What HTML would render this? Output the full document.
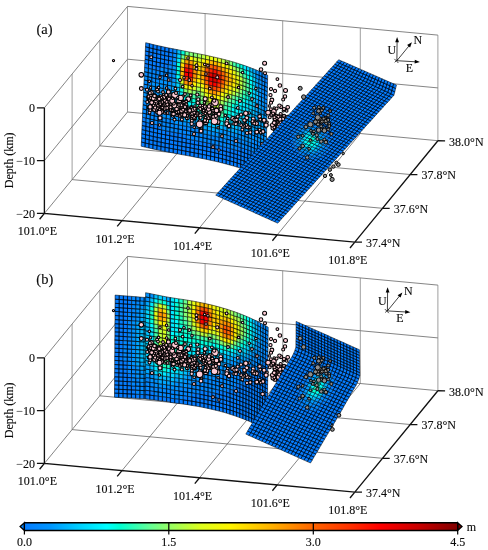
<!DOCTYPE html>
<html><head><meta charset="utf-8"><title>Fault slip models</title>
<style>
html,body{margin:0;padding:0;background:#fff}
svg{display:block}
text{font-family:"Liberation Serif","Times New Roman",serif;font-size:12px;fill:#0a0a0a;stroke:#0a0a0a;stroke-width:.12px}
.g{fill:none;stroke:#505050;stroke-width:.7}
.gv{fill:none;stroke:#7d7d7d;stroke-width:.75}
.ax{fill:none;stroke:#111;stroke-width:1.35;stroke-linejoin:miter}
.ar{fill:none;stroke:#111;stroke-width:.8}
.m{stroke:#000;stroke-width:.55;stroke-linejoin:round}
.n{stroke:#000;stroke-width:.5;stroke-linejoin:round}
.p{fill:#ffccd6;stroke:#000;stroke-width:1.05}
.q{fill:#8e8e8e;stroke:#000;stroke-width:.95}
</style></head><body>
<svg width="488" height="550" viewBox="0 0 488 550">
<rect width="488" height="550" fill="#fff"/>
<path class="g" d="M44.4 213.4L127.5 112M44.4 160.6L127.5 59.2M44.4 107.8L127.5 6.4M127.5 112L437.9 140.7M127.5 59.2L437.9 87.9M127.5 6.4L437.9 35.1M72.1 179.6L382.5 208.3M99.8 145.8L410.2 174.5M122 220.6L205.1 119.2M199.6 227.7L282.7 126.3M277.2 234.9L360.3 133.5"/>
<path class="gv" d="M72.1 179.6L72.1 74M99.8 145.8L99.8 40.2M127.5 112L127.5 6.4M205.1 119.2L205.1 13.6M282.7 126.3L282.7 20.7M360.3 133.5L360.3 27.9M437.9 140.7L437.9 35.1"/>
<path class="m" fill="#057cff" d="M145.7 42.7L149.4 43.6L149.3 47.8L145.5 46.8ZM149.4 43.6L153.2 44.6L153 48.7L149.3 47.8ZM153.2 44.6L157.1 45.5L156.9 49.6L153 48.7ZM157.1 45.5L161 46.3L160.8 50.5L156.9 49.6ZM161 46.3L165 47.2L164.8 51.3L160.8 50.5ZM165 47.2L169 48L168.8 52.2L164.8 51.3ZM169 48L173 48.8L172.8 53L168.8 52.2ZM264.9 73.8L267.7 75.2L267.6 79.3L264.8 78ZM145.5 46.8L149.3 47.8L149.1 51.9L145.3 51ZM149.3 47.8L153 48.7L152.9 52.8L149.1 51.9ZM153 48.7L156.9 49.6L156.7 53.7L152.9 52.8ZM156.9 49.6L160.8 50.5L160.7 54.6L156.7 53.7ZM160.8 50.5L164.8 51.3L164.6 55.5L160.7 54.6ZM164.8 51.3L168.8 52.2L168.6 56.3L164.6 55.5ZM168.8 52.2L172.8 53L172.7 57.1L168.6 56.3ZM264.8 78L267.6 79.3L267.5 83.4L264.8 82.1ZM145.3 51L149.1 51.9L148.9 56.1L145.2 55.1ZM149.1 51.9L152.9 52.8L152.7 57L148.9 56.1ZM152.9 52.8L156.7 53.7L156.6 57.9L152.7 57ZM156.7 53.7L160.7 54.6L160.5 58.7L156.6 57.9ZM160.7 54.6L164.6 55.5L164.5 59.6L160.5 58.7ZM164.6 55.5L168.6 56.3L168.5 60.4L164.5 59.6ZM168.6 56.3L172.7 57.1L172.5 61.2L168.5 60.4ZM145.2 55.1L148.9 56.1L148.7 60.2L145 59.2ZM148.9 56.1L152.7 57L152.5 61.1L148.7 60.2ZM152.7 57L156.6 57.9L156.4 62L152.5 61.1ZM156.6 57.9L160.5 58.7L160.3 62.9L156.4 62ZM160.5 58.7L164.5 59.6L164.3 63.7L160.3 62.9ZM164.5 59.6L168.5 60.4L168.3 64.6L164.3 63.7ZM168.5 60.4L172.5 61.2L172.4 65.4L168.3 64.6ZM145 59.2L148.7 60.2L148.5 64.3L144.8 63.4ZM148.7 60.2L152.5 61.1L152.4 65.3L148.5 64.3ZM152.5 61.1L156.4 62L156.2 66.2L152.4 65.3ZM156.4 62L160.3 62.9L160.2 67L156.2 66.2ZM160.3 62.9L164.3 63.7L164.1 67.9L160.2 67ZM164.3 63.7L168.3 64.6L168.1 68.7L164.1 67.9ZM144.8 63.4L148.5 64.3L148.4 68.5L144.6 67.5ZM148.5 64.3L152.4 65.3L152.2 69.4L148.4 68.5ZM152.4 65.3L156.2 66.2L156.1 70.3L152.2 69.4ZM156.2 66.2L160.2 67L160 71.2L156.1 70.3ZM142.5 117.2L146.2 118.1L146.1 122.3L142.3 121.3ZM142.3 121.3L146.1 122.3L145.9 126.4L142.1 125.5ZM146.1 122.3L149.9 123.2L149.7 127.3L145.9 126.4ZM149.9 123.2L153.8 124.1L153.7 128.2L149.7 127.3ZM153.8 124.1L157.8 124.9L157.6 129.1L153.7 128.2ZM157.8 124.9L161.8 125.8L161.7 129.9L157.6 129.1ZM263.3 152.1L266.2 153.5L266.1 157.6L263.3 156.2ZM142.1 125.5L145.9 126.4L145.7 130.6L141.9 129.6ZM145.9 126.4L149.7 127.3L149.6 131.5L145.7 130.6ZM149.7 127.3L153.7 128.2L153.5 132.4L149.6 131.5ZM153.7 128.2L157.6 129.1L157.5 133.2L153.5 132.4ZM157.6 129.1L161.7 129.9L161.5 134.1L157.5 133.2ZM161.7 129.9L165.7 130.7L165.6 134.9L161.5 134.1ZM165.7 130.7L169.8 131.5L169.7 135.7L165.6 134.9ZM169.8 131.5L173.9 132.3L173.8 136.5L169.7 135.7ZM173.9 132.3L178.1 133.1L177.9 137.2L173.8 136.5ZM178.1 133.1L182.3 133.9L182.1 138L177.9 137.2ZM182.3 133.9L186.4 134.7L186.3 138.8L182.1 138ZM237.6 146.5L241.1 147.6L241 151.7L237.5 150.6ZM241.1 147.6L244.5 148.8L244.4 152.9L241 151.7ZM244.5 148.8L247.9 150L247.8 154.1L244.4 152.9ZM247.9 150L251.1 151.2L251 155.3L247.8 154.1ZM251.1 151.2L254.3 152.4L254.2 156.5L251 155.3ZM254.3 152.4L257.3 153.7L257.3 157.8L254.2 156.5ZM257.3 153.7L260.3 154.9L260.3 159.1L257.3 157.8ZM260.3 154.9L263.3 156.2L263.2 160.4L260.3 159.1ZM263.3 156.2L266.1 157.6L266 161.7L263.2 160.4ZM141.9 129.6L145.7 130.6L145.5 134.7L141.7 133.8ZM145.7 130.6L149.6 131.5L149.4 135.6L145.5 134.7ZM149.6 131.5L153.5 132.4L153.3 136.5L149.4 135.6ZM153.5 132.4L157.5 133.2L157.3 137.4L153.3 136.5ZM157.5 133.2L161.5 134.1L161.3 138.2L157.3 137.4ZM161.5 134.1L165.6 134.9L165.4 139L161.3 138.2ZM165.6 134.9L169.7 135.7L169.5 139.8L165.4 139ZM169.7 135.7L173.8 136.5L173.6 140.6L169.5 139.8ZM173.8 136.5L177.9 137.2L177.8 141.4L173.6 140.6ZM177.9 137.2L182.1 138L182 142.1L177.8 141.4ZM182.1 138L186.3 138.8L186.1 142.9L182 142.1ZM186.3 138.8L190.4 139.6L190.3 143.7L186.1 142.9ZM190.4 139.6L194.6 140.4L194.4 144.5L190.3 143.7ZM194.6 140.4L198.7 141.2L198.6 145.3L194.4 144.5ZM198.7 141.2L202.8 142L202.7 146.1L198.6 145.3ZM202.8 142L206.9 142.8L206.8 146.9L202.7 146.1ZM206.9 142.8L210.9 143.7L210.8 147.8L206.8 146.9ZM210.9 143.7L214.9 144.6L214.8 148.7L210.8 147.8ZM214.9 144.6L218.9 145.5L218.7 149.6L214.8 148.7ZM218.9 145.5L222.7 146.5L222.6 150.6L218.7 149.6ZM222.7 146.5L226.6 147.5L226.4 151.6L222.6 150.6ZM226.6 147.5L230.3 148.5L230.2 152.6L226.4 151.6ZM230.3 148.5L233.9 149.5L233.8 153.7L230.2 152.6ZM233.9 149.5L237.5 150.6L237.4 154.7L233.8 153.7ZM237.5 150.6L241 151.7L240.9 155.9L237.4 154.7ZM241 151.7L244.4 152.9L244.3 157L240.9 155.9ZM244.4 152.9L247.8 154.1L247.7 158.2L244.3 157ZM247.8 154.1L251 155.3L250.9 159.4L247.7 158.2ZM251 155.3L254.2 156.5L254.1 160.6L250.9 159.4ZM254.2 156.5L257.3 157.8L257.2 161.9L254.1 160.6ZM257.3 157.8L260.3 159.1L260.2 163.2L257.2 161.9ZM260.3 159.1L263.2 160.4L263.1 164.5L260.2 163.2ZM263.2 160.4L266 161.7L265.9 165.8L263.1 164.5ZM141.7 133.8L145.5 134.7L145.4 138.8L141.6 137.9ZM145.5 134.7L149.4 135.6L149.2 139.8L145.4 138.8ZM149.4 135.6L153.3 136.5L153.1 140.6L149.2 139.8ZM153.3 136.5L157.3 137.4L157.1 141.5L153.1 140.6ZM157.3 137.4L161.3 138.2L161.2 142.3L157.1 141.5ZM161.3 138.2L165.4 139L165.2 143.2L161.2 142.3ZM165.4 139L169.5 139.8L169.3 143.9L165.2 143.2ZM169.5 139.8L173.6 140.6L173.5 144.7L169.3 143.9ZM173.6 140.6L177.8 141.4L177.6 145.5L173.5 144.7ZM177.8 141.4L182 142.1L181.8 146.3L177.6 145.5ZM182 142.1L186.1 142.9L186 147.1L181.8 146.3ZM186.1 142.9L190.3 143.7L190.1 147.8L186 147.1ZM190.3 143.7L194.4 144.5L194.3 148.6L190.1 147.8ZM194.4 144.5L198.6 145.3L198.4 149.4L194.3 148.6ZM198.6 145.3L202.7 146.1L202.6 150.2L198.4 149.4ZM202.7 146.1L206.8 146.9L206.6 151.1L202.6 150.2ZM206.8 146.9L210.8 147.8L210.7 151.9L206.6 151.1ZM210.8 147.8L214.8 148.7L214.7 152.8L210.7 151.9ZM214.8 148.7L218.7 149.6L218.6 153.8L214.7 152.8ZM218.7 149.6L222.6 150.6L222.5 154.7L218.6 153.8ZM222.6 150.6L226.4 151.6L226.3 155.7L222.5 154.7ZM226.4 151.6L230.2 152.6L230.1 156.7L226.3 155.7ZM230.2 152.6L233.8 153.7L233.7 157.8L230.1 156.7ZM233.8 153.7L237.4 154.7L237.3 158.9L233.7 157.8ZM237.4 154.7L240.9 155.9L240.8 160L237.3 158.9ZM240.9 155.9L244.3 157L244.2 161.1L240.8 160ZM244.3 157L247.7 158.2L247.6 162.3L244.2 161.1ZM247.7 158.2L250.9 159.4L250.8 163.5L247.6 162.3ZM250.9 159.4L254.1 160.6L254 164.8L250.8 163.5ZM254.1 160.6L257.2 161.9L257.1 166L254 164.8ZM257.2 161.9L260.2 163.2L260.1 167.3L257.1 166ZM260.2 163.2L263.1 164.5L263 168.6L260.1 167.3ZM263.1 164.5L265.9 165.8L265.9 169.9L263 168.6ZM141.6 137.9L145.4 138.8L145.2 143L141.4 142ZM145.4 138.8L149.2 139.8L149 143.9L145.2 143ZM149.2 139.8L153.1 140.6L153 144.8L149 143.9ZM153.1 140.6L157.1 141.5L157 145.6L153 144.8ZM157.1 141.5L161.2 142.3L161 146.5L157 145.6ZM161.2 142.3L165.2 143.2L165.1 147.3L161 146.5ZM165.2 143.2L169.3 143.9L169.2 148.1L165.1 147.3ZM169.3 143.9L173.5 144.7L173.3 148.9L169.2 148.1ZM173.5 144.7L177.6 145.5L177.5 149.6L173.3 148.9ZM177.6 145.5L181.8 146.3L181.7 150.4L177.5 149.6ZM181.8 146.3L186 147.1L185.8 151.2L181.7 150.4ZM186 147.1L190.1 147.8L190 152L185.8 151.2ZM190.1 147.8L194.3 148.6L194.2 152.8L190 152ZM194.3 148.6L198.4 149.4L198.3 153.6L194.2 152.8ZM198.4 149.4L202.6 150.2L202.4 154.4L198.3 153.6ZM202.6 150.2L206.6 151.1L206.5 155.2L202.4 154.4ZM206.6 151.1L210.7 151.9L210.6 156.1L206.5 155.2ZM210.7 151.9L214.7 152.8L214.6 157L210.6 156.1ZM214.7 152.8L218.6 153.8L218.5 157.9L214.6 157ZM218.6 153.8L222.5 154.7L222.4 158.8L218.5 157.9ZM222.5 154.7L226.3 155.7L226.2 159.8L222.4 158.8ZM226.3 155.7L230.1 156.7L229.9 160.9L226.2 159.8ZM230.1 156.7L233.7 157.8L233.6 161.9L229.9 160.9ZM233.7 157.8L237.3 158.9L237.2 163L233.6 161.9ZM237.3 158.9L240.8 160L240.7 164.1L237.2 163ZM240.8 160L244.2 161.1L244.1 165.3L240.7 164.1ZM244.2 161.1L247.6 162.3L247.5 166.4L244.1 165.3ZM247.6 162.3L250.8 163.5L250.7 167.7L247.5 166.4ZM250.8 163.5L254 164.8L253.9 168.9L250.7 167.7ZM254 164.8L257.1 166L257 170.1L253.9 168.9ZM257.1 166L260.1 167.3L260 171.4L257 170.1ZM260.1 167.3L263 168.6L262.9 172.7L260 171.4ZM263 168.6L265.9 169.9L265.8 174.1L262.9 172.7ZM141.4 142L145.2 143L145 147.1L141.2 146.2ZM145.2 143L149 143.9L148.9 148L145 147.1ZM149 143.9L153 144.8L152.8 148.9L148.9 148ZM153 144.8L157 145.6L156.8 149.8L152.8 148.9ZM157 145.6L161 146.5L160.8 150.6L156.8 149.8ZM161 146.5L165.1 147.3L164.9 151.4L160.8 150.6ZM165.1 147.3L169.2 148.1L169 152.2L164.9 151.4ZM169.2 148.1L173.3 148.9L173.2 153L169 152.2ZM173.3 148.9L177.5 149.6L177.3 153.8L173.2 153ZM177.5 149.6L181.7 150.4L181.5 154.6L177.3 153.8ZM181.7 150.4L185.8 151.2L185.7 155.3L181.5 154.6ZM185.8 151.2L190 152L189.9 156.1L185.7 155.3ZM190 152L194.2 152.8L194 156.9L189.9 156.1ZM194.2 152.8L198.3 153.6L198.2 157.7L194 156.9ZM198.3 153.6L202.4 154.4L202.3 158.5L198.2 157.7ZM202.4 154.4L206.5 155.2L206.4 159.3L202.3 158.5ZM206.5 155.2L210.6 156.1L210.4 160.2L206.4 159.3ZM210.6 156.1L214.6 157L214.4 161.1L210.4 160.2ZM214.6 157L218.5 157.9L218.4 162L214.4 161.1ZM218.5 157.9L222.4 158.8L222.3 163L218.4 162ZM222.4 158.8L226.2 159.8L226.1 164L222.3 163ZM226.2 159.8L229.9 160.9L229.8 165L226.1 164ZM229.9 160.9L233.6 161.9L233.5 166L229.8 165ZM233.6 161.9L237.2 163L237.1 167.1L233.5 166ZM237.2 163L240.7 164.1L240.6 168.2L237.1 167.1ZM240.7 164.1L244.1 165.3L244 169.4L240.6 168.2ZM244.1 165.3L247.5 166.4L247.4 170.6L244 169.4ZM247.5 166.4L250.7 167.7L250.6 171.8L247.4 170.6ZM250.7 167.7L253.9 168.9L253.8 173L250.6 171.8ZM253.9 168.9L257 170.1L256.9 174.3L253.8 173ZM257 170.1L260 171.4L259.9 175.5L256.9 174.3ZM260 171.4L262.9 172.7L262.8 176.8L259.9 175.5ZM262.9 172.7L265.8 174.1L265.7 178.2L262.8 176.8Z"/>
<path class="m" fill="#0388ff" d="M173 48.8L177.1 49.6L176.9 53.8L172.8 53ZM259.1 71.2L262.1 72.5L262 76.6L259 75.3ZM262.1 72.5L264.9 73.8L264.8 78L262 76.6ZM172.8 53L176.9 53.8L176.7 57.9L172.7 57.1ZM259 75.3L262 76.6L261.9 80.8L259 79.5ZM262 76.6L264.8 78L264.8 82.1L261.9 80.8ZM172.7 57.1L176.7 57.9L176.6 62L172.5 61.2ZM261.9 80.8L264.8 82.1L264.7 86.2L261.8 84.9ZM264.8 82.1L267.5 83.4L267.5 87.5L264.7 86.2ZM261.8 84.9L264.7 86.2L264.6 90.3L261.7 89ZM264.7 86.2L267.5 87.5L267.4 91.7L264.6 90.3ZM168.3 64.6L172.4 65.4L172.2 69.5L168.1 68.7ZM261.7 89L264.6 90.3L264.5 94.4L261.6 93.1ZM264.6 90.3L267.4 91.7L267.3 95.8L264.5 94.4ZM160.2 67L164.1 67.9L164 72L160 71.2ZM164.1 67.9L168.1 68.7L168 72.8L164 72ZM168.1 68.7L172.2 69.5L172 73.6L168 72.8ZM261.6 93.1L264.5 94.4L264.4 98.6L261.5 97.2ZM264.5 94.4L267.3 95.8L267.2 99.9L264.4 98.6ZM144.6 67.5L148.4 68.5L148.2 72.6L144.4 71.7ZM148.4 68.5L152.2 69.4L152 73.5L148.2 72.6ZM152.2 69.4L156.1 70.3L155.9 74.4L152 73.5ZM156.1 70.3L160 71.2L159.8 75.3L155.9 74.4ZM160 71.2L164 72L163.8 76.1L159.8 75.3ZM164 72L168 72.8L167.8 77L163.8 76.1ZM168 72.8L172 73.6L171.9 77.8L167.8 77ZM264.4 98.6L267.2 99.9L267.1 104L264.3 102.7ZM144.4 71.7L148.2 72.6L148 76.7L144.3 75.8ZM148.2 72.6L152 73.5L151.8 77.7L148 76.7ZM152 73.5L155.9 74.4L155.7 78.6L151.8 77.7ZM155.9 74.4L159.8 75.3L159.6 79.4L155.7 78.6ZM159.8 75.3L163.8 76.1L163.6 80.3L159.6 79.4ZM163.8 76.1L167.8 77L167.7 81.1L163.6 80.3ZM167.8 77L171.9 77.8L171.7 81.9L167.7 81.1ZM264.3 102.7L267.1 104L267.1 108.1L264.3 106.8ZM144.3 75.8L148 76.7L147.8 80.9L144.1 79.9ZM148 76.7L151.8 77.7L151.7 81.8L147.8 80.9ZM151.8 77.7L155.7 78.6L155.5 82.7L151.7 81.8ZM155.7 78.6L159.6 79.4L159.5 83.6L155.5 82.7ZM144.1 79.9L147.8 80.9L147.7 85L143.9 84.1ZM147.8 80.9L151.7 81.8L151.5 85.9L147.7 85ZM143.9 84.1L147.7 85L147.5 89.2L143.7 88.2ZM143.2 100.6L147 101.6L146.8 105.7L143 104.8ZM143 104.8L146.8 105.7L146.6 109.9L142.8 108.9ZM146.8 105.7L150.6 106.6L150.4 110.8L146.6 109.9ZM142.8 108.9L146.6 109.9L146.4 114L142.6 113.1ZM146.6 109.9L150.4 110.8L150.3 114.9L146.4 114ZM150.4 110.8L154.3 111.7L154.2 115.8L150.3 114.9ZM154.3 111.7L158.3 112.5L158.1 116.7L154.2 115.8ZM158.3 112.5L162.3 113.4L162.2 117.5L158.1 116.7ZM263.6 139.8L266.4 141.1L266.3 145.2L263.5 143.9ZM142.6 113.1L146.4 114L146.2 118.1L142.5 117.2ZM146.4 114L150.3 114.9L150.1 119.1L146.2 118.1ZM150.3 114.9L154.2 115.8L154 119.9L150.1 119.1ZM154.2 115.8L158.1 116.7L158 120.8L154 119.9ZM158.1 116.7L162.2 117.5L162 121.6L158 120.8ZM162.2 117.5L166.2 118.3L166 122.5L162 121.6ZM166.2 118.3L170.3 119.1L170.1 123.3L166 122.5ZM170.3 119.1L174.4 119.9L174.3 124.1L170.1 123.3ZM251.4 138.8L254.5 140L254.5 144.2L251.3 142.9ZM254.5 140L257.6 141.3L257.5 145.4L254.5 144.2ZM257.6 141.3L260.6 142.6L260.5 146.7L257.5 145.4ZM260.6 142.6L263.5 143.9L263.4 148L260.5 146.7ZM263.5 143.9L266.3 145.2L266.3 149.3L263.4 148ZM146.2 118.1L150.1 119.1L149.9 123.2L146.1 122.3ZM150.1 119.1L154 119.9L153.8 124.1L149.9 123.2ZM154 119.9L158 120.8L157.8 124.9L153.8 124.1ZM158 120.8L162 121.6L161.8 125.8L157.8 124.9ZM162 121.6L166 122.5L165.9 126.6L161.8 125.8ZM166 122.5L170.1 123.3L170 127.4L165.9 126.6ZM170.1 123.3L174.3 124.1L174.1 128.2L170 127.4ZM174.3 124.1L178.4 124.8L178.2 129L174.1 128.2ZM178.4 124.8L182.6 125.6L182.4 129.7L178.2 129ZM182.6 125.6L186.7 126.4L186.6 130.5L182.4 129.7ZM186.7 126.4L190.9 127.2L190.7 131.3L186.6 130.5ZM190.9 127.2L195 128L194.9 132.1L190.7 131.3ZM195 128L199.1 128.8L199 132.9L194.9 132.1ZM226.9 135.1L230.6 136.1L230.5 140.2L226.8 139.2ZM230.6 136.1L234.3 137.2L234.2 141.3L230.5 140.2ZM234.3 137.2L237.8 138.2L237.7 142.4L234.2 141.3ZM237.8 138.2L241.3 139.4L241.2 143.5L237.7 142.4ZM241.3 139.4L244.7 140.5L244.6 144.6L241.2 143.5ZM244.7 140.5L248.1 141.7L248 145.8L244.6 144.6ZM248.1 141.7L251.3 142.9L251.2 147L248 145.8ZM251.3 142.9L254.5 144.2L254.4 148.3L251.2 147ZM254.5 144.2L257.5 145.4L257.4 149.5L254.4 148.3ZM257.5 145.4L260.5 146.7L260.4 150.8L257.4 149.5ZM260.5 146.7L263.4 148L263.3 152.1L260.4 150.8ZM263.4 148L266.3 149.3L266.2 153.5L263.3 152.1ZM161.8 125.8L165.9 126.6L165.7 130.7L161.7 129.9ZM165.9 126.6L170 127.4L169.8 131.5L165.7 130.7ZM170 127.4L174.1 128.2L173.9 132.3L169.8 131.5ZM174.1 128.2L178.2 129L178.1 133.1L173.9 132.3ZM178.2 129L182.4 129.7L182.3 133.9L178.1 133.1ZM182.4 129.7L186.6 130.5L186.4 134.7L182.3 133.9ZM186.6 130.5L190.7 131.3L190.6 135.4L186.4 134.7ZM190.7 131.3L194.9 132.1L194.7 136.2L190.6 135.4ZM194.9 132.1L199 132.9L198.9 137L194.7 136.2ZM199 132.9L203.1 133.7L203 137.8L198.9 137ZM203.1 133.7L207.2 134.6L207 138.7L203 137.8ZM207.2 134.6L211.2 135.4L211.1 139.6L207 138.7ZM211.2 135.4L215.2 136.3L215.1 140.4L211.1 139.6ZM215.2 136.3L219.1 137.2L219 141.4L215.1 140.4ZM219.1 137.2L223 138.2L222.9 142.3L219 141.4ZM223 138.2L226.8 139.2L226.7 143.3L222.9 142.3ZM226.8 139.2L230.5 140.2L230.4 144.3L226.7 143.3ZM230.5 140.2L234.2 141.3L234.1 145.4L230.4 144.3ZM234.2 141.3L237.7 142.4L237.6 146.5L234.1 145.4ZM237.7 142.4L241.2 143.5L241.1 147.6L237.6 146.5ZM241.2 143.5L244.6 144.6L244.5 148.8L241.1 147.6ZM244.6 144.6L248 145.8L247.9 150L244.5 148.8ZM248 145.8L251.2 147L251.1 151.2L247.9 150ZM251.2 147L254.4 148.3L254.3 152.4L251.1 151.2ZM254.4 148.3L257.4 149.5L257.3 153.7L254.3 152.4ZM257.4 149.5L260.4 150.8L260.3 154.9L257.3 153.7ZM260.4 150.8L263.3 152.1L263.3 156.2L260.3 154.9ZM186.4 134.7L190.6 135.4L190.4 139.6L186.3 138.8ZM190.6 135.4L194.7 136.2L194.6 140.4L190.4 139.6ZM194.7 136.2L198.9 137L198.7 141.2L194.6 140.4ZM198.9 137L203 137.8L202.8 142L198.7 141.2ZM203 137.8L207 138.7L206.9 142.8L202.8 142ZM207 138.7L211.1 139.6L210.9 143.7L206.9 142.8ZM211.1 139.6L215.1 140.4L214.9 144.6L210.9 143.7ZM215.1 140.4L219 141.4L218.9 145.5L214.9 144.6ZM219 141.4L222.9 142.3L222.7 146.5L218.9 145.5ZM222.9 142.3L226.7 143.3L226.6 147.5L222.7 146.5ZM226.7 143.3L230.4 144.3L230.3 148.5L226.6 147.5ZM230.4 144.3L234.1 145.4L233.9 149.5L230.3 148.5ZM234.1 145.4L237.6 146.5L237.5 150.6L233.9 149.5Z"/>
<path class="m" fill="#00beff" d="M177.1 49.6L181.1 50.4L181 54.6L176.9 53.8ZM249.8 67.5L253 68.7L252.9 72.8L249.7 71.6ZM252.9 72.8L256 74.1L255.9 78.2L252.8 76.9ZM255.7 86.4L258.8 87.7L258.7 91.8L255.7 90.6ZM255.7 90.6L258.7 91.8L258.6 96L255.6 94.7ZM255.6 94.7L258.6 96L258.5 100.1L255.5 98.8ZM252.3 101.7L255.4 102.9L255.3 107L252.2 105.8ZM175.7 86.8L179.8 87.6L179.6 91.8L175.5 91ZM252.2 105.8L255.3 107L255.2 111.2L252.1 109.9ZM175.5 91L179.6 91.8L179.5 95.9L175.3 95.1ZM248.9 108.7L252.1 109.9L252 114.1L248.8 112.8ZM252.1 109.9L255.2 111.2L255.1 115.3L252 114.1ZM175.3 95.1L179.5 95.9L179.3 100L175.2 99.2ZM248.8 112.8L252 114.1L251.9 118.2L248.7 117ZM252 114.1L255.1 115.3L255 119.4L251.9 118.2ZM175.2 99.2L179.3 100L179.2 104.2L175 103.4ZM245.4 115.8L248.7 117L248.6 121.1L245.2 119.9ZM248.7 117L251.9 118.2L251.8 122.3L248.6 121.1ZM251.9 118.2L255 119.4L254.9 123.5L251.8 122.3ZM175 103.4L179.2 104.2L179 108.3L174.9 107.5ZM179.2 104.2L183.3 104.9L183.1 109.1L179 108.3ZM241.9 118.7L245.2 119.9L245.1 124L241.8 122.9ZM245.2 119.9L248.6 121.1L248.5 125.2L245.1 124ZM248.6 121.1L251.8 122.3L251.7 126.4L248.5 125.2ZM179 108.3L183.1 109.1L183 113.2L178.9 112.4ZM183.1 109.1L187.3 109.9L187.1 114L183 113.2ZM234.7 120.6L238.3 121.7L238.2 125.9L234.6 124.8ZM238.3 121.7L241.8 122.9L241.7 127L238.2 125.9ZM241.8 122.9L245.1 124L245 128.1L241.7 127ZM187.1 114L191.3 114.8L191.2 118.9L187 118.1ZM191.3 114.8L195.4 115.6L195.3 119.7L191.2 118.9ZM227.3 122.7L231 123.7L230.9 127.8L227.1 126.8ZM231 123.7L234.6 124.8L234.5 128.9L230.9 127.8ZM234.6 124.8L238.2 125.9L238.1 130L234.5 128.9ZM199.4 120.5L203.5 121.3L203.4 125.5L199.3 124.6ZM203.5 121.3L207.6 122.2L207.4 126.3L203.4 125.5ZM207.6 122.2L211.6 123L211.5 127.2L207.4 126.3ZM211.6 123L215.6 123.9L215.4 128.1L211.5 127.2ZM215.6 123.9L219.5 124.9L219.4 129L215.4 128.1ZM219.5 124.9L223.3 125.8L223.2 129.9L219.4 129Z"/>
<path class="m" fill="#00ffdc" d="M181.1 50.4L185.2 51.2L185.1 55.3L181 54.6ZM239.8 64L243.2 65.1L243.1 69.2L239.7 68.1ZM243.1 69.2L246.5 70.4L246.4 74.5L243 73.4ZM246.4 74.5L249.6 75.7L249.5 79.8L246.3 78.7ZM176.6 62L180.7 62.8L180.5 67L176.4 66.2ZM176.4 66.2L180.5 67L180.4 71.1L176.3 70.3ZM249.4 84L252.6 85.2L252.5 89.3L249.3 88.1ZM176.3 70.3L180.4 71.1L180.2 75.2L176.1 74.4ZM249.3 88.1L252.5 89.3L252.4 93.4L249.2 92.2ZM245.9 95.2L249.1 96.3L249 100.5L245.8 99.3ZM242.4 98.1L245.8 99.3L245.7 103.4L242.3 102.2ZM179.8 87.6L183.9 88.4L183.7 92.5L179.6 91.8ZM235.3 100L238.8 101.1L238.7 105.2L235.2 104.1ZM231.5 103.1L235.2 104.1L235 108.3L231.4 107.2ZM187.7 97.5L191.9 98.2L191.7 102.4L187.6 101.6ZM191.9 98.2L196 99L195.9 103.2L191.7 102.4ZM227.6 110.3L231.3 111.3L231.2 115.5L227.5 114.4ZM195.7 107.3L199.8 108.1L199.7 112.2L195.6 111.4ZM223.7 113.4L227.5 114.4L227.4 118.6L223.6 117.6ZM203.8 113.1L207.8 113.9L207.7 118L203.6 117.2ZM215.8 115.7L219.7 116.6L219.6 120.7L215.7 119.8ZM219.7 116.6L223.6 117.6L223.5 121.7L219.6 120.7Z"/>
<path class="m" fill="#68ff92" d="M185.2 51.2L189.3 52L189.2 56.1L185.1 55.3ZM181 54.6L185.1 55.3L184.9 59.5L180.8 58.7ZM239 92.9L242.5 94L242.4 98.1L238.9 97ZM179.9 83.5L184 84.3L183.9 88.4L179.8 87.6ZM231.8 94.8L235.4 95.9L235.3 100L231.6 99ZM196.3 90.8L200.4 91.6L200.2 95.7L196.1 94.9ZM227.9 97.9L231.6 99L231.5 103.1L227.8 102.1ZM224.1 101.1L227.8 102.1L227.7 106.2L223.9 105.2ZM200.1 99.8L204.2 100.7L204 104.8L200 104ZM220 108.3L223.8 109.3L223.7 113.4L219.9 112.5ZM208 109.8L212 110.6L211.8 114.8L207.8 113.9ZM212 110.6L215.9 111.5L215.8 115.7L211.8 114.8ZM215.9 111.5L219.9 112.5L219.7 116.6L215.8 115.7Z"/>
<path class="m" fill="#85ff75" d="M189.3 52L193.4 52.8L193.3 56.9L189.2 56.1ZM193.4 52.8L197.5 53.6L197.4 57.7L193.3 56.9ZM229 60.8L232.7 61.8L232.6 65.9L228.9 64.9ZM236.2 67L239.7 68.1L239.6 72.2L236 71.1ZM239.6 72.2L243 73.4L242.9 77.5L239.5 76.4ZM242.9 77.5L246.3 78.7L246.2 82.8L242.8 81.6ZM242.8 81.6L246.2 82.8L246.1 86.9L242.7 85.7ZM242.7 85.7L246.1 86.9L246 91L242.6 89.9ZM239.1 88.7L242.6 89.9L242.5 94L239 92.9ZM235.5 91.8L239 92.9L238.9 97L235.4 95.9ZM183.9 88.4L188 89.2L187.9 93.3L183.7 92.5ZM192.2 90L196.3 90.8L196.1 94.9L192 94.1ZM200.2 95.7L204.3 96.5L204.2 100.7L200.1 99.8ZM220.1 104.2L223.9 105.2L223.8 109.3L220 108.3ZM204 104.8L208.1 105.6L208 109.8L203.9 108.9Z"/>
<path class="m" fill="#a2ff58" d="M197.5 53.6L201.6 54.4L201.5 58.5L197.4 57.7ZM225.3 59.8L229 60.8L228.9 64.9L225.1 63.9ZM232.6 65.9L236.2 67L236 71.1L232.4 70.1ZM196.4 86.6L200.5 87.4L200.4 91.6L196.3 90.8ZM228.1 93.8L231.8 94.8L231.6 99L227.9 97.9ZM188 89.2L192.2 90L192 94.1L187.9 93.3ZM200.4 91.6L204.4 92.4L204.3 96.5L200.2 95.7ZM224.2 96.9L227.9 97.9L227.8 102.1L224.1 101.1ZM220.2 100.1L224.1 101.1L223.9 105.2L220.1 104.2ZM204.2 100.7L208.2 101.5L208.1 105.6L204 104.8ZM208.1 105.6L212.1 106.5L212 110.6L208 109.8ZM212.1 106.5L216.1 107.4L215.9 111.5L212 110.6ZM216.1 107.4L220 108.3L219.9 112.5L215.9 111.5Z"/>
<path class="m" fill="#bcff3e" d="M201.6 54.4L205.7 55.2L205.5 59.4L201.5 58.5ZM221.4 58.8L225.3 59.8L225.1 63.9L221.3 62.9ZM236 71.1L239.6 72.2L239.5 76.4L235.9 75.3ZM239.5 76.4L242.9 77.5L242.8 81.6L239.4 80.5ZM239.4 80.5L242.8 81.6L242.7 85.7L239.2 84.6ZM239.2 84.6L242.7 85.7L242.6 89.9L239.1 88.7ZM235.6 87.6L239.1 88.7L239 92.9L235.5 91.8ZM231.9 90.7L235.5 91.8L235.4 95.9L231.8 94.8ZM204.3 96.5L208.4 97.4L208.2 101.5L204.2 100.7ZM208.2 101.5L212.2 102.4L212.1 106.5L208.1 105.6ZM216.2 103.3L220.1 104.2L220 108.3L216.1 107.4Z"/>
<path class="m" fill="#d7ff23" d="M205.7 55.2L209.7 56.1L209.5 60.2L205.5 59.4ZM217.6 57.9L221.4 58.8L221.3 62.9L217.4 62ZM193.3 56.9L197.4 57.7L197.3 61.8L193.2 61ZM197.4 57.7L201.5 58.5L201.3 62.7L197.3 61.8ZM228.9 64.9L232.6 65.9L232.4 70.1L228.8 69ZM180.8 58.7L184.9 59.5L184.8 63.6L180.7 62.8ZM180.1 79.4L184.2 80.1L184 84.3L179.9 83.5ZM196.6 82.5L200.6 83.3L200.5 87.4L196.4 86.6ZM192.3 85.8L196.4 86.6L196.3 90.8L192.2 90ZM200.5 87.4L204.6 88.3L204.4 92.4L200.4 91.6ZM224.3 92.8L228.1 93.8L227.9 97.9L224.2 96.9ZM220.3 96L224.2 96.9L224.1 101.1L220.2 100.1ZM216.3 99.2L220.2 100.1L220.1 104.2L216.2 103.3ZM212.2 102.4L216.2 103.3L216.1 107.4L212.1 106.5Z"/>
<path class="m" fill="#e7fc15" d="M209.7 56.1L213.6 57L213.5 61.1L209.5 60.2ZM213.6 57L217.6 57.9L217.4 62L213.5 61.1ZM185.1 55.3L189.2 56.1L189.1 60.3L184.9 59.5ZM232.4 70.1L236 71.1L235.9 75.3L232.3 74.2ZM235.9 75.3L239.5 76.4L239.4 80.5L235.8 79.4ZM235.8 79.4L239.4 80.5L239.2 84.6L235.7 83.5ZM235.7 83.5L239.2 84.6L239.1 88.7L235.6 87.6ZM232 86.6L235.6 87.6L235.5 91.8L231.9 90.7ZM228.2 89.7L231.9 90.7L231.8 94.8L228.1 93.8ZM204.4 92.4L208.5 93.3L208.4 97.4L204.3 96.5ZM208.4 97.4L212.4 98.3L212.2 102.4L208.2 101.5ZM212.4 98.3L216.3 99.2L216.2 103.3L212.2 102.4Z"/>
<path class="m" fill="#43ffaa" d="M232.7 61.8L236.3 62.9L236.2 67L232.6 65.9ZM239.7 68.1L243.1 69.2L243 73.4L239.6 72.2ZM243 73.4L246.4 74.5L246.3 78.7L242.9 77.5ZM246.3 78.7L249.5 79.8L249.4 84L246.2 82.8ZM246.2 82.8L249.4 84L249.3 88.1L246.1 86.9ZM246.1 86.9L249.3 88.1L249.2 92.2L246 91ZM242.6 89.9L246 91L245.9 95.2L242.5 94ZM235.4 95.9L238.9 97L238.8 101.1L235.3 100ZM231.6 99L235.3 100L235.2 104.1L231.5 103.1ZM187.9 93.3L192 94.1L191.9 98.2L187.7 97.5ZM192 94.1L196.1 94.9L196 99L191.9 98.2ZM196.1 94.9L200.2 95.7L200.1 99.8L196 99ZM227.8 102.1L231.5 103.1L231.4 107.2L227.7 106.2ZM196 99L200.1 99.8L200 104L195.9 103.2ZM223.9 105.2L227.7 106.2L227.6 110.3L223.8 109.3ZM200 104L204 104.8L203.9 108.9L199.8 108.1ZM203.9 108.9L208 109.8L207.8 113.9L203.8 113.1ZM219.9 112.5L223.7 113.4L223.6 117.6L219.7 116.6Z"/>
<path class="m" fill="#1dffc1" d="M236.3 62.9L239.8 64L239.7 68.1L236.2 67ZM246 91L249.2 92.2L249.1 96.3L245.9 95.2ZM242.5 94L245.9 95.2L245.8 99.3L242.4 98.1ZM238.9 97L242.4 98.1L242.3 102.2L238.8 101.1ZM183.7 92.5L187.9 93.3L187.7 97.5L183.6 96.7ZM227.7 106.2L231.4 107.2L231.3 111.3L227.6 110.3ZM195.9 103.2L200 104L199.8 108.1L195.7 107.3ZM223.8 109.3L227.6 110.3L227.5 114.4L223.7 113.4ZM199.8 108.1L203.9 108.9L203.8 113.1L199.7 112.2ZM207.8 113.9L211.8 114.8L211.7 118.9L207.7 118ZM211.8 114.8L215.8 115.7L215.7 119.8L211.7 118.9Z"/>
<path class="m" fill="#00e8ff" d="M243.2 65.1L246.6 66.3L246.5 70.4L243.1 69.2ZM176.7 57.9L180.8 58.7L180.7 62.8L176.6 62ZM252.6 85.2L255.7 86.4L255.7 90.6L252.5 89.3ZM176 78.6L180.1 79.4L179.9 83.5L175.8 82.7ZM249.1 96.3L252.3 97.6L252.3 101.7L249 100.5ZM245.8 99.3L249 100.5L248.9 104.6L245.7 103.4ZM242.3 102.2L245.7 103.4L245.6 107.5L242.2 106.4ZM245.7 103.4L248.9 104.6L248.9 108.7L245.6 107.5ZM179.6 91.8L183.7 92.5L183.6 96.7L179.5 95.9ZM238.7 105.2L242.2 106.4L242.1 110.5L238.6 109.4ZM242.2 106.4L245.6 107.5L245.5 111.7L242.1 110.5ZM238.6 109.4L242.1 110.5L242 114.6L238.5 113.5ZM183.4 100.8L187.6 101.6L187.4 105.7L183.3 104.9ZM234.9 112.4L238.5 113.5L238.4 117.6L234.8 116.5ZM187.4 105.7L191.6 106.5L191.4 110.6L187.3 109.9ZM191.6 106.5L195.7 107.3L195.6 111.4L191.4 110.6ZM231.2 115.5L234.8 116.5L234.7 120.6L231.1 119.6ZM195.6 111.4L199.7 112.2L199.5 116.4L195.4 115.6ZM227.4 118.6L231.1 119.6L231 123.7L227.3 122.7ZM203.6 117.2L207.7 118L207.6 122.2L203.5 121.3ZM207.7 118L211.7 118.9L211.6 123L207.6 122.2ZM211.7 118.9L215.7 119.8L215.6 123.9L211.6 123ZM215.7 119.8L219.6 120.7L219.5 124.9L215.6 123.9ZM219.6 120.7L223.5 121.7L223.3 125.8L219.5 124.9Z"/>
<path class="m" fill="#00d4ff" d="M246.6 66.3L249.8 67.5L249.7 71.6L246.5 70.4ZM176.9 53.8L181 54.6L180.8 58.7L176.7 57.9ZM249.7 71.6L252.9 72.8L252.8 76.9L249.6 75.7ZM252.8 76.9L255.9 78.2L255.8 82.3L252.7 81.1ZM252.7 81.1L255.8 82.3L255.7 86.4L252.6 85.2ZM252.5 89.3L255.7 90.6L255.6 94.7L252.4 93.4ZM252.4 93.4L255.6 94.7L255.5 98.8L252.3 97.6ZM252.3 97.6L255.5 98.8L255.4 102.9L252.3 101.7ZM175.8 82.7L179.9 83.5L179.8 87.6L175.7 86.8ZM249 100.5L252.3 101.7L252.2 105.8L248.9 104.6ZM248.9 104.6L252.2 105.8L252.1 109.9L248.9 108.7ZM245.6 107.5L248.9 108.7L248.8 112.8L245.5 111.7ZM179.5 95.9L183.6 96.7L183.4 100.8L179.3 100ZM242.1 110.5L245.5 111.7L245.4 115.8L242 114.6ZM245.5 111.7L248.8 112.8L248.7 117L245.4 115.8ZM179.3 100L183.4 100.8L183.3 104.9L179.2 104.2ZM238.5 113.5L242 114.6L241.9 118.7L238.4 117.6ZM242 114.6L245.4 115.8L245.2 119.9L241.9 118.7ZM183.3 104.9L187.4 105.7L187.3 109.9L183.1 109.1ZM234.8 116.5L238.4 117.6L238.3 121.7L234.7 120.6ZM238.4 117.6L241.9 118.7L241.8 122.9L238.3 121.7ZM187.3 109.9L191.4 110.6L191.3 114.8L187.1 114ZM191.4 110.6L195.6 111.4L195.4 115.6L191.3 114.8ZM231.1 119.6L234.7 120.6L234.6 124.8L231 123.7ZM195.4 115.6L199.5 116.4L199.4 120.5L195.3 119.7ZM199.5 116.4L203.6 117.2L203.5 121.3L199.4 120.5ZM223.5 121.7L227.3 122.7L227.1 126.8L223.3 125.8Z"/>
<path class="m" fill="#00a7ff" d="M253 68.7L256.1 69.9L256 74.1L252.9 72.8ZM255.9 78.2L259 79.5L258.9 83.6L255.8 82.3ZM255.8 82.3L258.9 83.6L258.8 87.7L255.7 86.4ZM255.5 98.8L258.5 100.1L258.4 104.2L255.4 102.9ZM171.7 81.9L175.8 82.7L175.7 86.8L171.6 86ZM255.4 102.9L258.4 104.2L258.3 108.3L255.3 107ZM258.4 104.2L261.4 105.5L261.3 109.6L258.3 108.3ZM171.6 86L175.7 86.8L175.5 91L171.4 90.2ZM255.3 107L258.3 108.3L258.2 112.4L255.2 111.2ZM258.3 108.3L261.3 109.6L261.2 113.7L258.2 112.4ZM163.3 88.6L167.3 89.4L167.2 93.5L163.1 92.7ZM167.3 89.4L171.4 90.2L171.2 94.3L167.2 93.5ZM171.4 90.2L175.5 91L175.3 95.1L171.2 94.3ZM255.2 111.2L258.2 112.4L258.1 116.6L255.1 115.3ZM258.2 112.4L261.2 113.7L261.1 117.8L258.1 116.6ZM261.2 113.7L264.1 115L264 119.2L261.1 117.8ZM159.1 91.8L163.1 92.7L163 96.8L159 96ZM163.1 92.7L167.2 93.5L167 97.7L163 96.8ZM167.2 93.5L171.2 94.3L171.1 98.5L167 97.7ZM171.2 94.3L175.3 95.1L175.2 99.2L171.1 98.5ZM255.1 115.3L258.1 116.6L258.1 120.7L255 119.4ZM258.1 116.6L261.1 117.8L261 122L258.1 120.7ZM261.1 117.8L264 119.2L263.9 123.3L261 122ZM159 96L163 96.8L162.8 101L158.8 100.1ZM163 96.8L167 97.7L166.9 101.8L162.8 101ZM167 97.7L171.1 98.5L170.9 102.6L166.9 101.8ZM171.1 98.5L175.2 99.2L175 103.4L170.9 102.6ZM255 119.4L258.1 120.7L258 124.8L254.9 123.5ZM258.1 120.7L261 122L260.9 126.1L258 124.8ZM261 122L263.9 123.3L263.8 127.4L260.9 126.1ZM263.9 123.3L266.7 124.6L266.7 128.7L263.8 127.4ZM158.8 100.1L162.8 101L162.6 105.1L158.6 104.3ZM162.8 101L166.9 101.8L166.7 105.9L162.6 105.1ZM166.9 101.8L170.9 102.6L170.8 106.7L166.7 105.9ZM170.9 102.6L175 103.4L174.9 107.5L170.8 106.7ZM251.8 122.3L254.9 123.5L254.8 127.7L251.7 126.4ZM254.9 123.5L258 124.8L257.9 128.9L254.8 127.7ZM258 124.8L260.9 126.1L260.9 130.2L257.9 128.9ZM260.9 126.1L263.8 127.4L263.8 131.5L260.9 130.2ZM166.7 105.9L170.8 106.7L170.6 110.9L166.5 110.1ZM170.8 106.7L174.9 107.5L174.7 111.7L170.6 110.9ZM174.9 107.5L179 108.3L178.9 112.4L174.7 111.7ZM245.1 124L248.5 125.2L248.4 129.3L245 128.1ZM248.5 125.2L251.7 126.4L251.6 130.5L248.4 129.3ZM251.7 126.4L254.8 127.7L254.7 131.8L251.6 130.5ZM254.8 127.7L257.9 128.9L257.8 133L254.7 131.8ZM257.9 128.9L260.9 130.2L260.8 134.3L257.8 133ZM170.6 110.9L174.7 111.7L174.6 115.8L170.5 115ZM174.7 111.7L178.9 112.4L178.7 116.6L174.6 115.8ZM178.9 112.4L183 113.2L182.8 117.3L178.7 116.6ZM183 113.2L187.1 114L187 118.1L182.8 117.3ZM238.2 125.9L241.7 127L241.5 131.1L238.1 130ZM241.7 127L245 128.1L244.9 132.3L241.5 131.1ZM245 128.1L248.4 129.3L248.3 133.5L244.9 132.3ZM248.4 129.3L251.6 130.5L251.5 134.7L248.3 133.5ZM182.8 117.3L187 118.1L186.9 122.3L182.7 121.5ZM187 118.1L191.2 118.9L191 123L186.9 122.3ZM191.2 118.9L195.3 119.7L195.1 123.8L191 123ZM195.3 119.7L199.4 120.5L199.3 124.6L195.1 123.8ZM223.3 125.8L227.1 126.8L227 130.9L223.2 129.9ZM227.1 126.8L230.9 127.8L230.7 132L227 130.9ZM230.9 127.8L234.5 128.9L234.4 133L230.7 132ZM234.5 128.9L238.1 130L238 134.1L234.4 133ZM203.4 125.5L207.4 126.3L207.3 130.4L203.2 129.6ZM207.4 126.3L211.5 127.2L211.3 131.3L207.3 130.4ZM211.5 127.2L215.4 128.1L215.3 132.2L211.3 131.3ZM215.4 128.1L219.4 129L219.2 133.1L215.3 132.2Z"/>
<path class="m" fill="#0193ff" d="M256.1 69.9L259.1 71.2L259 75.3L256 74.1ZM256 74.1L259 75.3L259 79.5L255.9 78.2ZM259 79.5L261.9 80.8L261.8 84.9L258.9 83.6ZM172.5 61.2L176.6 62L176.4 66.2L172.4 65.4ZM258.9 83.6L261.8 84.9L261.7 89L258.8 87.7ZM172.4 65.4L176.4 66.2L176.3 70.3L172.2 69.5ZM258.8 87.7L261.7 89L261.6 93.1L258.7 91.8ZM172.2 69.5L176.3 70.3L176.1 74.4L172 73.6ZM258.7 91.8L261.6 93.1L261.5 97.2L258.6 96ZM172 73.6L176.1 74.4L176 78.6L171.9 77.8ZM258.6 96L261.5 97.2L261.5 101.4L258.5 100.1ZM261.5 97.2L264.4 98.6L264.3 102.7L261.5 101.4ZM171.9 77.8L176 78.6L175.8 82.7L171.7 81.9ZM258.5 100.1L261.5 101.4L261.4 105.5L258.4 104.2ZM261.5 101.4L264.3 102.7L264.3 106.8L261.4 105.5ZM159.6 79.4L163.6 80.3L163.5 84.4L159.5 83.6ZM163.6 80.3L167.7 81.1L167.5 85.2L163.5 84.4ZM167.7 81.1L171.7 81.9L171.6 86L167.5 85.2ZM261.4 105.5L264.3 106.8L264.2 110.9L261.3 109.6ZM264.3 106.8L267.1 108.1L267 112.3L264.2 110.9ZM151.7 81.8L155.5 82.7L155.4 86.8L151.5 85.9ZM155.5 82.7L159.5 83.6L159.3 87.7L155.4 86.8ZM159.5 83.6L163.5 84.4L163.3 88.6L159.3 87.7ZM163.5 84.4L167.5 85.2L167.3 89.4L163.3 88.6ZM167.5 85.2L171.6 86L171.4 90.2L167.3 89.4ZM261.3 109.6L264.2 110.9L264.1 115L261.2 113.7ZM264.2 110.9L267 112.3L266.9 116.4L264.1 115ZM147.7 85L151.5 85.9L151.3 90.1L147.5 89.2ZM151.5 85.9L155.4 86.8L155.2 91L151.3 90.1ZM155.4 86.8L159.3 87.7L159.1 91.8L155.2 91ZM159.3 87.7L163.3 88.6L163.1 92.7L159.1 91.8ZM264.1 115L266.9 116.4L266.8 120.5L264 119.2ZM143.7 88.2L147.5 89.2L147.3 93.3L143.5 92.4ZM147.5 89.2L151.3 90.1L151.1 94.2L147.3 93.3ZM151.3 90.1L155.2 91L155 95.1L151.1 94.2ZM155.2 91L159.1 91.8L159 96L155 95.1ZM264 119.2L266.8 120.5L266.7 124.6L263.9 123.3ZM143.5 92.4L147.3 93.3L147.1 97.4L143.4 96.5ZM147.3 93.3L151.1 94.2L151 98.4L147.1 97.4ZM151.1 94.2L155 95.1L154.9 99.3L151 98.4ZM155 95.1L159 96L158.8 100.1L154.9 99.3ZM143.4 96.5L147.1 97.4L147 101.6L143.2 100.6ZM147.1 97.4L151 98.4L150.8 102.5L147 101.6ZM151 98.4L154.9 99.3L154.7 103.4L150.8 102.5ZM154.9 99.3L158.8 100.1L158.6 104.3L154.7 103.4ZM263.8 127.4L266.7 128.7L266.6 132.9L263.8 131.5ZM147 101.6L150.8 102.5L150.6 106.6L146.8 105.7ZM150.8 102.5L154.7 103.4L154.5 107.5L150.6 106.6ZM154.7 103.4L158.6 104.3L158.5 108.4L154.5 107.5ZM158.6 104.3L162.6 105.1L162.5 109.2L158.5 108.4ZM162.6 105.1L166.7 105.9L166.5 110.1L162.5 109.2ZM260.9 130.2L263.8 131.5L263.7 135.6L260.8 134.3ZM263.8 131.5L266.6 132.9L266.5 137L263.7 135.6ZM150.6 106.6L154.5 107.5L154.3 111.7L150.4 110.8ZM154.5 107.5L158.5 108.4L158.3 112.5L154.3 111.7ZM158.5 108.4L162.5 109.2L162.3 113.4L158.3 112.5ZM162.5 109.2L166.5 110.1L166.4 114.2L162.3 113.4ZM166.5 110.1L170.6 110.9L170.5 115L166.4 114.2ZM251.6 130.5L254.7 131.8L254.6 135.9L251.5 134.7ZM254.7 131.8L257.8 133L257.7 137.2L254.6 135.9ZM257.8 133L260.8 134.3L260.7 138.5L257.7 137.2ZM260.8 134.3L263.7 135.6L263.6 139.8L260.7 138.5ZM263.7 135.6L266.5 137L266.4 141.1L263.6 139.8ZM162.3 113.4L166.4 114.2L166.2 118.3L162.2 117.5ZM166.4 114.2L170.5 115L170.3 119.1L166.2 118.3ZM170.5 115L174.6 115.8L174.4 119.9L170.3 119.1ZM174.6 115.8L178.7 116.6L178.6 120.7L174.4 119.9ZM178.7 116.6L182.8 117.3L182.7 121.5L178.6 120.7ZM238.1 130L241.5 131.1L241.4 135.2L238 134.1ZM241.5 131.1L244.9 132.3L244.8 136.4L241.4 135.2ZM244.9 132.3L248.3 133.5L248.2 137.6L244.8 136.4ZM248.3 133.5L251.5 134.7L251.4 138.8L248.2 137.6ZM251.5 134.7L254.6 135.9L254.5 140L251.4 138.8ZM254.6 135.9L257.7 137.2L257.6 141.3L254.5 140ZM257.7 137.2L260.7 138.5L260.6 142.6L257.6 141.3ZM260.7 138.5L263.6 139.8L263.5 143.9L260.6 142.6ZM174.4 119.9L178.6 120.7L178.4 124.8L174.3 124.1ZM178.6 120.7L182.7 121.5L182.6 125.6L178.4 124.8ZM182.7 121.5L186.9 122.3L186.7 126.4L182.6 125.6ZM186.9 122.3L191 123L190.9 127.2L186.7 126.4ZM191 123L195.1 123.8L195 128L190.9 127.2ZM195.1 123.8L199.3 124.6L199.1 128.8L195 128ZM199.3 124.6L203.4 125.5L203.2 129.6L199.1 128.8ZM219.4 129L223.2 129.9L223.1 134.1L219.2 133.1ZM223.2 129.9L227 130.9L226.9 135.1L223.1 134.1ZM227 130.9L230.7 132L230.6 136.1L226.9 135.1ZM230.7 132L234.4 133L234.3 137.2L230.6 136.1ZM234.4 133L238 134.1L237.8 138.2L234.3 137.2ZM238 134.1L241.4 135.2L241.3 139.4L237.8 138.2ZM241.4 135.2L244.8 136.4L244.7 140.5L241.3 139.4ZM244.8 136.4L248.2 137.6L248.1 141.7L244.7 140.5ZM248.2 137.6L251.4 138.8L251.3 142.9L248.1 141.7ZM199.1 128.8L203.2 129.6L203.1 133.7L199 132.9ZM203.2 129.6L207.3 130.4L207.2 134.6L203.1 133.7ZM207.3 130.4L211.3 131.3L211.2 135.4L207.2 134.6ZM211.3 131.3L215.3 132.2L215.2 136.3L211.2 135.4ZM215.3 132.2L219.2 133.1L219.1 137.2L215.2 136.3ZM219.2 133.1L223.1 134.1L223 138.2L219.1 137.2ZM223.1 134.1L226.9 135.1L226.8 139.2L223 138.2Z"/>
<path class="m" fill="#f4f809" d="M189.2 56.1L193.3 56.9L193.2 61L189.1 60.3ZM201.5 58.5L205.5 59.4L205.4 63.5L201.3 62.7ZM225.1 63.9L228.9 64.9L228.8 69L225 68ZM200.6 83.3L204.7 84.1L204.6 88.3L200.5 87.4ZM184 84.3L188.2 85.1L188 89.2L183.9 88.4ZM188.2 85.1L192.3 85.8L192.2 90L188 89.2ZM220.5 91.8L224.3 92.8L224.2 96.9L220.3 96ZM216.4 95L220.3 96L220.2 100.1L216.3 99.2Z"/>
<path class="m" fill="#ffdf00" d="M205.5 59.4L209.5 60.2L209.4 64.3L205.4 63.5ZM201.3 62.7L205.4 63.5L205.3 67.6L201.2 66.8ZM180.7 62.8L184.8 63.6L184.6 67.7L180.5 67ZM197.1 66L201.2 66.8L201.1 70.9L197 70.1ZM232.2 78.3L235.8 79.4L235.7 83.5L232.1 82.4ZM196.8 74.2L200.9 75.1L200.8 79.2L196.7 78.4ZM180.2 75.2L184.3 76L184.2 80.1L180.1 79.4ZM204.6 88.3L208.6 89.1L208.5 93.3L204.4 92.4ZM212.5 94.1L216.4 95L216.3 99.2L212.4 98.3Z"/>
<path class="m" fill="#ffb900" d="M209.5 60.2L213.5 61.1L213.4 65.2L209.4 64.3ZM213.5 61.1L217.4 62L217.3 66.1L213.4 65.2ZM193 65.2L197.1 66L197 70.1L192.9 69.3ZM201.2 66.8L205.3 67.6L205.1 71.7L201.1 70.9ZM180.5 67L184.6 67.7L184.5 71.9L180.4 71.1ZM228.5 77.3L232.2 78.3L232.1 82.4L228.4 81.4ZM180.4 71.1L184.5 71.9L184.3 76L180.2 75.2ZM192.6 77.6L196.7 78.4L196.6 82.5L192.4 81.7ZM220.6 87.7L224.4 88.7L224.3 92.8L220.5 91.8ZM216.6 90.9L220.5 91.8L220.3 96L216.4 95Z"/>
<path class="m" fill="#ffcc00" d="M217.4 62L221.3 62.9L221.2 67.1L217.3 66.1ZM225 68L228.8 69L228.6 73.2L224.9 72.2ZM228.6 73.2L232.3 74.2L232.2 78.3L228.5 77.3ZM197 70.1L201.1 70.9L200.9 75.1L196.8 74.2ZM228.4 81.4L232.1 82.4L232 86.6L228.3 85.5ZM200.8 79.2L204.9 80L204.7 84.1L200.6 83.3ZM224.5 84.5L228.3 85.5L228.2 89.7L224.4 88.7Z"/>
<path class="m" fill="#fff100" d="M221.3 62.9L225.1 63.9L225 68L221.2 67.1ZM193.2 61L197.3 61.8L197.1 66L193 65.2ZM197.3 61.8L201.3 62.7L201.2 66.8L197.1 66ZM228.8 69L232.4 70.1L232.3 74.2L228.6 73.2ZM232.3 74.2L235.9 75.3L235.8 79.4L232.2 78.3ZM232.1 82.4L235.7 83.5L235.6 87.6L232 86.6ZM196.7 78.4L200.8 79.2L200.6 83.3L196.6 82.5ZM228.3 85.5L232 86.6L231.9 90.7L228.2 89.7ZM192.4 81.7L196.6 82.5L196.4 86.6L192.3 85.8ZM224.4 88.7L228.2 89.7L228.1 93.8L224.3 92.8ZM208.5 93.3L212.5 94.1L212.4 98.3L208.4 97.4Z"/>
<path class="m" fill="#00fcff" d="M246.5 70.4L249.7 71.6L249.6 75.7L246.4 74.5ZM249.6 75.7L252.8 76.9L252.7 81.1L249.5 79.8ZM249.5 79.8L252.7 81.1L252.6 85.2L249.4 84ZM176.1 74.4L180.2 75.2L180.1 79.4L176 78.6ZM249.2 92.2L252.4 93.4L252.3 97.6L249.1 96.3ZM238.8 101.1L242.3 102.2L242.2 106.4L238.7 105.2ZM235.2 104.1L238.7 105.2L238.6 109.4L235 108.3ZM183.6 96.7L187.7 97.5L187.6 101.6L183.4 100.8ZM231.4 107.2L235 108.3L234.9 112.4L231.3 111.3ZM235 108.3L238.6 109.4L238.5 113.5L234.9 112.4ZM187.6 101.6L191.7 102.4L191.6 106.5L187.4 105.7ZM191.7 102.4L195.9 103.2L195.7 107.3L191.6 106.5ZM231.3 111.3L234.9 112.4L234.8 116.5L231.2 115.5ZM227.5 114.4L231.2 115.5L231.1 119.6L227.4 118.6ZM199.7 112.2L203.8 113.1L203.6 117.2L199.5 116.4ZM223.6 117.6L227.4 118.6L227.3 122.7L223.5 121.7Z"/>
<path class="m" fill="#ffa400" d="M184.9 59.5L189.1 60.3L188.9 64.4L184.8 63.6ZM189.1 60.3L193.2 61L193 65.2L188.9 64.4ZM221.2 67.1L225 68L224.9 72.2L221.1 71.2ZM224.9 72.2L228.6 73.2L228.5 77.3L224.8 76.3ZM201.1 70.9L205.1 71.7L205 75.9L200.9 75.1ZM200.9 75.1L205 75.9L204.9 80L200.8 79.2ZM224.7 80.4L228.4 81.4L228.3 85.5L224.5 84.5ZM204.7 84.1L208.8 85L208.6 89.1L204.6 88.3ZM208.6 89.1L212.6 90L212.5 94.1L208.5 93.3Z"/>
<path class="m" fill="#ff8f00" d="M205.4 63.5L209.4 64.3L209.3 68.5L205.3 67.6ZM192.9 69.3L197 70.1L196.8 74.2L192.7 73.4ZM224.8 76.3L228.5 77.3L228.4 81.4L224.7 80.4ZM192.7 73.4L196.8 74.2L196.7 78.4L192.6 77.6ZM184.2 80.1L188.3 80.9L188.2 85.1L184 84.3ZM188.3 80.9L192.4 81.7L192.3 85.8L188.2 85.1ZM212.6 90L216.6 90.9L216.4 95L212.5 94.1Z"/>
<path class="m" fill="#ff6400" d="M209.4 64.3L213.4 65.2L213.3 69.3L209.3 68.5ZM221.1 71.2L224.9 72.2L224.8 76.3L221 75.3ZM204.9 80L208.9 80.9L208.8 85L204.7 84.1ZM216.7 86.8L220.6 87.7L220.5 91.8L216.6 90.9Z"/>
<path class="m" fill="#ff5400" d="M213.4 65.2L217.3 66.1L217.2 70.3L213.3 69.3ZM205.3 67.6L209.3 68.5L209.1 72.6L205.1 71.7ZM221 75.3L224.8 76.3L224.7 80.4L220.8 79.4ZM220.8 79.4L224.7 80.4L224.5 84.5L220.7 83.6ZM208.8 85L212.7 85.9L212.6 90L208.6 89.1Z"/>
<path class="m" fill="#ff7a00" d="M217.3 66.1L221.2 67.1L221.1 71.2L217.2 70.3ZM220.7 83.6L224.5 84.5L224.4 88.7L220.6 87.7Z"/>
<path class="m" fill="#ff4400" d="M184.8 63.6L188.9 64.4L188.8 68.5L184.6 67.7ZM188.9 64.4L193 65.2L192.9 69.3L188.8 68.5ZM205.1 71.7L209.1 72.6L209 76.7L205 75.9ZM205 75.9L209 76.7L208.9 80.9L204.9 80ZM212.7 85.9L216.7 86.8L216.6 90.9L212.6 90Z"/>
<path class="m" fill="#ff2100" d="M209.3 68.5L213.3 69.3L213.1 73.5L209.1 72.6Z"/>
<path class="m" fill="#ff0e00" d="M213.3 69.3L217.2 70.3L217.1 74.4L213.1 73.5ZM188.8 68.5L192.9 69.3L192.7 73.4L188.6 72.7ZM217.1 74.4L221 75.3L220.8 79.4L216.9 78.5ZM216.9 78.5L220.8 79.4L220.7 83.6L216.8 82.6ZM208.9 80.9L212.9 81.7L212.7 85.9L208.8 85Z"/>
<path class="m" fill="#ff3400" d="M217.2 70.3L221.1 71.2L221 75.3L217.1 74.4ZM184.3 76L188.5 76.8L188.3 80.9L184.2 80.1ZM188.5 76.8L192.6 77.6L192.4 81.7L188.3 80.9ZM216.8 82.6L220.7 83.6L220.6 87.7L216.7 86.8Z"/>
<path class="m" fill="#fb0000" d="M184.6 67.7L188.8 68.5L188.6 72.7L184.5 71.9ZM184.5 71.9L188.6 72.7L188.5 76.8L184.3 76ZM188.6 72.7L192.7 73.4L192.6 77.6L188.5 76.8ZM212.9 81.7L216.8 82.6L216.7 86.8L212.7 85.9Z"/>
<path class="m" fill="#eb0000" d="M209.1 72.6L213.1 73.5L213 77.6L209 76.7ZM209 76.7L213 77.6L212.9 81.7L208.9 80.9Z"/>
<path class="m" fill="#da0000" d="M213.1 73.5L217.1 74.4L216.9 78.5L213 77.6ZM213 77.6L216.9 78.5L216.8 82.6L212.9 81.7Z"/>
<circle class="p" cx="170" cy="110" r="1.4"/>
<circle class="p" cx="173" cy="112.4" r="1.4"/>
<circle class="p" cx="149.7" cy="99.5" r="1.3"/>
<circle class="p" cx="205.7" cy="113.4" r="1.2"/>
<circle class="p" cx="191.5" cy="116.4" r="1.6"/>
<circle class="p" cx="150.3" cy="99.2" r="1.7"/>
<circle class="p" cx="157.2" cy="106.3" r="1.7"/>
<circle class="p" cx="188.3" cy="112.2" r="1.8"/>
<circle class="p" cx="185.9" cy="110.3" r="1.4"/>
<circle class="p" cx="177.4" cy="107.6" r="1.4"/>
<circle class="p" cx="179.2" cy="104.3" r="1.7"/>
<circle class="p" cx="187.8" cy="118.1" r="1.5"/>
<circle class="p" cx="198.8" cy="107.6" r="1.3"/>
<circle class="p" cx="200.8" cy="126.2" r="1.3"/>
<circle class="p" cx="149.8" cy="96.8" r="1.5"/>
<circle class="p" cx="169.3" cy="97.3" r="1.9"/>
<circle class="p" cx="188.2" cy="99.1" r="2.4"/>
<circle class="p" cx="194.2" cy="113" r="1.5"/>
<circle class="p" cx="192.9" cy="120" r="1.3"/>
<circle class="p" cx="194.5" cy="109.9" r="1.3"/>
<circle class="p" cx="158.9" cy="104.6" r="1.7"/>
<circle class="p" cx="164.6" cy="105.6" r="1.5"/>
<circle class="p" cx="152.7" cy="95.5" r="2"/>
<circle class="p" cx="208.3" cy="115.2" r="1.3"/>
<circle class="p" cx="172.5" cy="116" r="1.2"/>
<circle class="p" cx="163.5" cy="95.1" r="1.3"/>
<circle class="p" cx="188.8" cy="109.1" r="1.3"/>
<circle class="p" cx="187.2" cy="109.3" r="2.5"/>
<circle class="p" cx="183.6" cy="102.1" r="1.5"/>
<circle class="p" cx="202.4" cy="106.4" r="2"/>
<circle class="p" cx="174.9" cy="104.3" r="1.6"/>
<circle class="p" cx="151.8" cy="103.3" r="1.2"/>
<circle class="p" cx="171.1" cy="105.7" r="1.2"/>
<circle class="p" cx="172.8" cy="106" r="1.5"/>
<circle class="p" cx="190.6" cy="112" r="1.3"/>
<circle class="p" cx="155.7" cy="105.9" r="2.1"/>
<circle class="p" cx="180.1" cy="105.1" r="1.3"/>
<circle class="p" cx="165.8" cy="104.8" r="1.7"/>
<circle class="p" cx="148.6" cy="107.4" r="1.4"/>
<circle class="p" cx="148.9" cy="99.2" r="1.6"/>
<circle class="p" cx="208.3" cy="111.7" r="1.2"/>
<circle class="p" cx="201.8" cy="107.8" r="1.5"/>
<circle class="p" cx="170.4" cy="107.1" r="2.6"/>
<circle class="p" cx="204.2" cy="122" r="2"/>
<circle class="p" cx="163.1" cy="99" r="1.1"/>
<circle class="p" cx="166.8" cy="104.2" r="1.4"/>
<circle class="p" cx="214.9" cy="102.4" r="3.4"/>
<circle class="p" cx="172.9" cy="110.1" r="1.2"/>
<circle class="p" cx="161" cy="105.7" r="2.6"/>
<circle class="p" cx="181" cy="114.9" r="2"/>
<circle class="p" cx="153" cy="95.7" r="2"/>
<circle class="p" cx="180.9" cy="97.6" r="1.5"/>
<circle class="p" cx="170.6" cy="110" r="1.3"/>
<circle class="p" cx="214.2" cy="100.6" r="1.7"/>
<circle class="p" cx="156" cy="109.4" r="1.7"/>
<circle class="p" cx="205.7" cy="122.1" r="2.5"/>
<circle class="p" cx="171.9" cy="103" r="1.6"/>
<circle class="p" cx="193.1" cy="109.2" r="1.6"/>
<circle class="p" cx="177.8" cy="114" r="1.2"/>
<circle class="p" cx="167.8" cy="97.7" r="1.4"/>
<circle class="p" cx="165.4" cy="102" r="2.3"/>
<circle class="p" cx="179.5" cy="108.7" r="1.6"/>
<circle class="p" cx="176.9" cy="112.3" r="1.4"/>
<circle class="p" cx="148.3" cy="97.9" r="1.2"/>
<circle class="p" cx="147.3" cy="101.9" r="1.5"/>
<circle class="p" cx="186.5" cy="105.5" r="1.4"/>
<circle class="p" cx="186.4" cy="109.2" r="1.2"/>
<circle class="p" cx="166.7" cy="102.2" r="1.9"/>
<circle class="p" cx="186.9" cy="109.5" r="1.4"/>
<circle class="p" cx="182.9" cy="96.1" r="1.4"/>
<circle class="p" cx="179.1" cy="101.2" r="2.5"/>
<circle class="p" cx="209.2" cy="112" r="2.3"/>
<circle class="p" cx="186.7" cy="118.4" r="1.2"/>
<circle class="p" cx="178.4" cy="103.5" r="1.2"/>
<circle class="p" cx="152.2" cy="97.3" r="1.7"/>
<circle class="p" cx="197.8" cy="102.7" r="1.7"/>
<circle class="p" cx="209.7" cy="117.1" r="2.3"/>
<circle class="p" cx="181.6" cy="106.9" r="3.3"/>
<circle class="p" cx="158.5" cy="97.2" r="1.2"/>
<circle class="p" cx="169.6" cy="108" r="1.6"/>
<circle class="p" cx="186.3" cy="107.7" r="1.4"/>
<circle class="p" cx="183.4" cy="108.5" r="1.6"/>
<circle class="p" cx="203" cy="114.5" r="1.1"/>
<circle class="p" cx="202.3" cy="111.4" r="1.2"/>
<circle class="p" cx="177" cy="115.3" r="1.2"/>
<circle class="p" cx="212.3" cy="108.6" r="1.5"/>
<circle class="p" cx="153.4" cy="109.8" r="1.1"/>
<circle class="p" cx="213.6" cy="117" r="2"/>
<circle class="p" cx="152.9" cy="103.2" r="1.8"/>
<circle class="p" cx="171.1" cy="104" r="1.6"/>
<circle class="p" cx="166" cy="109.1" r="1.2"/>
<circle class="p" cx="158.5" cy="107.9" r="1.2"/>
<circle class="p" cx="169.2" cy="102.1" r="1.4"/>
<circle class="p" cx="159.6" cy="111.9" r="1.1"/>
<circle class="p" cx="164.8" cy="113.1" r="1.2"/>
<circle class="p" cx="180.7" cy="108.4" r="2.2"/>
<circle class="p" cx="205.1" cy="106.7" r="1.8"/>
<circle class="p" cx="183" cy="110.6" r="2.1"/>
<circle class="p" cx="171.3" cy="109.8" r="1.8"/>
<circle class="p" cx="171.7" cy="98.4" r="1.2"/>
<circle class="p" cx="152" cy="101.6" r="1.1"/>
<circle class="p" cx="206.7" cy="108.6" r="1.9"/>
<circle class="p" cx="167" cy="105" r="1.2"/>
<circle class="p" cx="178.7" cy="111.6" r="1.6"/>
<circle class="p" cx="216.1" cy="110.7" r="2.3"/>
<circle class="p" cx="172.3" cy="104.7" r="1.3"/>
<circle class="p" cx="180.7" cy="103.9" r="1.1"/>
<circle class="p" cx="165.8" cy="104.5" r="1.3"/>
<circle class="p" cx="150" cy="105.9" r="1.4"/>
<circle class="p" cx="184.6" cy="109" r="1.9"/>
<circle class="p" cx="197.8" cy="114.9" r="1.6"/>
<circle class="p" cx="157.6" cy="99.2" r="1.9"/>
<circle class="p" cx="150.1" cy="107.2" r="2"/>
<circle class="p" cx="204.7" cy="102.5" r="1.4"/>
<circle class="p" cx="182.8" cy="112.9" r="1.9"/>
<circle class="p" cx="210.4" cy="105.1" r="1.9"/>
<circle class="p" cx="163.3" cy="106.9" r="1.2"/>
<circle class="p" cx="206.3" cy="113.2" r="1.4"/>
<circle class="p" cx="191.5" cy="107.1" r="1.5"/>
<circle class="p" cx="200.1" cy="105.7" r="1.4"/>
<circle class="p" cx="193.8" cy="118.2" r="1.1"/>
<circle class="p" cx="165.9" cy="108.1" r="1.7"/>
<circle class="p" cx="199.5" cy="117.5" r="1.3"/>
<circle class="p" cx="195.5" cy="109.6" r="1.9"/>
<circle class="p" cx="192.6" cy="112.6" r="1.5"/>
<circle class="p" cx="168.6" cy="106.5" r="1.1"/>
<circle class="p" cx="151.3" cy="100.7" r="1.9"/>
<circle class="p" cx="167.7" cy="112.9" r="1.3"/>
<circle class="p" cx="180.1" cy="115.8" r="1.6"/>
<circle class="p" cx="213.5" cy="121.8" r="1.3"/>
<circle class="p" cx="205.2" cy="118.2" r="1.2"/>
<circle class="p" cx="214.1" cy="113.1" r="1.4"/>
<circle class="p" cx="157.1" cy="89.6" r="1.5"/>
<circle class="p" cx="183.1" cy="106" r="2"/>
<circle class="p" cx="163.4" cy="109.1" r="1.1"/>
<circle class="p" cx="181.9" cy="104" r="1.3"/>
<circle class="p" cx="157" cy="100.2" r="1.6"/>
<circle class="p" cx="200.3" cy="115.4" r="1.7"/>
<circle class="p" cx="212.8" cy="111.3" r="1.3"/>
<circle class="p" cx="174.9" cy="95.1" r="3.2"/>
<circle class="p" cx="172.6" cy="102" r="1.2"/>
<circle class="p" cx="206.3" cy="114.5" r="1.6"/>
<circle class="p" cx="164.7" cy="103.7" r="1.3"/>
<circle class="p" cx="214.9" cy="120.8" r="2"/>
<circle class="p" cx="191.8" cy="120.7" r="1.5"/>
<circle class="p" cx="150.5" cy="94.9" r="1.8"/>
<circle class="p" cx="200.4" cy="108.8" r="1.6"/>
<circle class="p" cx="156" cy="99.1" r="1.3"/>
<circle class="p" cx="168.1" cy="104" r="1.4"/>
<circle class="p" cx="168.4" cy="90.3" r="1.3"/>
<circle class="p" cx="158.9" cy="105.1" r="2.4"/>
<circle class="p" cx="162.6" cy="107.1" r="2.7"/>
<circle class="p" cx="178.9" cy="109.4" r="1.3"/>
<circle class="p" cx="153.5" cy="104.8" r="1.2"/>
<circle class="p" cx="187.4" cy="115.7" r="1.3"/>
<circle class="p" cx="184.2" cy="102.4" r="1.3"/>
<circle class="p" cx="151.4" cy="99.2" r="1.4"/>
<circle class="p" cx="191.7" cy="123.7" r="1.7"/>
<circle class="p" cx="166.2" cy="104.7" r="1.6"/>
<circle class="p" cx="207.3" cy="118.3" r="1.6"/>
<circle class="p" cx="149.3" cy="98.4" r="1.4"/>
<circle class="p" cx="147" cy="89.7" r="1.6"/>
<circle class="p" cx="205.6" cy="121.4" r="1.2"/>
<circle class="p" cx="158" cy="91.6" r="1.4"/>
<circle class="p" cx="213.8" cy="112.8" r="1.8"/>
<circle class="p" cx="186.2" cy="101" r="1.5"/>
<circle class="p" cx="163.5" cy="110.9" r="1.2"/>
<circle class="p" cx="164.9" cy="100.6" r="1.9"/>
<circle class="p" cx="155" cy="108.3" r="1.3"/>
<circle class="p" cx="162.9" cy="106.8" r="1.6"/>
<circle class="p" cx="168.4" cy="91.9" r="2"/>
<circle class="p" cx="180.7" cy="110.9" r="1.2"/>
<circle class="p" cx="215.2" cy="113.1" r="1.3"/>
<circle class="p" cx="194.9" cy="105.9" r="1.2"/>
<circle class="p" cx="194.4" cy="113.7" r="1.3"/>
<circle class="p" cx="176.9" cy="105" r="1.7"/>
<circle class="p" cx="203.6" cy="111.7" r="1.6"/>
<circle class="p" cx="169.1" cy="98.8" r="1.7"/>
<circle class="p" cx="162.7" cy="104.2" r="2.4"/>
<circle class="p" cx="160.3" cy="99" r="1.3"/>
<circle class="p" cx="194.2" cy="113.1" r="1.2"/>
<circle class="p" cx="216.2" cy="113.7" r="1.1"/>
<circle class="p" cx="151.3" cy="92.6" r="2"/>
<circle class="p" cx="217.8" cy="122.1" r="2.3"/>
<circle class="p" cx="160.2" cy="111.7" r="1.4"/>
<circle class="p" cx="173.9" cy="102.7" r="1.3"/>
<circle class="p" cx="159" cy="107.6" r="1.6"/>
<circle class="p" cx="155.8" cy="102.6" r="2.2"/>
<circle class="p" cx="172.3" cy="110.2" r="1.1"/>
<circle class="p" cx="180.6" cy="98.5" r="1.6"/>
<circle class="p" cx="160.7" cy="96" r="1.3"/>
<circle class="p" cx="204.6" cy="121" r="1.6"/>
<circle class="p" cx="149.5" cy="112.5" r="1.5"/>
<circle class="p" cx="210.8" cy="118.2" r="1.2"/>
<circle class="p" cx="215" cy="111.3" r="1.8"/>
<circle class="p" cx="166.6" cy="101.9" r="1.5"/>
<circle class="p" cx="212.1" cy="105.2" r="1.2"/>
<circle class="p" cx="180.7" cy="97.9" r="2.7"/>
<circle class="p" cx="174.4" cy="106.3" r="1.6"/>
<circle class="p" cx="160" cy="109.1" r="2"/>
<circle class="p" cx="205.4" cy="113.5" r="1.3"/>
<circle class="p" cx="172.7" cy="98.6" r="1.6"/>
<circle class="p" cx="161" cy="103.7" r="1.1"/>
<circle class="p" cx="186.2" cy="104.6" r="1.6"/>
<circle class="p" cx="209.7" cy="117.6" r="1.1"/>
<circle class="p" cx="182.4" cy="107.6" r="1.8"/>
<circle class="p" cx="163.6" cy="97.6" r="2"/>
<circle class="p" cx="207.1" cy="116.6" r="1.7"/>
<circle class="p" cx="206.7" cy="110.8" r="1.5"/>
<circle class="p" cx="161.1" cy="110.4" r="1.2"/>
<circle class="p" cx="157.9" cy="108.3" r="1.3"/>
<circle class="p" cx="217.5" cy="110.2" r="1.2"/>
<circle class="p" cx="204.4" cy="102.8" r="1.3"/>
<circle class="p" cx="205.2" cy="98.8" r="2.1"/>
<circle class="p" cx="149.9" cy="100.6" r="1.6"/>
<circle class="p" cx="188.4" cy="111.7" r="2.3"/>
<circle class="p" cx="208.5" cy="109.1" r="2.1"/>
<circle class="p" cx="154.5" cy="103.6" r="1.4"/>
<circle class="p" cx="162.5" cy="101.9" r="1.2"/>
<circle class="p" cx="189.6" cy="111.5" r="1.7"/>
<circle class="p" cx="147.8" cy="97.2" r="1.3"/>
<circle class="p" cx="161.4" cy="110.9" r="1.9"/>
<circle class="p" cx="151.5" cy="106.1" r="1.4"/>
<circle class="p" cx="153.5" cy="105.3" r="1.4"/>
<circle class="p" cx="176.1" cy="105.7" r="2.3"/>
<circle class="p" cx="187.2" cy="113.4" r="1.3"/>
<circle class="p" cx="208.4" cy="118.2" r="1.5"/>
<circle class="p" cx="161.5" cy="103.6" r="1.6"/>
<circle class="p" cx="177.1" cy="109.2" r="1.8"/>
<circle class="p" cx="158.5" cy="98.1" r="1.4"/>
<circle class="p" cx="192.5" cy="111.9" r="1.8"/>
<circle class="p" cx="182.8" cy="106.7" r="1.2"/>
<circle class="p" cx="184" cy="110.5" r="1.5"/>
<circle class="p" cx="215.6" cy="113.4" r="1.2"/>
<circle class="p" cx="214" cy="120.3" r="1.6"/>
<circle class="p" cx="174.5" cy="105.4" r="2.5"/>
<circle class="p" cx="205.5" cy="117.6" r="1.3"/>
<circle class="p" cx="207.1" cy="120.8" r="1.7"/>
<circle class="p" cx="162.5" cy="98.6" r="1.2"/>
<circle class="p" cx="164.5" cy="108.2" r="2"/>
<circle class="p" cx="149.9" cy="93" r="1.5"/>
<circle class="p" cx="155.4" cy="99" r="1.4"/>
<circle class="p" cx="191.5" cy="107.8" r="1.3"/>
<circle class="p" cx="193.8" cy="115.4" r="1.3"/>
<circle class="p" cx="148.7" cy="96.5" r="1.5"/>
<circle class="p" cx="202.4" cy="107.6" r="1.2"/>
<circle class="p" cx="180.6" cy="109.7" r="1.1"/>
<circle class="p" cx="178.4" cy="108.8" r="1.1"/>
<circle class="p" cx="192.2" cy="117.5" r="1.9"/>
<circle class="p" cx="150.9" cy="105.9" r="1.3"/>
<circle class="p" cx="214.5" cy="121.3" r="3.3"/>
<circle class="p" cx="204.9" cy="120.4" r="1.6"/>
<circle class="p" cx="181.9" cy="119.4" r="1.5"/>
<circle class="p" cx="213.1" cy="110.8" r="1.3"/>
<circle class="p" cx="200.7" cy="117.8" r="1.5"/>
<circle class="p" cx="157.2" cy="112.5" r="1.6"/>
<circle class="p" cx="161.8" cy="103.2" r="1.1"/>
<circle class="p" cx="159.9" cy="109.8" r="1.6"/>
<circle class="p" cx="195.3" cy="113.1" r="1.7"/>
<circle class="p" cx="184.7" cy="106.3" r="1.8"/>
<circle class="p" cx="209" cy="106.5" r="1.7"/>
<circle class="p" cx="217.5" cy="112.5" r="1.8"/>
<circle class="p" cx="203.6" cy="110.6" r="1.3"/>
<circle class="p" cx="201.3" cy="128.1" r="1.2"/>
<circle class="p" cx="199.8" cy="120.9" r="1.4"/>
<circle class="p" cx="216.9" cy="117.8" r="1.4"/>
<circle class="p" cx="169.2" cy="106.7" r="1.4"/>
<circle class="p" cx="177.7" cy="107" r="1.5"/>
<circle class="p" cx="156.4" cy="103.8" r="1.1"/>
<circle class="p" cx="172.2" cy="113.6" r="1.3"/>
<circle class="p" cx="161.2" cy="97.6" r="1.4"/>
<circle class="p" cx="173.7" cy="103.5" r="1.6"/>
<circle class="p" cx="162.2" cy="107.7" r="2"/>
<circle class="p" cx="189.1" cy="113.8" r="1.2"/>
<circle class="p" cx="150.6" cy="98" r="1.4"/>
<circle class="p" cx="172.2" cy="100.7" r="2.5"/>
<circle class="p" cx="162.4" cy="107.6" r="1.3"/>
<circle class="p" cx="161.9" cy="104.6" r="1.5"/>
<circle class="p" cx="150.6" cy="87.7" r="1.2"/>
<circle class="p" cx="180.4" cy="104.2" r="1.4"/>
<circle class="p" cx="190.7" cy="114.3" r="1.1"/>
<circle class="p" cx="194.5" cy="117.7" r="2"/>
<circle class="p" cx="150.3" cy="109.9" r="1.5"/>
<circle class="p" cx="172.6" cy="98.3" r="1.2"/>
<circle class="p" cx="161.6" cy="111.9" r="1.9"/>
<circle class="p" cx="192.3" cy="113.4" r="1.7"/>
<circle class="p" cx="177.7" cy="97.6" r="1.2"/>
<circle class="p" cx="182.1" cy="114.6" r="2.2"/>
<circle class="p" cx="194" cy="117.6" r="1.5"/>
<circle class="p" cx="197.2" cy="113.4" r="1.8"/>
<circle class="p" cx="194" cy="109.7" r="2.5"/>
<circle class="p" cx="184.6" cy="114.9" r="2.1"/>
<circle class="p" cx="173.5" cy="113.9" r="1.8"/>
<circle class="p" cx="186.2" cy="101.5" r="1.3"/>
<circle class="p" cx="160.6" cy="103.5" r="2.2"/>
<circle class="p" cx="151.3" cy="101.7" r="1.6"/>
<circle class="p" cx="167.2" cy="107.9" r="1.4"/>
<circle class="p" cx="181.7" cy="111.1" r="2"/>
<circle class="p" cx="153.3" cy="98.5" r="2"/>
<circle class="p" cx="194.6" cy="108.7" r="1.5"/>
<circle class="p" cx="195.7" cy="115.7" r="1.2"/>
<circle class="p" cx="151.7" cy="102.6" r="2"/>
<circle class="p" cx="181.7" cy="114.2" r="1.1"/>
<circle class="p" cx="154.9" cy="95.6" r="1.7"/>
<circle class="p" cx="166" cy="105.3" r="1.2"/>
<circle class="p" cx="185.8" cy="111.2" r="1.3"/>
<circle class="p" cx="198.2" cy="99.4" r="1.6"/>
<circle class="p" cx="170.6" cy="107.2" r="1.5"/>
<circle class="p" cx="167.3" cy="104.4" r="1.5"/>
<circle class="p" cx="154.5" cy="96" r="1.7"/>
<circle class="p" cx="150.1" cy="106.9" r="2.1"/>
<circle class="p" cx="174.5" cy="119.6" r="1.5"/>
<circle class="p" cx="159.2" cy="98.8" r="1.7"/>
<circle class="p" cx="197.2" cy="113.1" r="1.2"/>
<circle class="p" cx="185" cy="107" r="1.6"/>
<circle class="p" cx="189.4" cy="111.3" r="2"/>
<circle class="p" cx="181.4" cy="105.3" r="1.5"/>
<circle class="p" cx="154.3" cy="109.8" r="1.6"/>
<circle class="p" cx="160.3" cy="104.2" r="1.3"/>
<circle class="p" cx="194.2" cy="127.2" r="1.3"/>
<circle class="p" cx="176.6" cy="109" r="1.8"/>
<circle class="p" cx="166.3" cy="95" r="1.5"/>
<circle class="p" cx="183.1" cy="109.8" r="1.5"/>
<circle class="p" cx="179" cy="104.9" r="1.3"/>
<circle class="p" cx="194.3" cy="112.6" r="1.5"/>
<circle class="p" cx="192.2" cy="116.4" r="1.2"/>
<circle class="p" cx="162.4" cy="101.9" r="1.3"/>
<circle class="p" cx="159.5" cy="112.8" r="2.5"/>
<circle class="p" cx="155.1" cy="107.6" r="1.6"/>
<circle class="p" cx="189.7" cy="110.6" r="1.8"/>
<circle class="p" cx="225.4" cy="115.5" r="1.3"/>
<circle class="p" cx="217.6" cy="113.7" r="1.5"/>
<circle class="p" cx="249.3" cy="112.9" r="1.2"/>
<circle class="p" cx="245" cy="121.2" r="1.5"/>
<circle class="p" cx="259.6" cy="116.4" r="1.8"/>
<circle class="p" cx="227" cy="121.5" r="2"/>
<circle class="p" cx="253.2" cy="118.9" r="1.9"/>
<circle class="p" cx="237.8" cy="107.8" r="1.4"/>
<circle class="p" cx="220.7" cy="106.7" r="1.9"/>
<circle class="p" cx="228" cy="123.5" r="1.3"/>
<circle class="p" cx="245.8" cy="113.2" r="2.2"/>
<circle class="p" cx="247.4" cy="127" r="1.8"/>
<circle class="p" cx="239.5" cy="122" r="1.2"/>
<circle class="p" cx="253.5" cy="122.6" r="2.4"/>
<circle class="p" cx="220.9" cy="109.4" r="1.9"/>
<circle class="p" cx="246.7" cy="117.9" r="1.9"/>
<circle class="p" cx="235.7" cy="123.7" r="1.8"/>
<circle class="p" cx="252.6" cy="121.3" r="1.6"/>
<circle class="p" cx="233.1" cy="123.9" r="1.1"/>
<circle class="p" cx="236.1" cy="121.4" r="1.4"/>
<circle class="p" cx="232.9" cy="118.5" r="2.1"/>
<circle class="p" cx="241.3" cy="125.2" r="1.5"/>
<circle class="p" cx="234.8" cy="120.1" r="2"/>
<circle class="p" cx="246.4" cy="124.9" r="1.4"/>
<circle class="p" cx="226.8" cy="123.7" r="2"/>
<circle class="p" cx="255.2" cy="121.8" r="1.2"/>
<circle class="p" cx="242.3" cy="129.5" r="1.5"/>
<circle class="p" cx="228.8" cy="126.9" r="1.2"/>
<circle class="p" cx="236.5" cy="119.8" r="1.7"/>
<circle class="p" cx="227.8" cy="118.4" r="1.3"/>
<circle class="p" cx="237.7" cy="116.6" r="1.6"/>
<circle class="p" cx="260.3" cy="119.6" r="1.5"/>
<circle class="p" cx="263" cy="131.3" r="1.9"/>
<circle class="p" cx="215.8" cy="115.9" r="1.6"/>
<circle class="p" cx="249.8" cy="127.6" r="1.2"/>
<circle class="p" cx="256.1" cy="133" r="1.2"/>
<circle class="p" cx="262.9" cy="131.6" r="1.9"/>
<circle class="p" cx="256.4" cy="123.6" r="2"/>
<circle class="p" cx="256.8" cy="132.1" r="1.9"/>
<circle class="p" cx="254.3" cy="123.4" r="1.5"/>
<circle class="p" cx="244.4" cy="125.9" r="1.3"/>
<circle class="p" cx="218.1" cy="127.8" r="1.2"/>
<circle class="p" cx="241" cy="114.6" r="1.6"/>
<circle class="p" cx="259.6" cy="129.6" r="1.4"/>
<circle class="p" cx="250.3" cy="132.4" r="1.6"/>
<circle class="p" cx="219" cy="114" r="1.9"/>
<circle class="p" cx="216.5" cy="110.4" r="2.3"/>
<circle class="p" cx="267" cy="122.3" r="1.3"/>
<circle class="p" cx="262.6" cy="144.1" r="1.8"/>
<circle class="p" cx="260.7" cy="132.8" r="1.3"/>
<circle class="p" cx="242.9" cy="127" r="1.3"/>
<circle class="p" cx="244.4" cy="120.3" r="1.7"/>
<circle class="p" cx="281.6" cy="115.2" r="1.2"/>
<circle class="p" cx="264.1" cy="120.3" r="2"/>
<circle class="p" cx="276.7" cy="126" r="1.4"/>
<circle class="p" cx="272.6" cy="112.5" r="1.5"/>
<circle class="p" cx="284.2" cy="115.6" r="1.3"/>
<circle class="p" cx="282.6" cy="121.2" r="2.5"/>
<circle class="p" cx="273.7" cy="111.4" r="2.5"/>
<circle class="p" cx="273.3" cy="114.9" r="1.9"/>
<circle class="p" cx="277.4" cy="116.9" r="1.8"/>
<circle class="p" cx="279.2" cy="118" r="1.1"/>
<circle class="p" cx="280.9" cy="106.8" r="1.8"/>
<circle class="p" cx="283.3" cy="110.7" r="1.2"/>
<circle class="p" cx="277.2" cy="127.4" r="1.3"/>
<circle class="p" cx="270.9" cy="109.2" r="1.4"/>
<circle class="p" cx="281.7" cy="121.8" r="1.9"/>
<circle class="p" cx="284.2" cy="117.5" r="1.3"/>
<circle class="p" cx="268.1" cy="112.6" r="2.4"/>
<circle class="p" cx="276.8" cy="122.6" r="1.7"/>
<circle class="p" cx="279.6" cy="121.9" r="1.4"/>
<circle class="p" cx="289.3" cy="132.7" r="1.5"/>
<circle class="p" cx="279.7" cy="121.9" r="1.7"/>
<circle class="p" cx="278.6" cy="116.8" r="1.5"/>
<circle class="p" cx="276.5" cy="108.5" r="1.6"/>
<circle class="p" cx="273" cy="113.6" r="1.6"/>
<circle class="p" cx="278.8" cy="120" r="1.4"/>
<circle class="p" cx="279.9" cy="118.6" r="1.5"/>
<circle class="p" cx="284.5" cy="132.2" r="1.1"/>
<circle class="p" cx="274.2" cy="127.3" r="1.4"/>
<circle class="p" cx="285" cy="130.2" r="1.4"/>
<circle class="p" cx="275.1" cy="116.1" r="1.5"/>
<circle class="p" cx="288.1" cy="117.1" r="1.2"/>
<circle class="p" cx="292.8" cy="127.5" r="2"/>
<circle class="p" cx="275.3" cy="128.7" r="2.6"/>
<circle class="p" cx="275.2" cy="117.7" r="1.5"/>
<circle class="p" cx="273" cy="127.9" r="2"/>
<circle class="p" cx="280.6" cy="116" r="1.2"/>
<circle class="p" cx="272.5" cy="125" r="2"/>
<circle class="p" cx="289" cy="124.2" r="2"/>
<circle class="p" cx="275" cy="118.7" r="2"/>
<circle class="p" cx="274.1" cy="107.8" r="1.1"/>
<circle class="p" cx="269.7" cy="117.2" r="1.5"/>
<circle class="p" cx="282.7" cy="119" r="1.9"/>
<circle class="p" cx="275.3" cy="122" r="1.5"/>
<circle class="p" cx="280.6" cy="114" r="1.5"/>
<circle class="p" cx="279.6" cy="116.3" r="1.5"/>
<circle class="p" cx="284" cy="115.8" r="1.4"/>
<circle class="p" cx="280.3" cy="124.9" r="1.5"/>
<circle class="p" cx="274.4" cy="127.4" r="1.4"/>
<circle class="p" cx="280" cy="122.6" r="3.1"/>
<circle class="p" cx="285.1" cy="126.7" r="1.7"/>
<circle class="p" cx="274.9" cy="117.6" r="1.1"/>
<circle class="p" cx="295.4" cy="125.1" r="1.8"/>
<circle class="p" cx="275.1" cy="118.9" r="1.8"/>
<circle class="p" cx="287.9" cy="117.3" r="2.1"/>
<circle class="p" cx="279" cy="122.8" r="1.2"/>
<circle class="p" cx="280.5" cy="122.1" r="1.5"/>
<circle class="p" cx="266.1" cy="125.1" r="2.1"/>
<circle class="p" cx="274.5" cy="117.2" r="1.6"/>
<circle class="p" cx="278.7" cy="129.4" r="2.1"/>
<circle class="p" cx="276.3" cy="115.3" r="1.2"/>
<circle class="p" cx="295.6" cy="116.7" r="1.1"/>
<circle class="p" cx="278.8" cy="127.1" r="2.6"/>
<circle class="p" cx="279.9" cy="119.3" r="2"/>
<circle class="p" cx="269.3" cy="105.9" r="1.2"/>
<circle class="p" cx="279.4" cy="105.6" r="1.7"/>
<circle class="p" cx="271.2" cy="115" r="1.3"/>
<circle class="p" cx="278.9" cy="124.3" r="1.2"/>
<circle class="p" cx="279.2" cy="124.6" r="1.6"/>
<circle class="p" cx="278.3" cy="116.8" r="1.6"/>
<circle class="p" cx="286.7" cy="110.9" r="1.3"/>
<circle class="p" cx="289.4" cy="129.6" r="1.9"/>
<circle class="p" cx="274.2" cy="122.7" r="1.8"/>
<circle class="p" cx="276.9" cy="118.4" r="1.1"/>
<circle class="p" cx="264.6" cy="63.3" r="2"/>
<circle class="p" cx="261" cy="69.6" r="1.8"/>
<circle class="p" cx="265" cy="73.3" r="1.5"/>
<circle class="p" cx="277.4" cy="79.1" r="1.4"/>
<circle class="p" cx="279.9" cy="85.5" r="1.8"/>
<circle class="p" cx="271" cy="89.1" r="1.6"/>
<circle class="p" cx="275" cy="90.9" r="1.6"/>
<circle class="p" cx="285.5" cy="90.4" r="2"/>
<circle class="p" cx="285" cy="96.4" r="1.7"/>
<circle class="p" cx="283.2" cy="99.5" r="1.5"/>
<circle class="p" cx="270.5" cy="95.1" r="1.6"/>
<circle class="p" cx="271.9" cy="100" r="1.9"/>
<circle class="p" cx="271" cy="102.7" r="1.6"/>
<circle class="p" cx="287.7" cy="107.3" r="1.8"/>
<circle class="p" cx="284" cy="109" r="1.6"/>
<circle class="p" cx="113.5" cy="60.5" r="1.1"/>
<circle class="p" cx="141.3" cy="74.8" r="2.3"/>
<circle class="p" cx="141.3" cy="88.5" r="1.9"/>
<circle class="p" cx="151.2" cy="57.3" r="1.5"/>
<circle class="p" cx="188" cy="58.1" r="1.3"/>
<circle class="p" cx="196.5" cy="65.3" r="1.5"/>
<circle class="p" cx="196.5" cy="68.8" r="1.5"/>
<circle class="p" cx="204.7" cy="64.5" r="1.3"/>
<circle class="p" cx="207.9" cy="65.8" r="1.3"/>
<circle class="p" cx="226.6" cy="63.4" r="1.4"/>
<circle class="p" cx="206" cy="74.1" r="1.3"/>
<circle class="p" cx="217.3" cy="77.3" r="1.6"/>
<circle class="p" cx="242.6" cy="72.5" r="1.3"/>
<circle class="p" cx="180" cy="80" r="1.5"/>
<circle class="p" cx="184" cy="77.8" r="1.3"/>
<circle class="p" cx="189.3" cy="80" r="1.4"/>
<circle class="p" cx="160" cy="77.3" r="1.3"/>
<circle class="p" cx="166.6" cy="75.2" r="1.3"/>
<circle class="p" cx="168.8" cy="80" r="1.3"/>
<circle class="p" cx="149.3" cy="81.3" r="1.3"/>
<circle class="p" cx="175.4" cy="88.5" r="1.4"/>
<circle class="p" cx="182.6" cy="86.6" r="1.4"/>
<circle class="p" cx="192" cy="85.8" r="1.3"/>
<circle class="p" cx="209.8" cy="88.5" r="1.4"/>
<circle class="p" cx="238.6" cy="87.4" r="1.3"/>
<circle class="p" cx="249.2" cy="93.3" r="1.3"/>
<circle class="p" cx="255.9" cy="88.5" r="1.3"/>
<circle class="p" cx="158.6" cy="87.4" r="1.3"/>
<circle class="p" cx="166.6" cy="88" r="1.3"/>
<circle class="p" cx="197.3" cy="94.6" r="1.6"/>
<circle class="p" cx="190.6" cy="95.4" r="1.4"/>
<circle class="p" cx="211.9" cy="97.3" r="1.4"/>
<circle class="p" cx="228" cy="97" r="1.4"/>
<circle class="p" cx="240" cy="101" r="1.5"/>
<circle class="p" cx="252" cy="99" r="1.4"/>
<circle class="p" cx="257" cy="106" r="1.4"/>
<circle class="p" cx="176" cy="93" r="1.5"/>
<circle class="p" cx="185" cy="94" r="1.4"/>
<circle class="p" cx="163" cy="92" r="1.4"/>
<circle class="p" cx="170" cy="95" r="1.3"/>
<circle class="p" cx="199.6" cy="124.3" r="3.3"/>
<circle class="p" cx="201" cy="131" r="1.9"/>
<circle class="p" cx="194" cy="134" r="1.5"/>
<circle class="p" cx="160" cy="118" r="2"/>
<circle class="p" cx="152" cy="123" r="1.6"/>
<circle class="p" cx="159.5" cy="125" r="1.3"/>
<circle class="p" cx="213" cy="147" r="1.4"/>
<circle class="p" cx="222" cy="136" r="1.4"/>
<circle class="p" cx="236" cy="141" r="1.5"/>
<circle class="p" cx="247" cy="133" r="1.6"/>
<circle class="p" cx="229" cy="126" r="1.7"/>
<circle class="p" cx="219" cy="150" r="1.2"/>
<path class="n" fill="#057cff" d="M338.7 59.7L341.6 61L339.6 63.3L336.7 61.9ZM341.6 61L344.5 62.2L342.6 64.6L339.6 63.3ZM344.5 62.2L347.4 63.5L345.5 65.9L342.6 64.6ZM347.4 63.5L350.3 64.8L348.5 67.2L345.5 65.9ZM350.3 64.8L353.1 66L351.4 68.6L348.5 67.2ZM353.1 66L356 67.3L354.4 69.9L351.4 68.6ZM356 67.3L358.9 68.6L357.3 71.2L354.4 69.9ZM358.9 68.6L361.8 69.9L360.3 72.6L357.3 71.2ZM361.8 69.9L364.7 71.1L363.2 73.9L360.3 72.6ZM364.7 71.1L367.6 72.4L366.2 75.2L363.2 73.9ZM367.6 72.4L370.5 73.7L369.1 76.5L366.2 75.2ZM370.5 73.7L373.4 74.9L372.1 77.9L369.1 76.5ZM373.4 74.9L376.3 76.2L375 79.2L372.1 77.9ZM376.3 76.2L379.2 77.5L378 80.5L375 79.2ZM379.2 77.5L382.1 78.8L380.9 81.9L378 80.5ZM382.1 78.8L384.9 80L383.8 83.2L380.9 81.9ZM384.9 80L387.8 81.3L386.8 84.5L383.8 83.2ZM387.8 81.3L390.7 82.6L389.7 85.8L386.8 84.5ZM390.7 82.6L393.6 83.8L392.7 87.2L389.7 85.8ZM393.6 83.8L396.5 85.1L395.6 88.5L392.7 87.2ZM336.7 61.9L339.6 63.3L337.7 65.6L334.7 64.2ZM339.6 63.3L342.6 64.6L340.7 66.9L337.7 65.6ZM342.6 64.6L345.5 65.9L343.7 68.3L340.7 66.9ZM345.5 65.9L348.5 67.2L346.7 69.7L343.7 68.3ZM348.5 67.2L351.4 68.6L349.7 71.1L346.7 69.7ZM351.4 68.6L354.4 69.9L352.7 72.5L349.7 71.1ZM354.4 69.9L357.3 71.2L355.7 73.9L352.7 72.5ZM357.3 71.2L360.3 72.6L358.7 75.3L355.7 73.9ZM360.3 72.6L363.2 73.9L361.7 76.6L358.7 75.3ZM363.2 73.9L366.2 75.2L364.7 78L361.7 76.6ZM366.2 75.2L369.1 76.5L367.7 79.4L364.7 78ZM369.1 76.5L372.1 77.9L370.7 80.8L367.7 79.4ZM372.1 77.9L375 79.2L373.7 82.2L370.7 80.8ZM375 79.2L378 80.5L376.7 83.6L373.7 82.2ZM378 80.5L380.9 81.9L379.8 85L376.7 83.6ZM380.9 81.9L383.8 83.2L382.8 86.4L379.8 85ZM383.8 83.2L386.8 84.5L385.8 87.7L382.8 86.4ZM386.8 84.5L389.7 85.8L388.8 89.1L385.8 87.7ZM389.7 85.8L392.7 87.2L391.8 90.5L388.8 89.1ZM392.7 87.2L395.6 88.5L394.8 91.9L391.8 90.5ZM334.7 64.2L337.7 65.6L335.8 67.8L332.7 66.4ZM337.7 65.6L340.7 66.9L338.8 69.3L335.8 67.8ZM340.7 66.9L343.7 68.3L341.9 70.7L338.8 69.3ZM343.7 68.3L346.7 69.7L344.9 72.2L341.9 70.7ZM346.7 69.7L349.7 71.1L348 73.6L344.9 72.2ZM349.7 71.1L352.7 72.5L351.1 75.1L348 73.6ZM352.7 72.5L355.7 73.9L354.1 76.5L351.1 75.1ZM355.7 73.9L358.7 75.3L357.2 78L354.1 76.5ZM358.7 75.3L361.7 76.6L360.2 79.4L357.2 78ZM361.7 76.6L364.7 78L363.3 80.8L360.2 79.4ZM364.7 78L367.7 79.4L366.4 82.3L363.3 80.8ZM367.7 79.4L370.7 80.8L369.4 83.7L366.4 82.3ZM370.7 80.8L373.7 82.2L372.5 85.2L369.4 83.7ZM373.7 82.2L376.7 83.6L375.5 86.6L372.5 85.2ZM376.7 83.6L379.8 85L378.6 88.1L375.5 86.6ZM379.8 85L382.8 86.4L381.7 89.5L378.6 88.1ZM382.8 86.4L385.8 87.7L384.7 91L381.7 89.5ZM385.8 87.7L388.8 89.1L387.8 92.4L384.7 91ZM388.8 89.1L391.8 90.5L390.8 93.9L387.8 92.4ZM391.8 90.5L394.8 91.9L393.9 95.3L390.8 93.9ZM332.7 66.4L335.8 67.8L333.6 70.2L330.6 68.7ZM335.8 67.8L338.8 69.3L336.7 71.6L333.6 70.2ZM338.8 69.3L341.9 70.7L339.8 73.1L336.7 71.6ZM341.9 70.7L344.9 72.2L342.8 74.5L339.8 73.1ZM344.9 72.2L348 73.6L345.9 76L342.8 74.5ZM348 73.6L351.1 75.1L348.9 77.4L345.9 76ZM351.1 75.1L354.1 76.5L352 78.9L348.9 77.4ZM354.1 76.5L357.2 78L355.1 80.3L352 78.9ZM357.2 78L360.2 79.4L358.1 81.7L355.1 80.3ZM360.2 79.4L363.3 80.8L361.2 83.2L358.1 81.7ZM363.3 80.8L366.4 82.3L364.2 84.6L361.2 83.2ZM366.4 82.3L369.4 83.7L367.3 86.1L364.2 84.6ZM369.4 83.7L372.5 85.2L370.4 87.5L367.3 86.1ZM372.5 85.2L375.5 86.6L373.4 89L370.4 87.5ZM375.5 86.6L378.6 88.1L376.5 90.4L373.4 89ZM378.6 88.1L381.7 89.5L379.5 91.8L376.5 90.4ZM381.7 89.5L384.7 91L382.6 93.3L379.5 91.8ZM384.7 91L387.8 92.4L385.7 94.7L382.6 93.3ZM387.8 92.4L390.8 93.9L388.7 96.2L385.7 94.7ZM390.8 93.9L393.9 95.3L391.8 97.6L388.7 96.2ZM330.6 68.7L333.6 70.2L331.5 72.5L328.4 71.1ZM333.6 70.2L336.7 71.6L334.6 74L331.5 72.5ZM336.7 71.6L339.8 73.1L337.6 75.4L334.6 74ZM339.8 73.1L342.8 74.5L340.7 76.9L337.6 75.4ZM342.8 74.5L345.9 76L343.8 78.3L340.7 76.9ZM345.9 76L348.9 77.4L346.8 79.7L343.8 78.3ZM348.9 77.4L352 78.9L349.9 81.2L346.8 79.7ZM352 78.9L355.1 80.3L352.9 82.6L349.9 81.2ZM355.1 80.3L358.1 81.7L356 84.1L352.9 82.6ZM358.1 81.7L361.2 83.2L359.1 85.5L356 84.1ZM361.2 83.2L364.2 84.6L362.1 87L359.1 85.5ZM364.2 84.6L367.3 86.1L365.2 88.4L362.1 87ZM367.3 86.1L370.4 87.5L368.2 89.8L365.2 88.4ZM370.4 87.5L373.4 89L371.3 91.3L368.2 89.8ZM373.4 89L376.5 90.4L374.4 92.7L371.3 91.3ZM376.5 90.4L379.5 91.8L377.4 94.2L374.4 92.7ZM379.5 91.8L382.6 93.3L380.5 95.6L377.4 94.2ZM382.6 93.3L385.7 94.7L383.6 97.1L380.5 95.6ZM385.7 94.7L388.7 96.2L386.6 98.5L383.6 97.1ZM388.7 96.2L391.8 97.6L389.7 100L386.6 98.5ZM328.4 71.1L331.5 72.5L329.4 74.9L326.3 73.4ZM331.5 72.5L334.6 74L332.4 76.3L329.4 74.9ZM334.6 74L337.6 75.4L335.5 77.8L332.4 76.3ZM337.6 75.4L340.7 76.9L338.6 79.2L335.5 77.8ZM340.7 76.9L343.8 78.3L341.6 80.6L338.6 79.2ZM343.8 78.3L346.8 79.7L344.7 82.1L341.6 80.6ZM346.8 79.7L349.9 81.2L347.8 83.5L344.7 82.1ZM349.9 81.2L352.9 82.6L350.8 85L347.8 83.5ZM352.9 82.6L356 84.1L353.9 86.4L350.8 85ZM356 84.1L359.1 85.5L356.9 87.9L353.9 86.4ZM359.1 85.5L362.1 87L360 89.3L356.9 87.9ZM362.1 87L365.2 88.4L363.1 90.7L360 89.3ZM365.2 88.4L368.2 89.8L366.1 92.2L363.1 90.7ZM368.2 89.8L371.3 91.3L369.2 93.6L366.1 92.2ZM371.3 91.3L374.4 92.7L372.3 95.1L369.2 93.6ZM374.4 92.7L377.4 94.2L375.3 96.5L372.3 95.1ZM377.4 94.2L380.5 95.6L378.4 97.9L375.3 96.5ZM380.5 95.6L383.6 97.1L381.4 99.4L378.4 97.9ZM383.6 97.1L386.6 98.5L384.5 100.8L381.4 99.4ZM386.6 98.5L389.7 100L387.6 102.3L384.5 100.8ZM326.3 73.4L329.4 74.9L327.3 77.2L324.2 75.8ZM329.4 74.9L332.4 76.3L330.3 78.7L327.3 77.2ZM332.4 76.3L335.5 77.8L333.4 80.1L330.3 78.7ZM335.5 77.8L338.6 79.2L336.4 81.5L333.4 80.1ZM338.6 79.2L341.6 80.6L339.5 83L336.4 81.5ZM341.6 80.6L344.7 82.1L342.6 84.4L339.5 83ZM344.7 82.1L347.8 83.5L345.6 85.9L342.6 84.4ZM347.8 83.5L350.8 85L348.7 87.3L345.6 85.9ZM350.8 85L353.9 86.4L351.8 88.7L348.7 87.3ZM353.9 86.4L356.9 87.9L354.8 90.2L351.8 88.7ZM356.9 87.9L360 89.3L357.9 91.6L354.8 90.2ZM360 89.3L363.1 90.7L360.9 93.1L357.9 91.6ZM363.1 90.7L366.1 92.2L364 94.5L360.9 93.1ZM366.1 92.2L369.2 93.6L367.1 96L364 94.5ZM369.2 93.6L372.3 95.1L370.1 97.4L367.1 96ZM372.3 95.1L375.3 96.5L373.2 98.8L370.1 97.4ZM375.3 96.5L378.4 97.9L376.3 100.3L373.2 98.8ZM378.4 97.9L381.4 99.4L379.3 101.7L376.3 100.3ZM381.4 99.4L384.5 100.8L382.4 103.2L379.3 101.7ZM384.5 100.8L387.6 102.3L385.4 104.6L382.4 103.2ZM324.2 75.8L327.3 77.2L325.1 79.5L322.1 78.1ZM327.3 77.2L330.3 78.7L328.2 81L325.1 79.5ZM330.3 78.7L333.4 80.1L331.3 82.4L328.2 81ZM333.4 80.1L336.4 81.5L334.3 83.9L331.3 82.4ZM336.4 81.5L339.5 83L337.4 85.3L334.3 83.9ZM339.5 83L342.6 84.4L340.4 86.8L337.4 85.3ZM342.6 84.4L345.6 85.9L343.5 88.2L340.4 86.8ZM345.6 85.9L348.7 87.3L346.6 89.6L343.5 88.2ZM348.7 87.3L351.8 88.7L349.6 91.1L346.6 89.6ZM351.8 88.7L354.8 90.2L352.7 92.5L349.6 91.1ZM354.8 90.2L357.9 91.6L355.8 94L352.7 92.5ZM357.9 91.6L360.9 93.1L358.8 95.4L355.8 94ZM360.9 93.1L364 94.5L361.9 96.8L358.8 95.4ZM364 94.5L367.1 96L365 98.3L361.9 96.8ZM367.1 96L370.1 97.4L368 99.7L365 98.3ZM370.1 97.4L373.2 98.8L371.1 101.2L368 99.7ZM373.2 98.8L376.3 100.3L374.1 102.6L371.1 101.2ZM376.3 100.3L379.3 101.7L377.2 104L374.1 102.6ZM379.3 101.7L382.4 103.2L380.3 105.5L377.2 104ZM382.4 103.2L385.4 104.6L383.3 106.9L380.3 105.5ZM322.1 78.1L325.1 79.5L323 81.9L319.9 80.5ZM325.1 79.5L328.2 81L326.1 83.3L323 81.9ZM328.2 81L331.3 82.4L329.1 84.8L326.1 83.3ZM331.3 82.4L334.3 83.9L332.2 86.2L329.1 84.8ZM334.3 83.9L337.4 85.3L335.3 87.7L332.2 86.2ZM337.4 85.3L340.4 86.8L338.3 89.1L335.3 87.7ZM340.4 86.8L343.5 88.2L341.4 90.5L338.3 89.1ZM343.5 88.2L346.6 89.6L344.5 92L341.4 90.5ZM346.6 89.6L349.6 91.1L347.5 93.4L344.5 92ZM349.6 91.1L352.7 92.5L350.6 94.9L347.5 93.4ZM352.7 92.5L355.8 94L353.6 96.3L350.6 94.9ZM355.8 94L358.8 95.4L356.7 97.7L353.6 96.3ZM358.8 95.4L361.9 96.8L359.8 99.2L356.7 97.7ZM361.9 96.8L365 98.3L362.8 100.6L359.8 99.2ZM365 98.3L368 99.7L365.9 102.1L362.8 100.6ZM368 99.7L371.1 101.2L369 103.5L365.9 102.1ZM371.1 101.2L374.1 102.6L372 104.9L369 103.5ZM374.1 102.6L377.2 104L375.1 106.4L372 104.9ZM377.2 104L380.3 105.5L378.2 107.8L375.1 106.4ZM380.3 105.5L383.3 106.9L381.2 109.3L378.2 107.8ZM319.9 80.5L323 81.9L320.9 84.2L317.8 82.8ZM323 81.9L326.1 83.3L323.9 85.7L320.9 84.2ZM326.1 83.3L329.1 84.8L327 87.1L323.9 85.7ZM329.1 84.8L332.2 86.2L330.1 88.5L327 87.1ZM332.2 86.2L335.3 87.7L333.1 90L330.1 88.5ZM335.3 87.7L338.3 89.1L336.2 91.4L333.1 90ZM338.3 89.1L341.4 90.5L339.3 92.9L336.2 91.4ZM341.4 90.5L344.5 92L342.3 94.3L339.3 92.9ZM344.5 92L347.5 93.4L345.4 95.7L342.3 94.3ZM347.5 93.4L350.6 94.9L348.5 97.2L345.4 95.7ZM350.6 94.9L353.6 96.3L351.5 98.6L348.5 97.2ZM353.6 96.3L356.7 97.7L354.6 100.1L351.5 98.6ZM356.7 97.7L359.8 99.2L357.7 101.5L354.6 100.1ZM359.8 99.2L362.8 100.6L360.7 102.9L357.7 101.5ZM362.8 100.6L365.9 102.1L363.8 104.4L360.7 102.9ZM365.9 102.1L369 103.5L366.9 105.8L363.8 104.4ZM369 103.5L372 104.9L369.9 107.3L366.9 105.8ZM372 104.9L375.1 106.4L373 108.7L369.9 107.3ZM375.1 106.4L378.2 107.8L376 110.1L373 108.7ZM378.2 107.8L381.2 109.3L379.1 111.6L376 110.1ZM317.8 82.8L320.9 84.2L318.7 86.6L315.7 85.1ZM320.9 84.2L323.9 85.7L321.8 88L318.7 86.6ZM323.9 85.7L327 87.1L324.9 89.4L321.8 88ZM327 87.1L330.1 88.5L327.9 90.9L324.9 89.4ZM330.1 88.5L333.1 90L331 92.3L327.9 90.9ZM333.1 90L336.2 91.4L334.1 93.8L331 92.3ZM336.2 91.4L339.3 92.9L337.1 95.2L334.1 93.8ZM339.3 92.9L342.3 94.3L340.2 96.6L337.1 95.2ZM342.3 94.3L345.4 95.7L343.3 98.1L340.2 96.6ZM345.4 95.7L348.5 97.2L346.3 99.5L343.3 98.1ZM348.5 97.2L351.5 98.6L349.4 101L346.3 99.5ZM351.5 98.6L354.6 100.1L352.5 102.4L349.4 101ZM354.6 100.1L357.7 101.5L355.5 103.8L352.5 102.4ZM357.7 101.5L360.7 102.9L358.6 105.3L355.5 103.8ZM360.7 102.9L363.8 104.4L361.7 106.7L358.6 105.3ZM363.8 104.4L366.9 105.8L364.7 108.1L361.7 106.7ZM366.9 105.8L369.9 107.3L367.8 109.6L364.7 108.1ZM369.9 107.3L373 108.7L370.9 111L367.8 109.6ZM373 108.7L376 110.1L373.9 112.5L370.9 111ZM376 110.1L379.1 111.6L377 113.9L373.9 112.5ZM315.7 85.1L318.7 86.6L316.6 88.9L313.6 87.5ZM318.7 86.6L321.8 88L319.7 90.4L316.6 88.9ZM321.8 88L324.9 89.4L322.8 91.8L319.7 90.4ZM324.9 89.4L327.9 90.9L325.8 93.2L322.8 91.8ZM327.9 90.9L331 92.3L328.9 94.7L325.8 93.2ZM331 92.3L334.1 93.8L332 96.1L328.9 94.7ZM334.1 93.8L337.1 95.2L335 97.5L332 96.1ZM337.1 95.2L340.2 96.6L338.1 99L335 97.5ZM340.2 96.6L343.3 98.1L341.2 100.4L338.1 99ZM343.3 98.1L346.3 99.5L344.2 101.9L341.2 100.4ZM346.3 99.5L349.4 101L347.3 103.3L344.2 101.9ZM349.4 101L352.5 102.4L350.4 104.7L347.3 103.3ZM352.5 102.4L355.5 103.8L353.4 106.2L350.4 104.7ZM355.5 103.8L358.6 105.3L356.5 107.6L353.4 106.2ZM358.6 105.3L361.7 106.7L359.6 109L356.5 107.6ZM361.7 106.7L364.7 108.1L362.6 110.5L359.6 109ZM364.7 108.1L367.8 109.6L365.7 111.9L362.6 110.5ZM367.8 109.6L370.9 111L368.8 113.4L365.7 111.9ZM370.9 111L373.9 112.5L371.8 114.8L368.8 113.4ZM373.9 112.5L377 113.9L374.9 116.2L371.8 114.8ZM313.6 87.5L316.6 88.9L314.5 91.3L311.4 89.8ZM316.6 88.9L319.7 90.4L317.6 92.7L314.5 91.3ZM319.7 90.4L322.8 91.8L320.6 94.1L317.6 92.7ZM322.8 91.8L325.8 93.2L323.7 95.6L320.6 94.1ZM325.8 93.2L328.9 94.7L326.8 97L323.7 95.6ZM328.9 94.7L332 96.1L329.8 98.4L326.8 97ZM332 96.1L335 97.5L332.9 99.9L329.8 98.4ZM335 97.5L338.1 99L336 101.3L332.9 99.9ZM338.1 99L341.2 100.4L339 102.7L336 101.3ZM341.2 100.4L344.2 101.9L342.1 104.2L339 102.7ZM344.2 101.9L347.3 103.3L345.2 105.6L342.1 104.2ZM347.3 103.3L350.4 104.7L348.2 107.1L345.2 105.6ZM350.4 104.7L353.4 106.2L351.3 108.5L348.2 107.1ZM353.4 106.2L356.5 107.6L354.4 109.9L351.3 108.5ZM356.5 107.6L359.6 109L357.4 111.4L354.4 109.9ZM359.6 109L362.6 110.5L360.5 112.8L357.4 111.4ZM362.6 110.5L365.7 111.9L363.6 114.2L360.5 112.8ZM365.7 111.9L368.8 113.4L366.6 115.7L363.6 114.2ZM368.8 113.4L371.8 114.8L369.7 117.1L366.6 115.7ZM371.8 114.8L374.9 116.2L372.8 118.6L369.7 117.1ZM311.4 89.8L314.5 91.3L312.4 93.6L309.3 92.2ZM314.5 91.3L317.6 92.7L315.4 95L312.4 93.6ZM317.6 92.7L320.6 94.1L318.5 96.5L315.4 95ZM320.6 94.1L323.7 95.6L321.6 97.9L318.5 96.5ZM323.7 95.6L326.8 97L324.6 99.3L321.6 97.9ZM326.8 97L329.8 98.4L327.7 100.8L324.6 99.3ZM329.8 98.4L332.9 99.9L330.8 102.2L327.7 100.8ZM332.9 99.9L336 101.3L333.8 103.6L330.8 102.2ZM336 101.3L339 102.7L336.9 105.1L333.8 103.6ZM339 102.7L342.1 104.2L340 106.5L336.9 105.1ZM342.1 104.2L345.2 105.6L343 108L340 106.5ZM345.2 105.6L348.2 107.1L346.1 109.4L343 108ZM348.2 107.1L351.3 108.5L349.2 110.8L346.1 109.4ZM351.3 108.5L354.4 109.9L352.3 112.3L349.2 110.8ZM354.4 109.9L357.4 111.4L355.3 113.7L352.3 112.3ZM357.4 111.4L360.5 112.8L358.4 115.1L355.3 113.7ZM360.5 112.8L363.6 114.2L361.5 116.6L358.4 115.1ZM363.6 114.2L366.6 115.7L364.5 118L361.5 116.6ZM366.6 115.7L369.7 117.1L367.6 119.4L364.5 118ZM369.7 117.1L372.8 118.6L370.7 120.9L367.6 119.4ZM309.3 92.2L312.4 93.6L310.2 95.9L307.2 94.5ZM312.4 93.6L315.4 95L313.3 97.4L310.2 95.9ZM315.4 95L318.5 96.5L316.4 98.8L313.3 97.4ZM318.5 96.5L321.6 97.9L319.4 100.2L316.4 98.8ZM321.6 97.9L324.6 99.3L322.5 101.7L319.4 100.2ZM324.6 99.3L327.7 100.8L325.6 103.1L322.5 101.7ZM327.7 100.8L330.8 102.2L328.7 104.5L325.6 103.1ZM330.8 102.2L333.8 103.6L331.7 106L328.7 104.5ZM333.8 103.6L336.9 105.1L334.8 107.4L331.7 106ZM336.9 105.1L340 106.5L337.9 108.9L334.8 107.4ZM340 106.5L343 108L340.9 110.3L337.9 108.9ZM343 108L346.1 109.4L344 111.7L340.9 110.3ZM346.1 109.4L349.2 110.8L347.1 113.2L344 111.7ZM349.2 110.8L352.3 112.3L350.1 114.6L347.1 113.2ZM352.3 112.3L355.3 113.7L353.2 116L350.1 114.6ZM355.3 113.7L358.4 115.1L356.3 117.5L353.2 116ZM358.4 115.1L361.5 116.6L359.3 118.9L356.3 117.5ZM361.5 116.6L364.5 118L362.4 120.3L359.3 118.9ZM364.5 118L367.6 119.4L365.5 121.8L362.4 120.3ZM367.6 119.4L370.7 120.9L368.5 123.2L365.5 121.8ZM307.2 94.5L310.2 95.9L308.1 98.3L305 96.8ZM310.2 95.9L313.3 97.4L311.2 99.7L308.1 98.3ZM313.3 97.4L316.4 98.8L314.3 101.1L311.2 99.7ZM316.4 98.8L319.4 100.2L317.3 102.6L314.3 101.1ZM319.4 100.2L322.5 101.7L320.4 104L317.3 102.6ZM322.5 101.7L325.6 103.1L323.5 105.4L320.4 104ZM325.6 103.1L328.7 104.5L326.5 106.9L323.5 105.4ZM328.7 104.5L331.7 106L329.6 108.3L326.5 106.9ZM331.7 106L334.8 107.4L332.7 109.8L329.6 108.3ZM334.8 107.4L337.9 108.9L335.7 111.2L332.7 109.8ZM337.9 108.9L340.9 110.3L338.8 112.6L335.7 111.2ZM340.9 110.3L344 111.7L341.9 114.1L338.8 112.6ZM344 111.7L347.1 113.2L344.9 115.5L341.9 114.1ZM347.1 113.2L350.1 114.6L348 116.9L344.9 115.5ZM350.1 114.6L353.2 116L351.1 118.4L348 116.9ZM353.2 116L356.3 117.5L354.2 119.8L351.1 118.4ZM356.3 117.5L359.3 118.9L357.2 121.2L354.2 119.8ZM359.3 118.9L362.4 120.3L360.3 122.7L357.2 121.2ZM362.4 120.3L365.5 121.8L363.4 124.1L360.3 122.7ZM365.5 121.8L368.5 123.2L366.4 125.5L363.4 124.1ZM305 96.8L308.1 98.3L306 100.6L302.9 99.2ZM308.1 98.3L311.2 99.7L309.1 102.1L306 100.6ZM311.2 99.7L314.3 101.1L312.1 103.5L309.1 102.1ZM314.3 101.1L317.3 102.6L315.2 104.9L312.1 103.5ZM317.3 102.6L320.4 104L318.3 106.4L315.2 104.9ZM320.4 104L323.5 105.4L321.3 107.8L318.3 106.4ZM323.5 105.4L326.5 106.9L324.4 109.2L321.3 107.8ZM326.5 106.9L329.6 108.3L327.5 110.7L324.4 109.2ZM329.6 108.3L332.7 109.8L330.5 112.1L327.5 110.7ZM332.7 109.8L335.7 111.2L333.6 113.5L330.5 112.1ZM335.7 111.2L338.8 112.6L336.7 115L333.6 113.5ZM338.8 112.6L341.9 114.1L339.8 116.4L336.7 115ZM341.9 114.1L344.9 115.5L342.8 117.8L339.8 116.4ZM344.9 115.5L348 116.9L345.9 119.3L342.8 117.8ZM348 116.9L351.1 118.4L349 120.7L345.9 119.3ZM351.1 118.4L354.2 119.8L352 122.1L349 120.7ZM354.2 119.8L357.2 121.2L355.1 123.6L352 122.1ZM357.2 121.2L360.3 122.7L358.2 125L355.1 123.6ZM360.3 122.7L363.4 124.1L361.3 126.4L358.2 125ZM363.4 124.1L366.4 125.5L364.3 127.9L361.3 126.4ZM302.9 99.2L306 100.6L303.9 103L300.8 101.5ZM306 100.6L309.1 102.1L306.9 104.4L303.9 103ZM309.1 102.1L312.1 103.5L310 105.8L306.9 104.4ZM312.1 103.5L315.2 104.9L313.1 107.3L310 105.8ZM315.2 104.9L318.3 106.4L316.1 108.7L313.1 107.3ZM318.3 106.4L321.3 107.8L319.2 110.1L316.1 108.7ZM321.3 107.8L324.4 109.2L322.3 111.6L319.2 110.1ZM324.4 109.2L327.5 110.7L325.4 113L322.3 111.6ZM327.5 110.7L330.5 112.1L328.4 114.4L325.4 113ZM330.5 112.1L333.6 113.5L331.5 115.9L328.4 114.4ZM333.6 113.5L336.7 115L334.6 117.3L331.5 115.9ZM336.7 115L339.8 116.4L337.6 118.7L334.6 117.3ZM339.8 116.4L342.8 117.8L340.7 120.2L337.6 118.7ZM342.8 117.8L345.9 119.3L343.8 121.6L340.7 120.2ZM345.9 119.3L349 120.7L346.9 123L343.8 121.6ZM349 120.7L352 122.1L349.9 124.5L346.9 123ZM352 122.1L355.1 123.6L353 125.9L349.9 124.5ZM355.1 123.6L358.2 125L356.1 127.3L353 125.9ZM358.2 125L361.3 126.4L359.1 128.7L356.1 127.3ZM361.3 126.4L364.3 127.9L362.2 130.2L359.1 128.7ZM300.8 101.5L303.9 103L301.7 105.3L298.7 103.9ZM303.9 103L306.9 104.4L304.8 106.7L301.7 105.3ZM306.9 104.4L310 105.8L307.9 108.2L304.8 106.7ZM310 105.8L313.1 107.3L311 109.6L307.9 108.2ZM313.1 107.3L316.1 108.7L314 111L311 109.6ZM316.1 108.7L319.2 110.1L317.1 112.5L314 111ZM319.2 110.1L322.3 111.6L320.2 113.9L317.1 112.5ZM322.3 111.6L325.4 113L323.2 115.3L320.2 113.9ZM325.4 113L328.4 114.4L326.3 116.8L323.2 115.3ZM328.4 114.4L331.5 115.9L329.4 118.2L326.3 116.8ZM331.5 115.9L334.6 117.3L332.5 119.6L329.4 118.2ZM334.6 117.3L337.6 118.7L335.5 121.1L332.5 119.6ZM337.6 118.7L340.7 120.2L338.6 122.5L335.5 121.1ZM340.7 120.2L343.8 121.6L341.7 123.9L338.6 122.5ZM343.8 121.6L346.9 123L344.7 125.3L341.7 123.9ZM346.9 123L349.9 124.5L347.8 126.8L344.7 125.3ZM349.9 124.5L353 125.9L350.9 128.2L347.8 126.8ZM353 125.9L356.1 127.3L354 129.6L350.9 128.2ZM356.1 127.3L359.1 128.7L357 131.1L354 129.6ZM359.1 128.7L362.2 130.2L360.1 132.5L357 131.1ZM298.7 103.9L301.7 105.3L299.6 107.6L296.5 106.2ZM301.7 105.3L304.8 106.7L302.7 109.1L299.6 107.6ZM304.8 106.7L307.9 108.2L305.8 110.5L302.7 109.1ZM307.9 108.2L311 109.6L308.8 111.9L305.8 110.5ZM311 109.6L314 111L311.9 113.4L308.8 111.9ZM314 111L317.1 112.5L315 114.8L311.9 113.4ZM317.1 112.5L320.2 113.9L318 116.2L315 114.8ZM320.2 113.9L323.2 115.3L321.1 117.7L318 116.2ZM323.2 115.3L326.3 116.8L324.2 119.1L321.1 117.7ZM326.3 116.8L329.4 118.2L327.3 120.5L324.2 119.1ZM329.4 118.2L332.5 119.6L330.3 122L327.3 120.5ZM332.5 119.6L335.5 121.1L333.4 123.4L330.3 122ZM335.5 121.1L338.6 122.5L336.5 124.8L333.4 123.4ZM338.6 122.5L341.7 123.9L339.5 126.2L336.5 124.8ZM341.7 123.9L344.7 125.3L342.6 127.7L339.5 126.2ZM344.7 125.3L347.8 126.8L345.7 129.1L342.6 127.7ZM347.8 126.8L350.9 128.2L348.8 130.5L345.7 129.1ZM350.9 128.2L354 129.6L351.8 132L348.8 130.5ZM354 129.6L357 131.1L354.9 133.4L351.8 132ZM357 131.1L360.1 132.5L358 134.8L354.9 133.4ZM296.5 106.2L299.6 107.6L297.5 110L294.4 108.6ZM299.6 107.6L302.7 109.1L300.6 111.4L297.5 110ZM302.7 109.1L305.8 110.5L303.6 112.8L300.6 111.4ZM305.8 110.5L308.8 111.9L306.7 114.3L303.6 112.8ZM308.8 111.9L311.9 113.4L309.8 115.7L306.7 114.3ZM311.9 113.4L315 114.8L312.8 117.1L309.8 115.7ZM315 114.8L318 116.2L315.9 118.6L312.8 117.1ZM318 116.2L321.1 117.7L319 120L315.9 118.6ZM321.1 117.7L324.2 119.1L322.1 121.4L319 120ZM324.2 119.1L327.3 120.5L325.1 122.9L322.1 121.4ZM327.3 120.5L330.3 122L328.2 124.3L325.1 122.9ZM330.3 122L333.4 123.4L331.3 125.7L328.2 124.3ZM333.4 123.4L336.5 124.8L334.4 127.1L331.3 125.7ZM336.5 124.8L339.5 126.2L337.4 128.6L334.4 127.1ZM339.5 126.2L342.6 127.7L340.5 130L337.4 128.6ZM342.6 127.7L345.7 129.1L343.6 131.4L340.5 130ZM345.7 129.1L348.8 130.5L346.7 132.9L343.6 131.4ZM348.8 130.5L351.8 132L349.7 134.3L346.7 132.9ZM351.8 132L354.9 133.4L352.8 135.7L349.7 134.3ZM354.9 133.4L358 134.8L355.9 137.2L352.8 135.7ZM294.4 108.6L297.5 110L295.4 112.3L292.3 110.9ZM297.5 110L300.6 111.4L298.4 113.8L295.4 112.3ZM300.6 111.4L303.6 112.8L301.5 115.2L298.4 113.8ZM303.6 112.8L306.7 114.3L304.6 116.6L301.5 115.2ZM306.7 114.3L309.8 115.7L307.7 118L304.6 116.6ZM309.8 115.7L312.8 117.1L310.7 119.5L307.7 118ZM312.8 117.1L315.9 118.6L313.8 120.9L310.7 119.5ZM315.9 118.6L319 120L316.9 122.3L313.8 120.9ZM319 120L322.1 121.4L319.9 123.8L316.9 122.3ZM322.1 121.4L325.1 122.9L323 125.2L319.9 123.8ZM325.1 122.9L328.2 124.3L326.1 126.6L323 125.2ZM328.2 124.3L331.3 125.7L329.2 128L326.1 126.6ZM331.3 125.7L334.4 127.1L332.2 129.5L329.2 128ZM334.4 127.1L337.4 128.6L335.3 130.9L332.2 129.5ZM337.4 128.6L340.5 130L338.4 132.3L335.3 130.9ZM340.5 130L343.6 131.4L341.5 133.8L338.4 132.3ZM343.6 131.4L346.7 132.9L344.5 135.2L341.5 133.8ZM346.7 132.9L349.7 134.3L347.6 136.6L344.5 135.2ZM349.7 134.3L352.8 135.7L350.7 138.1L347.6 136.6ZM352.8 135.7L355.9 137.2L353.8 139.5L350.7 138.1ZM292.3 110.9L295.4 112.3L293.2 114.7L290.2 113.2ZM295.4 112.3L298.4 113.8L296.3 116.1L293.2 114.7ZM298.4 113.8L301.5 115.2L299.4 117.5L296.3 116.1ZM301.5 115.2L304.6 116.6L302.5 119L299.4 117.5ZM304.6 116.6L307.7 118L305.5 120.4L302.5 119ZM307.7 118L310.7 119.5L308.6 121.8L305.5 120.4ZM310.7 119.5L313.8 120.9L311.7 123.2L308.6 121.8ZM313.8 120.9L316.9 122.3L314.8 124.7L311.7 123.2ZM316.9 122.3L319.9 123.8L317.8 126.1L314.8 124.7ZM319.9 123.8L323 125.2L320.9 127.5L317.8 126.1ZM323 125.2L326.1 126.6L324 129L320.9 127.5ZM326.1 126.6L329.2 128L327 130.4L324 129ZM329.2 128L332.2 129.5L330.1 131.8L327 130.4ZM332.2 129.5L335.3 130.9L333.2 133.2L330.1 131.8ZM335.3 130.9L338.4 132.3L336.3 134.7L333.2 133.2ZM338.4 132.3L341.5 133.8L339.3 136.1L336.3 134.7ZM341.5 133.8L344.5 135.2L342.4 137.5L339.3 136.1ZM344.5 135.2L347.6 136.6L345.5 139L342.4 137.5ZM347.6 136.6L350.7 138.1L348.6 140.4L345.5 139ZM350.7 138.1L353.8 139.5L351.6 141.8L348.6 140.4ZM290.2 113.2L293.2 114.7L291.1 117L288 115.6ZM293.2 114.7L296.3 116.1L294.2 118.4L291.1 117ZM296.3 116.1L299.4 117.5L297.3 119.9L294.2 118.4ZM299.4 117.5L302.5 119L300.3 121.3L297.3 119.9ZM302.5 119L305.5 120.4L303.4 122.7L300.3 121.3ZM305.5 120.4L308.6 121.8L306.5 124.1L303.4 122.7ZM308.6 121.8L311.7 123.2L309.6 125.6L306.5 124.1ZM327 130.4L330.1 131.8L328 134.1L324.9 132.7ZM330.1 131.8L333.2 133.2L331.1 135.6L328 134.1ZM333.2 133.2L336.3 134.7L334.2 137L331.1 135.6ZM336.3 134.7L339.3 136.1L337.2 138.4L334.2 137ZM339.3 136.1L342.4 137.5L340.3 139.9L337.2 138.4ZM342.4 137.5L345.5 139L343.4 141.3L340.3 139.9ZM345.5 139L348.6 140.4L346.5 142.7L343.4 141.3ZM348.6 140.4L351.6 141.8L349.5 144.1L346.5 142.7ZM288 115.6L291.1 117L289 119.3L285.9 117.9ZM291.1 117L294.2 118.4L292.1 120.8L289 119.3ZM294.2 118.4L297.3 119.9L295.1 122.2L292.1 120.8ZM297.3 119.9L300.3 121.3L298.2 123.6L295.1 122.2ZM300.3 121.3L303.4 122.7L301.3 125.1L298.2 123.6ZM303.4 122.7L306.5 124.1L304.4 126.5L301.3 125.1ZM328 134.1L331.1 135.6L329 137.9L325.9 136.5ZM331.1 135.6L334.2 137L332 139.3L329 137.9ZM334.2 137L337.2 138.4L335.1 140.8L332 139.3ZM337.2 138.4L340.3 139.9L338.2 142.2L335.1 140.8ZM340.3 139.9L343.4 141.3L341.3 143.6L338.2 142.2ZM343.4 141.3L346.5 142.7L344.3 145L341.3 143.6ZM346.5 142.7L349.5 144.1L347.4 146.5L344.3 145ZM285.9 117.9L289 119.3L286.8 121.7L283.8 120.3ZM289 119.3L292.1 120.8L289.9 123.1L286.8 121.7ZM292.1 120.8L295.1 122.2L293 124.5L289.9 123.1ZM295.1 122.2L298.2 123.6L296.1 126L293 124.5ZM298.2 123.6L301.3 125.1L299.2 127.4L296.1 126ZM329 137.9L332 139.3L329.9 141.7L326.8 140.2ZM332 139.3L335.1 140.8L333 143.1L329.9 141.7ZM335.1 140.8L338.2 142.2L336.1 144.5L333 143.1ZM338.2 142.2L341.3 143.6L339.2 145.9L336.1 144.5ZM341.3 143.6L344.3 145L342.2 147.4L339.2 145.9ZM344.3 145L347.4 146.5L345.3 148.8L342.2 147.4ZM283.8 120.3L286.8 121.7L284.7 124L281.6 122.6ZM286.8 121.7L289.9 123.1L287.8 125.5L284.7 124ZM289.9 123.1L293 124.5L290.9 126.9L287.8 125.5ZM293 124.5L296.1 126L294 128.3L290.9 126.9ZM296.1 126L299.2 127.4L297 129.7L294 128.3ZM329.9 141.7L333 143.1L330.9 145.4L327.8 144ZM333 143.1L336.1 144.5L334 146.8L330.9 145.4ZM336.1 144.5L339.2 145.9L337 148.3L334 146.8ZM339.2 145.9L342.2 147.4L340.1 149.7L337 148.3ZM342.2 147.4L345.3 148.8L343.2 151.1L340.1 149.7ZM281.6 122.6L284.7 124L282.6 126.4L279.5 124.9ZM284.7 124L287.8 125.5L285.7 127.8L282.6 126.4ZM287.8 125.5L290.9 126.9L288.8 129.2L285.7 127.8ZM290.9 126.9L294 128.3L291.8 130.6L288.8 129.2ZM294 128.3L297 129.7L294.9 132.1L291.8 130.6ZM327.8 144L330.9 145.4L328.8 147.7L325.7 146.3ZM330.9 145.4L334 146.8L331.8 149.2L328.8 147.7ZM334 146.8L337 148.3L334.9 150.6L331.8 149.2ZM337 148.3L340.1 149.7L338 152L334.9 150.6ZM340.1 149.7L343.2 151.1L341.1 153.4L338 152ZM279.5 124.9L282.6 126.4L280.5 128.7L277.4 127.3ZM282.6 126.4L285.7 127.8L283.5 130.1L280.5 128.7ZM285.7 127.8L288.8 129.2L286.6 131.6L283.5 130.1ZM288.8 129.2L291.8 130.6L289.7 133L286.6 131.6ZM291.8 130.6L294.9 132.1L292.8 134.4L289.7 133ZM328.8 147.7L331.8 149.2L329.7 151.5L326.7 150.1ZM331.8 149.2L334.9 150.6L332.8 152.9L329.7 151.5ZM334.9 150.6L338 152L335.9 154.3L332.8 152.9ZM338 152L341.1 153.4L339 155.8L335.9 154.3ZM277.4 127.3L280.5 128.7L278.3 131.1L275.3 129.6ZM280.5 128.7L283.5 130.1L281.4 132.5L278.3 131.1ZM283.5 130.1L286.6 131.6L284.5 133.9L281.4 132.5ZM286.6 131.6L289.7 133L287.6 135.3L284.5 133.9ZM289.7 133L292.8 134.4L290.7 136.7L287.6 135.3ZM292.8 134.4L295.9 135.8L293.7 138.2L290.7 136.7ZM326.7 150.1L329.7 151.5L327.6 153.8L324.5 152.4ZM329.7 151.5L332.8 152.9L330.7 155.2L327.6 153.8ZM332.8 152.9L335.9 154.3L333.8 156.7L330.7 155.2ZM335.9 154.3L339 155.8L336.9 158.1L333.8 156.7ZM275.3 129.6L278.3 131.1L276.2 133.4L273.1 132ZM278.3 131.1L281.4 132.5L279.3 134.8L276.2 133.4ZM281.4 132.5L284.5 133.9L282.4 136.2L279.3 134.8ZM284.5 133.9L287.6 135.3L285.5 137.7L282.4 136.2ZM287.6 135.3L290.7 136.7L288.5 139.1L285.5 137.7ZM290.7 136.7L293.7 138.2L291.6 140.5L288.5 139.1ZM324.5 152.4L327.6 153.8L325.5 156.1L322.4 154.7ZM327.6 153.8L330.7 155.2L328.6 157.6L325.5 156.1ZM330.7 155.2L333.8 156.7L331.7 159L328.6 157.6ZM333.8 156.7L336.9 158.1L334.7 160.4L331.7 159ZM273.1 132L276.2 133.4L274.1 135.7L271 134.3ZM276.2 133.4L279.3 134.8L277.2 137.2L274.1 135.7ZM279.3 134.8L282.4 136.2L280.3 138.6L277.2 137.2ZM282.4 136.2L285.5 137.7L283.3 140L280.3 138.6ZM285.5 137.7L288.5 139.1L286.4 141.4L283.3 140ZM288.5 139.1L291.6 140.5L289.5 142.8L286.4 141.4ZM291.6 140.5L294.7 141.9L292.6 144.3L289.5 142.8ZM322.4 154.7L325.5 156.1L323.4 158.5L320.3 157.1ZM325.5 156.1L328.6 157.6L326.5 159.9L323.4 158.5ZM328.6 157.6L331.7 159L329.5 161.3L326.5 159.9ZM331.7 159L334.7 160.4L332.6 162.7L329.5 161.3ZM271 134.3L274.1 135.7L272 138.1L268.9 136.7ZM274.1 135.7L277.2 137.2L275 139.5L272 138.1ZM277.2 137.2L280.3 138.6L278.1 140.9L275 139.5ZM280.3 138.6L283.3 140L281.2 142.3L278.1 140.9ZM283.3 140L286.4 141.4L284.3 143.8L281.2 142.3ZM286.4 141.4L289.5 142.8L287.4 145.2L284.3 143.8ZM289.5 142.8L292.6 144.3L290.5 146.6L287.4 145.2ZM292.6 144.3L295.7 145.7L293.5 148L290.5 146.6ZM317.2 155.6L320.3 157.1L318.2 159.4L315.1 158ZM320.3 157.1L323.4 158.5L321.3 160.8L318.2 159.4ZM323.4 158.5L326.5 159.9L324.4 162.2L321.3 160.8ZM326.5 159.9L329.5 161.3L327.4 163.6L324.4 162.2ZM329.5 161.3L332.6 162.7L330.5 165.1L327.4 163.6ZM268.9 136.7L272 138.1L269.8 140.4L266.8 139ZM272 138.1L275 139.5L272.9 141.8L269.8 140.4ZM275 139.5L278.1 140.9L276 143.3L272.9 141.8ZM278.1 140.9L281.2 142.3L279.1 144.7L276 143.3ZM281.2 142.3L284.3 143.8L282.2 146.1L279.1 144.7ZM284.3 143.8L287.4 145.2L285.2 147.5L282.2 146.1ZM287.4 145.2L290.5 146.6L288.3 148.9L285.2 147.5ZM290.5 146.6L293.5 148L291.4 150.4L288.3 148.9ZM293.5 148L296.6 149.4L294.5 151.8L291.4 150.4ZM296.6 149.4L299.7 150.9L297.6 153.2L294.5 151.8ZM312 156.5L315.1 158L313 160.3L309.9 158.9ZM315.1 158L318.2 159.4L316.1 161.7L313 160.3ZM318.2 159.4L321.3 160.8L319.2 163.1L316.1 161.7ZM321.3 160.8L324.4 162.2L322.2 164.5L319.2 163.1ZM324.4 162.2L327.4 163.6L325.3 166L322.2 164.5ZM327.4 163.6L330.5 165.1L328.4 167.4L325.3 166ZM266.8 139L269.8 140.4L267.7 142.8L264.6 141.3ZM269.8 140.4L272.9 141.8L270.8 144.2L267.7 142.8ZM272.9 141.8L276 143.3L273.9 145.6L270.8 144.2ZM276 143.3L279.1 144.7L277 147L273.9 145.6ZM279.1 144.7L282.2 146.1L280 148.4L277 147ZM282.2 146.1L285.2 147.5L283.1 149.9L280 148.4ZM285.2 147.5L288.3 148.9L286.2 151.3L283.1 149.9ZM288.3 148.9L291.4 150.4L289.3 152.7L286.2 151.3ZM291.4 150.4L294.5 151.8L292.4 154.1L289.3 152.7ZM294.5 151.8L297.6 153.2L295.5 155.5L292.4 154.1ZM297.6 153.2L300.7 154.6L298.5 156.9L295.5 155.5ZM300.7 154.6L303.7 156L301.6 158.4L298.5 156.9ZM303.7 156L306.8 157.5L304.7 159.8L301.6 158.4ZM306.8 157.5L309.9 158.9L307.8 161.2L304.7 159.8ZM309.9 158.9L313 160.3L310.9 162.6L307.8 161.2ZM313 160.3L316.1 161.7L314 164L310.9 162.6ZM316.1 161.7L319.2 163.1L317 165.5L314 164ZM319.2 163.1L322.2 164.5L320.1 166.9L317 165.5ZM322.2 164.5L325.3 166L323.2 168.3L320.1 166.9ZM325.3 166L328.4 167.4L326.3 169.7L323.2 168.3ZM264.6 141.3L267.7 142.8L265.6 145.1L262.5 143.7ZM267.7 142.8L270.8 144.2L268.7 146.5L265.6 145.1ZM270.8 144.2L273.9 145.6L271.8 147.9L268.7 146.5ZM273.9 145.6L277 147L274.8 149.4L271.8 147.9ZM277 147L280 148.4L277.9 150.8L274.8 149.4ZM280 148.4L283.1 149.9L281 152.2L277.9 150.8ZM283.1 149.9L286.2 151.3L284.1 153.6L281 152.2ZM286.2 151.3L289.3 152.7L287.2 155L284.1 153.6ZM289.3 152.7L292.4 154.1L290.3 156.4L287.2 155ZM292.4 154.1L295.5 155.5L293.3 157.9L290.3 156.4ZM295.5 155.5L298.5 156.9L296.4 159.3L293.3 157.9ZM298.5 156.9L301.6 158.4L299.5 160.7L296.4 159.3ZM301.6 158.4L304.7 159.8L302.6 162.1L299.5 160.7ZM304.7 159.8L307.8 161.2L305.7 163.5L302.6 162.1ZM307.8 161.2L310.9 162.6L308.8 164.9L305.7 163.5ZM310.9 162.6L314 164L311.8 166.4L308.8 164.9ZM314 164L317 165.5L314.9 167.8L311.8 166.4ZM317 165.5L320.1 166.9L318 169.2L314.9 167.8ZM320.1 166.9L323.2 168.3L321.1 170.6L318 169.2ZM323.2 168.3L326.3 169.7L324.2 172L321.1 170.6ZM262.5 143.7L265.6 145.1L263.5 147.4L260.4 146ZM265.6 145.1L268.7 146.5L266.5 148.9L263.5 147.4ZM268.7 146.5L271.8 147.9L269.6 150.3L266.5 148.9ZM271.8 147.9L274.8 149.4L272.7 151.7L269.6 150.3ZM274.8 149.4L277.9 150.8L275.8 153.1L272.7 151.7ZM277.9 150.8L281 152.2L278.9 154.5L275.8 153.1ZM281 152.2L284.1 153.6L282 155.9L278.9 154.5ZM284.1 153.6L287.2 155L285.1 157.4L282 155.9ZM287.2 155L290.3 156.4L288.1 158.8L285.1 157.4ZM290.3 156.4L293.3 157.9L291.2 160.2L288.1 158.8ZM293.3 157.9L296.4 159.3L294.3 161.6L291.2 160.2ZM296.4 159.3L299.5 160.7L297.4 163L294.3 161.6ZM299.5 160.7L302.6 162.1L300.5 164.4L297.4 163ZM302.6 162.1L305.7 163.5L303.6 165.9L300.5 164.4ZM305.7 163.5L308.8 164.9L306.6 167.3L303.6 165.9ZM308.8 164.9L311.8 166.4L309.7 168.7L306.6 167.3ZM311.8 166.4L314.9 167.8L312.8 170.1L309.7 168.7ZM314.9 167.8L318 169.2L315.9 171.5L312.8 170.1ZM318 169.2L321.1 170.6L319 172.9L315.9 171.5ZM321.1 170.6L324.2 172L322.1 174.4L319 172.9ZM260.4 146L263.5 147.4L261.3 149.8L258.2 148.4ZM263.5 147.4L266.5 148.9L264.4 151.2L261.3 149.8ZM266.5 148.9L269.6 150.3L267.5 152.6L264.4 151.2ZM269.6 150.3L272.7 151.7L270.6 154L267.5 152.6ZM272.7 151.7L275.8 153.1L273.7 155.4L270.6 154ZM275.8 153.1L278.9 154.5L276.8 156.9L273.7 155.4ZM278.9 154.5L282 155.9L279.8 158.3L276.8 156.9ZM282 155.9L285.1 157.4L282.9 159.7L279.8 158.3ZM285.1 157.4L288.1 158.8L286 161.1L282.9 159.7ZM288.1 158.8L291.2 160.2L289.1 162.5L286 161.1ZM291.2 160.2L294.3 161.6L292.2 163.9L289.1 162.5ZM294.3 161.6L297.4 163L295.3 165.4L292.2 163.9ZM297.4 163L300.5 164.4L298.4 166.8L295.3 165.4ZM300.5 164.4L303.6 165.9L301.4 168.2L298.4 166.8ZM303.6 165.9L306.6 167.3L304.5 169.6L301.4 168.2ZM306.6 167.3L309.7 168.7L307.6 171L304.5 169.6ZM309.7 168.7L312.8 170.1L310.7 172.4L307.6 171ZM312.8 170.1L315.9 171.5L313.8 173.9L310.7 172.4ZM315.9 171.5L319 172.9L316.9 175.3L313.8 173.9ZM319 172.9L322.1 174.4L320 176.7L316.9 175.3ZM258.2 148.4L261.3 149.8L259.2 152.1L256.1 150.7ZM261.3 149.8L264.4 151.2L262.3 153.5L259.2 152.1ZM264.4 151.2L267.5 152.6L265.4 155L262.3 153.5ZM267.5 152.6L270.6 154L268.5 156.4L265.4 155ZM270.6 154L273.7 155.4L271.5 157.8L268.5 156.4ZM273.7 155.4L276.8 156.9L274.6 159.2L271.5 157.8ZM276.8 156.9L279.8 158.3L277.7 160.6L274.6 159.2ZM279.8 158.3L282.9 159.7L280.8 162L277.7 160.6ZM282.9 159.7L286 161.1L283.9 163.4L280.8 162ZM286 161.1L289.1 162.5L287 164.9L283.9 163.4ZM289.1 162.5L292.2 163.9L290.1 166.3L287 164.9ZM292.2 163.9L295.3 165.4L293.2 167.7L290.1 166.3ZM295.3 165.4L298.4 166.8L296.2 169.1L293.2 167.7ZM298.4 166.8L301.4 168.2L299.3 170.5L296.2 169.1ZM301.4 168.2L304.5 169.6L302.4 171.9L299.3 170.5ZM304.5 169.6L307.6 171L305.5 173.4L302.4 171.9ZM307.6 171L310.7 172.4L308.6 174.8L305.5 173.4ZM310.7 172.4L313.8 173.9L311.7 176.2L308.6 174.8ZM313.8 173.9L316.9 175.3L314.8 177.6L311.7 176.2ZM316.9 175.3L320 176.7L317.8 179L314.8 177.6ZM256.1 150.7L259.2 152.1L257.1 154.5L254 153ZM259.2 152.1L262.3 153.5L260.2 155.9L257.1 154.5ZM262.3 153.5L265.4 155L263.3 157.3L260.2 155.9ZM265.4 155L268.5 156.4L266.3 158.7L263.3 157.3ZM268.5 156.4L271.5 157.8L269.4 160.1L266.3 158.7ZM271.5 157.8L274.6 159.2L272.5 161.5L269.4 160.1ZM274.6 159.2L277.7 160.6L275.6 163L272.5 161.5ZM277.7 160.6L280.8 162L278.7 164.4L275.6 163ZM280.8 162L283.9 163.4L281.8 165.8L278.7 164.4ZM283.9 163.4L287 164.9L284.9 167.2L281.8 165.8ZM287 164.9L290.1 166.3L287.9 168.6L284.9 167.2ZM290.1 166.3L293.2 167.7L291 170L287.9 168.6ZM293.2 167.7L296.2 169.1L294.1 171.4L291 170ZM296.2 169.1L299.3 170.5L297.2 172.9L294.1 171.4ZM299.3 170.5L302.4 171.9L300.3 174.3L297.2 172.9ZM302.4 171.9L305.5 173.4L303.4 175.7L300.3 174.3ZM305.5 173.4L308.6 174.8L306.5 177.1L303.4 175.7ZM308.6 174.8L311.7 176.2L309.6 178.5L306.5 177.1ZM311.7 176.2L314.8 177.6L312.6 179.9L309.6 178.5ZM314.8 177.6L317.8 179L315.7 181.3L312.6 179.9ZM254 153L257.1 154.5L255 156.8L251.9 155.4ZM257.1 154.5L260.2 155.9L258 158.2L255 156.8ZM260.2 155.9L263.3 157.3L261.1 159.6L258 158.2ZM263.3 157.3L266.3 158.7L264.2 161L261.1 159.6ZM266.3 158.7L269.4 160.1L267.3 162.5L264.2 161ZM269.4 160.1L272.5 161.5L270.4 163.9L267.3 162.5ZM272.5 161.5L275.6 163L273.5 165.3L270.4 163.9ZM275.6 163L278.7 164.4L276.6 166.7L273.5 165.3ZM278.7 164.4L281.8 165.8L279.7 168.1L276.6 166.7ZM281.8 165.8L284.9 167.2L282.7 169.5L279.7 168.1ZM284.9 167.2L287.9 168.6L285.8 170.9L282.7 169.5ZM287.9 168.6L291 170L288.9 172.4L285.8 170.9ZM291 170L294.1 171.4L292 173.8L288.9 172.4ZM294.1 171.4L297.2 172.9L295.1 175.2L292 173.8ZM297.2 172.9L300.3 174.3L298.2 176.6L295.1 175.2ZM300.3 174.3L303.4 175.7L301.3 178L298.2 176.6ZM303.4 175.7L306.5 177.1L304.4 179.4L301.3 178ZM306.5 177.1L309.6 178.5L307.4 180.8L304.4 179.4ZM309.6 178.5L312.6 179.9L310.5 182.3L307.4 180.8ZM312.6 179.9L315.7 181.3L313.6 183.7L310.5 182.3ZM251.9 155.4L255 156.8L252.8 159.1L249.7 157.7ZM255 156.8L258 158.2L255.9 160.6L252.8 159.1ZM258 158.2L261.1 159.6L259 162L255.9 160.6ZM261.1 159.6L264.2 161L262.1 163.4L259 162ZM264.2 161L267.3 162.5L265.2 164.8L262.1 163.4ZM267.3 162.5L270.4 163.9L268.3 166.2L265.2 164.8ZM270.4 163.9L273.5 165.3L271.4 167.6L268.3 166.2ZM273.5 165.3L276.6 166.7L274.4 169L271.4 167.6ZM276.6 166.7L279.7 168.1L277.5 170.4L274.4 169ZM279.7 168.1L282.7 169.5L280.6 171.9L277.5 170.4ZM282.7 169.5L285.8 170.9L283.7 173.3L280.6 171.9ZM285.8 170.9L288.9 172.4L286.8 174.7L283.7 173.3ZM288.9 172.4L292 173.8L289.9 176.1L286.8 174.7ZM292 173.8L295.1 175.2L293 177.5L289.9 176.1ZM295.1 175.2L298.2 176.6L296.1 178.9L293 177.5ZM298.2 176.6L301.3 178L299.2 180.3L296.1 178.9ZM301.3 178L304.4 179.4L302.2 181.8L299.2 180.3ZM304.4 179.4L307.4 180.8L305.3 183.2L302.2 181.8ZM307.4 180.8L310.5 182.3L308.4 184.6L305.3 183.2ZM310.5 182.3L313.6 183.7L311.5 186L308.4 184.6ZM249.7 157.7L252.8 159.1L250.7 161.5L247.6 160.1ZM252.8 159.1L255.9 160.6L253.8 162.9L250.7 161.5ZM255.9 160.6L259 162L256.9 164.3L253.8 162.9ZM259 162L262.1 163.4L260 165.7L256.9 164.3ZM262.1 163.4L265.2 164.8L263.1 167.1L260 165.7ZM265.2 164.8L268.3 166.2L266.1 168.5L263.1 167.1ZM268.3 166.2L271.4 167.6L269.2 170L266.1 168.5ZM271.4 167.6L274.4 169L272.3 171.4L269.2 170ZM274.4 169L277.5 170.4L275.4 172.8L272.3 171.4ZM277.5 170.4L280.6 171.9L278.5 174.2L275.4 172.8ZM280.6 171.9L283.7 173.3L281.6 175.6L278.5 174.2ZM283.7 173.3L286.8 174.7L284.7 177L281.6 175.6ZM286.8 174.7L289.9 176.1L287.8 178.4L284.7 177ZM289.9 176.1L293 177.5L290.9 179.8L287.8 178.4ZM293 177.5L296.1 178.9L293.9 181.3L290.9 179.8ZM296.1 178.9L299.2 180.3L297 182.7L293.9 181.3ZM299.2 180.3L302.2 181.8L300.1 184.1L297 182.7ZM302.2 181.8L305.3 183.2L303.2 185.5L300.1 184.1ZM305.3 183.2L308.4 184.6L306.3 186.9L303.2 185.5ZM308.4 184.6L311.5 186L309.4 188.3L306.3 186.9ZM247.6 160.1L250.7 161.5L248.6 163.8L245.5 162.4ZM250.7 161.5L253.8 162.9L251.7 165.2L248.6 163.8ZM253.8 162.9L256.9 164.3L254.8 166.6L251.7 165.2ZM256.9 164.3L260 165.7L257.8 168.1L254.8 166.6ZM260 165.7L263.1 167.1L260.9 169.5L257.8 168.1ZM263.1 167.1L266.1 168.5L264 170.9L260.9 169.5ZM266.1 168.5L269.2 170L267.1 172.3L264 170.9ZM269.2 170L272.3 171.4L270.2 173.7L267.1 172.3ZM272.3 171.4L275.4 172.8L273.3 175.1L270.2 173.7ZM275.4 172.8L278.5 174.2L276.4 176.5L273.3 175.1ZM278.5 174.2L281.6 175.6L279.5 177.9L276.4 176.5ZM281.6 175.6L284.7 177L282.6 179.4L279.5 177.9ZM284.7 177L287.8 178.4L285.6 180.8L282.6 179.4ZM287.8 178.4L290.9 179.8L288.7 182.2L285.6 180.8ZM290.9 179.8L293.9 181.3L291.8 183.6L288.7 182.2ZM293.9 181.3L297 182.7L294.9 185L291.8 183.6ZM297 182.7L300.1 184.1L298 186.4L294.9 185ZM300.1 184.1L303.2 185.5L301.1 187.8L298 186.4ZM303.2 185.5L306.3 186.9L304.2 189.2L301.1 187.8ZM306.3 186.9L309.4 188.3L307.3 190.6L304.2 189.2ZM245.5 162.4L248.6 163.8L246.4 166.2L243.4 164.8ZM248.6 163.8L251.7 165.2L249.5 167.6L246.4 166.2ZM251.7 165.2L254.8 166.6L252.6 169L249.5 167.6ZM254.8 166.6L257.8 168.1L255.7 170.4L252.6 169ZM257.8 168.1L260.9 169.5L258.8 171.8L255.7 170.4ZM260.9 169.5L264 170.9L261.9 173.2L258.8 171.8ZM264 170.9L267.1 172.3L265 174.6L261.9 173.2ZM267.1 172.3L270.2 173.7L268.1 176L265 174.6ZM270.2 173.7L273.3 175.1L271.2 177.5L268.1 176ZM273.3 175.1L276.4 176.5L274.3 178.9L271.2 177.5ZM276.4 176.5L279.5 177.9L277.4 180.3L274.3 178.9ZM279.5 177.9L282.6 179.4L280.4 181.7L277.4 180.3ZM282.6 179.4L285.6 180.8L283.5 183.1L280.4 181.7ZM285.6 180.8L288.7 182.2L286.6 184.5L283.5 183.1ZM288.7 182.2L291.8 183.6L289.7 185.9L286.6 184.5ZM291.8 183.6L294.9 185L292.8 187.3L289.7 185.9ZM294.9 185L298 186.4L295.9 188.7L292.8 187.3ZM298 186.4L301.1 187.8L299 190.1L295.9 188.7ZM301.1 187.8L304.2 189.2L302.1 191.6L299 190.1ZM304.2 189.2L307.3 190.6L305.2 193L302.1 191.6ZM243.4 164.8L246.4 166.2L244.3 168.5L241.2 167.1ZM246.4 166.2L249.5 167.6L247.4 169.9L244.3 168.5ZM249.5 167.6L252.6 169L250.5 171.3L247.4 169.9ZM252.6 169L255.7 170.4L253.6 172.7L250.5 171.3ZM255.7 170.4L258.8 171.8L256.7 174.1L253.6 172.7ZM258.8 171.8L261.9 173.2L259.8 175.6L256.7 174.1ZM261.9 173.2L265 174.6L262.9 177L259.8 175.6ZM265 174.6L268.1 176L266 178.4L262.9 177ZM268.1 176L271.2 177.5L269 179.8L266 178.4ZM271.2 177.5L274.3 178.9L272.1 181.2L269 179.8ZM274.3 178.9L277.4 180.3L275.2 182.6L272.1 181.2ZM277.4 180.3L280.4 181.7L278.3 184L275.2 182.6ZM280.4 181.7L283.5 183.1L281.4 185.4L278.3 184ZM283.5 183.1L286.6 184.5L284.5 186.8L281.4 185.4ZM286.6 184.5L289.7 185.9L287.6 188.2L284.5 186.8ZM289.7 185.9L292.8 187.3L290.7 189.7L287.6 188.2ZM292.8 187.3L295.9 188.7L293.8 191.1L290.7 189.7ZM295.9 188.7L299 190.1L296.9 192.5L293.8 191.1ZM299 190.1L302.1 191.6L300 193.9L296.9 192.5ZM302.1 191.6L305.2 193L303.1 195.3L300 193.9ZM241.2 167.1L244.3 168.5L242.2 170.8L239.1 169.4ZM244.3 168.5L247.4 169.9L245.3 172.3L242.2 170.8ZM247.4 169.9L250.5 171.3L248.4 173.7L245.3 172.3ZM250.5 171.3L253.6 172.7L251.5 175.1L248.4 173.7ZM253.6 172.7L256.7 174.1L254.6 176.5L251.5 175.1ZM256.7 174.1L259.8 175.6L257.7 177.9L254.6 176.5ZM259.8 175.6L262.9 177L260.7 179.3L257.7 177.9ZM262.9 177L266 178.4L263.8 180.7L260.7 179.3ZM266 178.4L269 179.8L266.9 182.1L263.8 180.7ZM269 179.8L272.1 181.2L270 183.5L266.9 182.1ZM272.1 181.2L275.2 182.6L273.1 184.9L270 183.5ZM275.2 182.6L278.3 184L276.2 186.3L273.1 184.9ZM278.3 184L281.4 185.4L279.3 187.8L276.2 186.3ZM281.4 185.4L284.5 186.8L282.4 189.2L279.3 187.8ZM284.5 186.8L287.6 188.2L285.5 190.6L282.4 189.2ZM287.6 188.2L290.7 189.7L288.6 192L285.5 190.6ZM290.7 189.7L293.8 191.1L291.7 193.4L288.6 192ZM293.8 191.1L296.9 192.5L294.8 194.8L291.7 193.4ZM296.9 192.5L300 193.9L297.8 196.2L294.8 194.8ZM300 193.9L303.1 195.3L300.9 197.6L297.8 196.2ZM239.1 169.4L242.2 170.8L240.1 173.2L237 171.8ZM242.2 170.8L245.3 172.3L243.2 174.6L240.1 173.2ZM245.3 172.3L248.4 173.7L246.3 176L243.2 174.6ZM248.4 173.7L251.5 175.1L249.3 177.4L246.3 176ZM251.5 175.1L254.6 176.5L252.4 178.8L249.3 177.4ZM254.6 176.5L257.7 177.9L255.5 180.2L252.4 178.8ZM257.7 177.9L260.7 179.3L258.6 181.6L255.5 180.2ZM260.7 179.3L263.8 180.7L261.7 183L258.6 181.6ZM263.8 180.7L266.9 182.1L264.8 184.5L261.7 183ZM266.9 182.1L270 183.5L267.9 185.9L264.8 184.5ZM270 183.5L273.1 184.9L271 187.3L267.9 185.9ZM273.1 184.9L276.2 186.3L274.1 188.7L271 187.3ZM276.2 186.3L279.3 187.8L277.2 190.1L274.1 188.7ZM279.3 187.8L282.4 189.2L280.3 191.5L277.2 190.1ZM282.4 189.2L285.5 190.6L283.4 192.9L280.3 191.5ZM285.5 190.6L288.6 192L286.5 194.3L283.4 192.9ZM288.6 192L291.7 193.4L289.5 195.7L286.5 194.3ZM291.7 193.4L294.8 194.8L292.6 197.1L289.5 195.7ZM294.8 194.8L297.8 196.2L295.7 198.5L292.6 197.1ZM297.8 196.2L300.9 197.6L298.8 199.9L295.7 198.5ZM237 171.8L240.1 173.2L237.9 175.5L234.8 174.1ZM240.1 173.2L243.2 174.6L241 176.9L237.9 175.5ZM243.2 174.6L246.3 176L244.1 178.3L241 176.9ZM246.3 176L249.3 177.4L247.2 179.8L244.1 178.3ZM249.3 177.4L252.4 178.8L250.3 181.2L247.2 179.8ZM252.4 178.8L255.5 180.2L253.4 182.6L250.3 181.2ZM255.5 180.2L258.6 181.6L256.5 184L253.4 182.6ZM258.6 181.6L261.7 183L259.6 185.4L256.5 184ZM261.7 183L264.8 184.5L262.7 186.8L259.6 185.4ZM264.8 184.5L267.9 185.9L265.8 188.2L262.7 186.8ZM267.9 185.9L271 187.3L268.9 189.6L265.8 188.2ZM271 187.3L274.1 188.7L272 191L268.9 189.6ZM274.1 188.7L277.2 190.1L275.1 192.4L272 191ZM277.2 190.1L280.3 191.5L278.2 193.8L275.1 192.4ZM280.3 191.5L283.4 192.9L281.2 195.2L278.2 193.8ZM283.4 192.9L286.5 194.3L284.3 196.6L281.2 195.2ZM286.5 194.3L289.5 195.7L287.4 198L284.3 196.6ZM289.5 195.7L292.6 197.1L290.5 199.5L287.4 198ZM292.6 197.1L295.7 198.5L293.6 200.9L290.5 199.5ZM295.7 198.5L298.8 199.9L296.7 202.3L293.6 200.9ZM234.8 174.1L237.9 175.5L235.8 177.9L232.7 176.5ZM237.9 175.5L241 176.9L238.9 179.3L235.8 177.9ZM241 176.9L244.1 178.3L242 180.7L238.9 179.3ZM244.1 178.3L247.2 179.8L245.1 182.1L242 180.7ZM247.2 179.8L250.3 181.2L248.2 183.5L245.1 182.1ZM250.3 181.2L253.4 182.6L251.3 184.9L248.2 183.5ZM253.4 182.6L256.5 184L254.4 186.3L251.3 184.9ZM256.5 184L259.6 185.4L257.5 187.7L254.4 186.3ZM259.6 185.4L262.7 186.8L260.6 189.1L257.5 187.7ZM262.7 186.8L265.8 188.2L263.7 190.5L260.6 189.1ZM265.8 188.2L268.9 189.6L266.8 191.9L263.7 190.5ZM268.9 189.6L272 191L269.8 193.3L266.8 191.9ZM272 191L275.1 192.4L272.9 194.8L269.8 193.3ZM275.1 192.4L278.2 193.8L276 196.2L272.9 194.8ZM278.2 193.8L281.2 195.2L279.1 197.6L276 196.2ZM281.2 195.2L284.3 196.6L282.2 199L279.1 197.6ZM284.3 196.6L287.4 198L285.3 200.4L282.2 199ZM287.4 198L290.5 199.5L288.4 201.8L285.3 200.4ZM290.5 199.5L293.6 200.9L291.5 203.2L288.4 201.8ZM293.6 200.9L296.7 202.3L294.6 204.6L291.5 203.2ZM232.7 176.5L235.8 177.9L233.7 180.2L230.6 178.8ZM235.8 177.9L238.9 179.3L236.8 181.6L233.7 180.2ZM238.9 179.3L242 180.7L239.9 183L236.8 181.6ZM242 180.7L245.1 182.1L243 184.4L239.9 183ZM245.1 182.1L248.2 183.5L246.1 185.8L243 184.4ZM248.2 183.5L251.3 184.9L249.2 187.2L246.1 185.8ZM251.3 184.9L254.4 186.3L252.3 188.6L249.2 187.2ZM254.4 186.3L257.5 187.7L255.4 190.1L252.3 188.6ZM257.5 187.7L260.6 189.1L258.4 191.5L255.4 190.1ZM260.6 189.1L263.7 190.5L261.5 192.9L258.4 191.5ZM263.7 190.5L266.8 191.9L264.6 194.3L261.5 192.9ZM266.8 191.9L269.8 193.3L267.7 195.7L264.6 194.3ZM269.8 193.3L272.9 194.8L270.8 197.1L267.7 195.7ZM272.9 194.8L276 196.2L273.9 198.5L270.8 197.1ZM276 196.2L279.1 197.6L277 199.9L273.9 198.5ZM279.1 197.6L282.2 199L280.1 201.3L277 199.9ZM282.2 199L285.3 200.4L283.2 202.7L280.1 201.3ZM285.3 200.4L288.4 201.8L286.3 204.1L283.2 202.7ZM288.4 201.8L291.5 203.2L289.4 205.5L286.3 204.1ZM291.5 203.2L294.6 204.6L292.5 206.9L289.4 205.5ZM230.6 178.8L233.7 180.2L231.6 182.6L228.5 181.1ZM233.7 180.2L236.8 181.6L234.7 184L231.6 182.6ZM236.8 181.6L239.9 183L237.8 185.4L234.7 184ZM239.9 183L243 184.4L240.8 186.8L237.8 185.4ZM243 184.4L246.1 185.8L243.9 188.2L240.8 186.8ZM246.1 185.8L249.2 187.2L247 189.6L243.9 188.2ZM249.2 187.2L252.3 188.6L250.1 191L247 189.6ZM252.3 188.6L255.4 190.1L253.2 192.4L250.1 191ZM255.4 190.1L258.4 191.5L256.3 193.8L253.2 192.4ZM258.4 191.5L261.5 192.9L259.4 195.2L256.3 193.8ZM261.5 192.9L264.6 194.3L262.5 196.6L259.4 195.2ZM264.6 194.3L267.7 195.7L265.6 198L262.5 196.6ZM267.7 195.7L270.8 197.1L268.7 199.4L265.6 198ZM270.8 197.1L273.9 198.5L271.8 200.8L268.7 199.4ZM273.9 198.5L277 199.9L274.9 202.2L271.8 200.8ZM277 199.9L280.1 201.3L278 203.6L274.9 202.2ZM280.1 201.3L283.2 202.7L281.1 205L278 203.6ZM283.2 202.7L286.3 204.1L284.2 206.4L281.1 205ZM286.3 204.1L289.4 205.5L287.3 207.8L284.2 206.4ZM289.4 205.5L292.5 206.9L290.4 209.2L287.3 207.8ZM228.5 181.1L231.6 182.6L229.4 184.9L226.3 183.5ZM231.6 182.6L234.7 184L232.5 186.3L229.4 184.9ZM234.7 184L237.8 185.4L235.6 187.7L232.5 186.3ZM237.8 185.4L240.8 186.8L238.7 189.1L235.6 187.7ZM240.8 186.8L243.9 188.2L241.8 190.5L238.7 189.1ZM243.9 188.2L247 189.6L244.9 191.9L241.8 190.5ZM247 189.6L250.1 191L248 193.3L244.9 191.9ZM250.1 191L253.2 192.4L251.1 194.7L248 193.3ZM253.2 192.4L256.3 193.8L254.2 196.1L251.1 194.7ZM256.3 193.8L259.4 195.2L257.3 197.5L254.2 196.1ZM259.4 195.2L262.5 196.6L260.4 198.9L257.3 197.5ZM262.5 196.6L265.6 198L263.5 200.3L260.4 198.9ZM265.6 198L268.7 199.4L266.6 201.7L263.5 200.3ZM268.7 199.4L271.8 200.8L269.7 203.1L266.6 201.7ZM271.8 200.8L274.9 202.2L272.8 204.6L269.7 203.1ZM274.9 202.2L278 203.6L275.9 206L272.8 204.6ZM278 203.6L281.1 205L279 207.4L275.9 206ZM281.1 205L284.2 206.4L282.1 208.8L279 207.4ZM284.2 206.4L287.3 207.8L285.2 210.2L282.1 208.8ZM287.3 207.8L290.4 209.2L288.3 211.6L285.2 210.2ZM226.3 183.5L229.4 184.9L227.3 187.2L224.2 185.8ZM229.4 184.9L232.5 186.3L230.4 188.6L227.3 187.2ZM232.5 186.3L235.6 187.7L233.5 190L230.4 188.6ZM235.6 187.7L238.7 189.1L236.6 191.4L233.5 190ZM238.7 189.1L241.8 190.5L239.7 192.8L236.6 191.4ZM241.8 190.5L244.9 191.9L242.8 194.3L239.7 192.8ZM244.9 191.9L248 193.3L245.9 195.7L242.8 194.3ZM248 193.3L251.1 194.7L249 197.1L245.9 195.7ZM251.1 194.7L254.2 196.1L252.1 198.5L249 197.1ZM254.2 196.1L257.3 197.5L255.2 199.9L252.1 198.5ZM257.3 197.5L260.4 198.9L258.3 201.3L255.2 199.9ZM260.4 198.9L263.5 200.3L261.4 202.7L258.3 201.3ZM263.5 200.3L266.6 201.7L264.5 204.1L261.4 202.7ZM266.6 201.7L269.7 203.1L267.6 205.5L264.5 204.1ZM269.7 203.1L272.8 204.6L270.7 206.9L267.6 205.5ZM272.8 204.6L275.9 206L273.8 208.3L270.7 206.9ZM275.9 206L279 207.4L276.9 209.7L273.8 208.3ZM279 207.4L282.1 208.8L280 211.1L276.9 209.7ZM282.1 208.8L285.2 210.2L283.1 212.5L280 211.1ZM285.2 210.2L288.3 211.6L286.2 213.9L283.1 212.5ZM224.2 185.8L227.3 187.2L225.2 189.6L222.1 188.2ZM227.3 187.2L230.4 188.6L228.3 191L225.2 189.6ZM230.4 188.6L233.5 190L231.4 192.4L228.3 191ZM233.5 190L236.6 191.4L234.5 193.8L231.4 192.4ZM236.6 191.4L239.7 192.8L237.6 195.2L234.5 193.8ZM239.7 192.8L242.8 194.3L240.7 196.6L237.6 195.2ZM242.8 194.3L245.9 195.7L243.8 198L240.7 196.6ZM245.9 195.7L249 197.1L246.9 199.4L243.8 198ZM249 197.1L252.1 198.5L250 200.8L246.9 199.4ZM252.1 198.5L255.2 199.9L253.1 202.2L250 200.8ZM255.2 199.9L258.3 201.3L256.2 203.6L253.1 202.2ZM258.3 201.3L261.4 202.7L259.3 205L256.2 203.6ZM261.4 202.7L264.5 204.1L262.4 206.4L259.3 205ZM264.5 204.1L267.6 205.5L265.5 207.8L262.4 206.4ZM267.6 205.5L270.7 206.9L268.5 209.2L265.5 207.8ZM270.7 206.9L273.8 208.3L271.6 210.6L268.5 209.2ZM273.8 208.3L276.9 209.7L274.7 212L271.6 210.6ZM276.9 209.7L280 211.1L277.8 213.4L274.7 212ZM280 211.1L283.1 212.5L280.9 214.8L277.8 213.4ZM283.1 212.5L286.2 213.9L284 216.2L280.9 214.8ZM222.1 188.2L225.2 189.6L223.1 191.9L220 190.5ZM225.2 189.6L228.3 191L226.2 193.3L223.1 191.9ZM228.3 191L231.4 192.4L229.3 194.7L226.2 193.3ZM231.4 192.4L234.5 193.8L232.3 196.1L229.3 194.7ZM234.5 193.8L237.6 195.2L235.4 197.5L232.3 196.1ZM237.6 195.2L240.7 196.6L238.5 198.9L235.4 197.5ZM240.7 196.6L243.8 198L241.6 200.3L238.5 198.9ZM243.8 198L246.9 199.4L244.7 201.7L241.6 200.3ZM246.9 199.4L250 200.8L247.8 203.1L244.7 201.7ZM250 200.8L253.1 202.2L250.9 204.5L247.8 203.1ZM253.1 202.2L256.2 203.6L254 205.9L250.9 204.5ZM256.2 203.6L259.3 205L257.1 207.3L254 205.9ZM259.3 205L262.4 206.4L260.2 208.7L257.1 207.3ZM262.4 206.4L265.5 207.8L263.3 210.1L260.2 208.7ZM265.5 207.8L268.5 209.2L266.4 211.5L263.3 210.1ZM268.5 209.2L271.6 210.6L269.5 212.9L266.4 211.5ZM271.6 210.6L274.7 212L272.6 214.3L269.5 212.9ZM274.7 212L277.8 213.4L275.7 215.7L272.6 214.3ZM277.8 213.4L280.9 214.8L278.8 217.1L275.7 215.7ZM280.9 214.8L284 216.2L281.9 218.5L278.8 217.1ZM220 190.5L223.1 191.9L220.9 194.3L217.8 192.9ZM223.1 191.9L226.2 193.3L224 195.7L220.9 194.3ZM226.2 193.3L229.3 194.7L227.1 197.1L224 195.7ZM229.3 194.7L232.3 196.1L230.2 198.5L227.1 197.1ZM232.3 196.1L235.4 197.5L233.3 199.9L230.2 198.5ZM235.4 197.5L238.5 198.9L236.4 201.3L233.3 199.9ZM238.5 198.9L241.6 200.3L239.5 202.7L236.4 201.3ZM241.6 200.3L244.7 201.7L242.6 204.1L239.5 202.7ZM244.7 201.7L247.8 203.1L245.7 205.5L242.6 204.1ZM247.8 203.1L250.9 204.5L248.8 206.9L245.7 205.5ZM250.9 204.5L254 205.9L251.9 208.3L248.8 206.9ZM254 205.9L257.1 207.3L255 209.7L251.9 208.3ZM257.1 207.3L260.2 208.7L258.1 211.1L255 209.7ZM260.2 208.7L263.3 210.1L261.2 212.5L258.1 211.1ZM263.3 210.1L266.4 211.5L264.3 213.9L261.2 212.5ZM266.4 211.5L269.5 212.9L267.4 215.3L264.3 213.9ZM269.5 212.9L272.6 214.3L270.5 216.7L267.4 215.3ZM272.6 214.3L275.7 215.7L273.6 218.1L270.5 216.7ZM275.7 215.7L278.8 217.1L276.7 219.5L273.6 218.1ZM278.8 217.1L281.9 218.5L279.8 220.9L276.7 219.5ZM217.8 192.9L220.9 194.3L218.8 196.6L215.7 195.2ZM220.9 194.3L224 195.7L221.9 198L218.8 196.6ZM224 195.7L227.1 197.1L225 199.4L221.9 198ZM227.1 197.1L230.2 198.5L228.1 200.8L225 199.4ZM230.2 198.5L233.3 199.9L231.2 202.2L228.1 200.8ZM233.3 199.9L236.4 201.3L234.3 203.6L231.2 202.2ZM236.4 201.3L239.5 202.7L237.4 205L234.3 203.6ZM239.5 202.7L242.6 204.1L240.5 206.4L237.4 205ZM242.6 204.1L245.7 205.5L243.6 207.8L240.5 206.4ZM245.7 205.5L248.8 206.9L246.7 209.2L243.6 207.8ZM248.8 206.9L251.9 208.3L249.8 210.6L246.7 209.2ZM251.9 208.3L255 209.7L252.9 212L249.8 210.6ZM255 209.7L258.1 211.1L256 213.4L252.9 212ZM258.1 211.1L261.2 212.5L259.1 214.8L256 213.4ZM261.2 212.5L264.3 213.9L262.2 216.2L259.1 214.8ZM264.3 213.9L267.4 215.3L265.3 217.6L262.2 216.2ZM267.4 215.3L270.5 216.7L268.4 219L265.3 217.6ZM270.5 216.7L273.6 218.1L271.5 220.4L268.4 219ZM273.6 218.1L276.7 219.5L274.6 221.8L271.5 220.4ZM276.7 219.5L279.8 220.9L277.7 223.2L274.6 221.8Z"/>
<path class="n" fill="#0386ff" d="M311.7 123.2L314.8 124.7L312.6 127L309.6 125.6ZM314.8 124.7L317.8 126.1L315.7 128.4L312.6 127ZM317.8 126.1L320.9 127.5L318.8 129.9L315.7 128.4ZM320.9 127.5L324 129L321.9 131.3L318.8 129.9ZM324 129L327 130.4L324.9 132.7L321.9 131.3ZM306.5 124.1L309.6 125.6L307.4 127.9L304.4 126.5ZM324.9 132.7L328 134.1L325.9 136.5L322.8 135ZM301.3 125.1L304.4 126.5L302.2 128.8L299.2 127.4ZM304.4 126.5L307.4 127.9L305.3 130.2L302.2 128.8ZM325.9 136.5L329 137.9L326.8 140.2L323.8 138.8ZM299.2 127.4L302.2 128.8L300.1 131.2L297 129.7ZM326.8 140.2L329.9 141.7L327.8 144L324.7 142.6ZM297 129.7L300.1 131.2L298 133.5L294.9 132.1ZM324.7 142.6L327.8 144L325.7 146.3L322.6 144.9ZM294.9 132.1L298 133.5L295.9 135.8L292.8 134.4ZM325.7 146.3L328.8 147.7L326.7 150.1L323.6 148.6ZM295.9 135.8L298.9 137.3L296.8 139.6L293.7 138.2ZM323.6 148.6L326.7 150.1L324.5 152.4L321.5 151ZM293.7 138.2L296.8 139.6L294.7 141.9L291.6 140.5ZM321.5 151L324.5 152.4L322.4 154.7L319.3 153.3ZM294.7 141.9L297.8 143.3L295.7 145.7L292.6 144.3ZM316.3 151.9L319.3 153.3L317.2 155.6L314.1 154.2ZM319.3 153.3L322.4 154.7L320.3 157.1L317.2 155.6ZM295.7 145.7L298.7 147.1L296.6 149.4L293.5 148ZM298.7 147.1L301.8 148.5L299.7 150.9L296.6 149.4ZM314.1 154.2L317.2 155.6L315.1 158L312 156.5ZM299.7 150.9L302.8 152.3L300.7 154.6L297.6 153.2ZM302.8 152.3L305.9 153.7L303.7 156L300.7 154.6ZM305.9 153.7L308.9 155.1L306.8 157.5L303.7 156ZM308.9 155.1L312 156.5L309.9 158.9L306.8 157.5Z"/>
<path class="n" fill="#018fff" d="M309.6 125.6L312.6 127L310.5 129.3L307.4 127.9ZM312.6 127L315.7 128.4L313.6 130.8L310.5 129.3ZM315.7 128.4L318.8 129.9L316.7 132.2L313.6 130.8ZM318.8 129.9L321.9 131.3L319.7 133.6L316.7 132.2ZM321.9 131.3L324.9 132.7L322.8 135L319.7 133.6ZM322.8 135L325.9 136.5L323.8 138.8L320.7 137.4ZM302.2 128.8L305.3 130.2L303.2 132.6L300.1 131.2ZM323.8 138.8L326.8 140.2L324.7 142.6L321.7 141.1ZM300.1 131.2L303.2 132.6L301.1 134.9L298 133.5ZM298 133.5L301.1 134.9L298.9 137.3L295.9 135.8ZM322.6 144.9L325.7 146.3L323.6 148.6L320.5 147.2ZM320.5 147.2L323.6 148.6L321.5 151L318.4 149.5ZM296.8 139.6L299.9 141L297.8 143.3L294.7 141.9ZM318.4 149.5L321.5 151L319.3 153.3L316.3 151.9ZM297.8 143.3L300.9 144.8L298.7 147.1L295.7 145.7ZM301.8 148.5L304.9 149.9L302.8 152.3L299.7 150.9ZM304.9 149.9L308 151.4L305.9 153.7L302.8 152.3ZM308 151.4L311.1 152.8L308.9 155.1L305.9 153.7ZM311.1 152.8L314.1 154.2L312 156.5L308.9 155.1Z"/>
<path class="n" fill="#009cff" d="M307.4 127.9L310.5 129.3L308.4 131.7L305.3 130.2ZM319.7 133.6L322.8 135L320.7 137.4L317.6 135.9ZM321.7 141.1L324.7 142.6L322.6 144.9L319.5 143.5ZM298.9 137.3L302 138.7L299.9 141L296.8 139.6ZM299.9 141L303 142.4L300.9 144.8L297.8 143.3ZM300.9 144.8L303.9 146.2L301.8 148.5L298.7 147.1ZM313.2 150.5L316.3 151.9L314.1 154.2L311.1 152.8Z"/>
<path class="n" fill="#00afff" d="M310.5 129.3L313.6 130.8L311.5 133.1L308.4 131.7ZM316.7 132.2L319.7 133.6L317.6 135.9L314.5 134.5ZM305.3 130.2L308.4 131.7L306.3 134L303.2 132.6ZM320.7 137.4L323.8 138.8L321.7 141.1L318.6 139.7ZM303.2 132.6L306.3 134L304.1 136.3L301.1 134.9ZM301.1 134.9L304.1 136.3L302 138.7L298.9 137.3ZM319.5 143.5L322.6 144.9L320.5 147.2L317.4 145.8ZM317.4 145.8L320.5 147.2L318.4 149.5L315.3 148.1ZM315.3 148.1L318.4 149.5L316.3 151.9L313.2 150.5ZM303.9 146.2L307 147.6L304.9 149.9L301.8 148.5ZM307 147.6L310.1 149L308 151.4L304.9 149.9ZM310.1 149L313.2 150.5L311.1 152.8L308 151.4Z"/>
<path class="n" fill="#00c2ff" d="M313.6 130.8L316.7 132.2L314.5 134.5L311.5 133.1ZM318.6 139.7L321.7 141.1L319.5 143.5L316.5 142ZM302 138.7L305.1 140.1L303 142.4L299.9 141ZM303 142.4L306.1 143.9L303.9 146.2L300.9 144.8Z"/>
<path class="n" fill="#00d5ff" d="M308.4 131.7L311.5 133.1L309.3 135.4L306.3 134ZM317.6 135.9L320.7 137.4L318.6 139.7L315.5 138.3ZM304.1 136.3L307.2 137.8L305.1 140.1L302 138.7ZM312.2 146.7L315.3 148.1L313.2 150.5L310.1 149Z"/>
<path class="n" fill="#00e5ff" d="M311.5 133.1L314.5 134.5L312.4 136.9L309.3 135.4ZM314.5 134.5L317.6 135.9L315.5 138.3L312.4 136.9ZM306.3 134L309.3 135.4L307.2 137.8L304.1 136.3ZM316.5 142L319.5 143.5L317.4 145.8L314.3 144.4ZM314.3 144.4L317.4 145.8L315.3 148.1L312.2 146.7ZM306.1 143.9L309.1 145.3L307 147.6L303.9 146.2ZM309.1 145.3L312.2 146.7L310.1 149L307 147.6Z"/>
<path class="n" fill="#00fff0" d="M309.3 135.4L312.4 136.9L310.3 139.2L307.2 137.8ZM307.2 137.8L310.3 139.2L308.2 141.5L305.1 140.1ZM313.4 140.6L316.5 142L314.3 144.4L311.3 142.9ZM308.2 141.5L311.3 142.9L309.1 145.3L306.1 143.9ZM311.3 142.9L314.3 144.4L312.2 146.7L309.1 145.3Z"/>
<path class="n" fill="#03ffd0" d="M312.4 136.9L315.5 138.3L313.4 140.6L310.3 139.2ZM310.3 139.2L313.4 140.6L311.3 142.9L308.2 141.5Z"/>
<path class="n" fill="#00f6ff" d="M315.5 138.3L318.6 139.7L316.5 142L313.4 140.6ZM305.1 140.1L308.2 141.5L306.1 143.9L303 142.4Z"/>
<circle class="q" cx="321.4" cy="129.6" r="1.4"/>
<circle class="q" cx="325.1" cy="117.8" r="1.6"/>
<circle class="q" cx="321.6" cy="121.9" r="2"/>
<circle class="q" cx="315.8" cy="123.1" r="1.3"/>
<circle class="q" cx="325.7" cy="121.3" r="2"/>
<circle class="q" cx="317" cy="119.5" r="2"/>
<circle class="q" cx="324.5" cy="129" r="2"/>
<circle class="q" cx="324.7" cy="118.6" r="1.2"/>
<circle class="q" cx="320.3" cy="119.4" r="2"/>
<circle class="q" cx="322.2" cy="121" r="2"/>
<circle class="q" cx="329.3" cy="124" r="1.5"/>
<circle class="q" cx="313.2" cy="113.3" r="1.5"/>
<circle class="q" cx="318.9" cy="107.2" r="1.5"/>
<circle class="q" cx="320.2" cy="113.1" r="1.3"/>
<circle class="q" cx="322.4" cy="119.5" r="1.3"/>
<circle class="q" cx="317.8" cy="121.7" r="1.8"/>
<circle class="q" cx="303.7" cy="97" r="2.2"/>
<circle class="q" cx="314.2" cy="107.8" r="1.6"/>
<circle class="q" cx="323.3" cy="107.8" r="1.5"/>
<circle class="q" cx="318.6" cy="111" r="2"/>
<circle class="q" cx="321.8" cy="110.4" r="1.5"/>
<circle class="q" cx="330.1" cy="111" r="1.4"/>
<circle class="q" cx="328.2" cy="115.5" r="1.5"/>
<circle class="q" cx="317.7" cy="117.4" r="2.6"/>
<circle class="q" cx="323.7" cy="118.6" r="1.5"/>
<circle class="q" cx="328.2" cy="119.9" r="1.5"/>
<circle class="q" cx="315.5" cy="121.8" r="2"/>
<circle class="q" cx="310.4" cy="124.4" r="2.6"/>
<circle class="q" cx="305.9" cy="126.9" r="1.9"/>
<circle class="q" cx="318" cy="124.4" r="1.6"/>
<circle class="q" cx="321.2" cy="126.3" r="1.5"/>
<circle class="q" cx="318.6" cy="130.1" r="2.3"/>
<circle class="q" cx="324.4" cy="130.7" r="2.3"/>
<circle class="q" cx="328.2" cy="129.5" r="1.4"/>
<circle class="q" cx="331.4" cy="133.9" r="1.6"/>
<circle class="q" cx="312.9" cy="133.9" r="1.5"/>
<circle class="q" cx="316.7" cy="135.2" r="1.7"/>
<circle class="q" cx="302.7" cy="135.8" r="1.4"/>
<circle class="q" cx="298.3" cy="136.8" r="1.7"/>
<circle class="q" cx="317.4" cy="139" r="1.6"/>
<circle class="q" cx="324.4" cy="139.6" r="1.5"/>
<circle class="q" cx="321.2" cy="141.5" r="1.8"/>
<circle class="q" cx="325.9" cy="142.2" r="1.8"/>
<circle class="q" cx="310.4" cy="140.3" r="1.3"/>
<circle class="q" cx="302.7" cy="146" r="1.8"/>
<circle class="q" cx="299.5" cy="148.5" r="1.5"/>
<circle class="q" cx="309.1" cy="148.8" r="1.4"/>
<circle class="q" cx="307.2" cy="157.5" r="1.8"/>
<circle class="q" cx="300.2" cy="88.3" r="2"/>
<circle class="q" cx="326.2" cy="123.6" r="1.4"/>
<circle class="q" cx="329.3" cy="126.1" r="1.5"/>
<circle class="q" cx="314" cy="131.3" r="1.4"/>
<circle class="q" cx="310.9" cy="130.7" r="1.3"/>
<circle class="q" cx="338.3" cy="164.6" r="1.9"/>
<circle class="q" cx="336.4" cy="162.6" r="1.5"/>
<circle class="q" cx="333.4" cy="166.6" r="1.7"/>
<circle class="q" cx="329.9" cy="169.7" r="1.7"/>
<circle class="q" cx="325" cy="175.9" r="1.7"/>
<circle class="q" cx="330.9" cy="175" r="1.5"/>
<circle class="q" cx="332.1" cy="179.4" r="2.1"/>
<circle class="q" cx="343.2" cy="153.5" r="1.2"/>
<path class="ax" d="M44.4 107.8L44.4 213.4L354.8 242.1L437.9 140.7M44.4 107.8L36.9 107.8M44.4 160.6L36.9 160.6M44.4 213.4L36.9 213.4M44.4 213.4L39.6 219.3M122 220.6L117.2 226.4M199.6 227.7L194.8 233.6M277.2 234.9L272.4 240.8M354.8 242.1L350 248M354.8 242.1L362 242.2M382.5 208.3L389.7 208.4M410.2 174.5L417.4 174.6M437.9 140.7L445.1 140.8"/>
<text x="35.1" y="112.3" text-anchor="end">0</text>
<text x="35.1" y="165.1" text-anchor="end">−10</text>
<text x="35.1" y="217.9" text-anchor="end">−20</text>
<text x="37.4" y="235.4" text-anchor="middle">101.0°E</text>
<text x="115" y="242.6" text-anchor="middle">101.2°E</text>
<text x="192.6" y="249.7" text-anchor="middle">101.4°E</text>
<text x="270.2" y="256.9" text-anchor="middle">101.6°E</text>
<text x="347.8" y="264.1" text-anchor="middle">101.8°E</text>
<text x="366" y="247">37.4°N</text>
<text x="393.7" y="213.2">37.6°N</text>
<text x="421.4" y="179.4">37.8°N</text>
<text x="449.1" y="145.6">38.0°N</text>
<text transform="translate(13.2 160.3) rotate(-90)" text-anchor="middle">Depth (km)</text>
<path class="g" d="M44.4 463.4L127.5 362M44.4 410.6L127.5 309.2M44.4 357.8L127.5 256.4M127.5 362L437.9 390.7M127.5 309.2L437.9 337.9M127.5 256.4L437.9 285.1M72.1 429.6L382.5 458.3M99.8 395.8L410.2 424.5M122 470.6L205.1 369.2M199.6 477.7L282.7 376.3M277.2 484.9L360.3 383.5"/>
<path class="gv" d="M72.1 429.6L72.1 324M99.8 395.8L99.8 290.2M127.5 362L127.5 256.4M205.1 369.2L205.1 263.6M282.7 376.3L282.7 270.7M360.3 383.5L360.3 277.9M437.9 390.7L437.9 285.1"/>
<path class="m" fill="#057cff" d="M115.1 295.1L119.2 295.4L119.2 299.5L115.1 299.2ZM119.2 295.4L123.4 295.8L123.4 299.8L119.2 299.5ZM123.4 295.8L127.5 296.1L127.5 300.1L123.4 299.8ZM127.5 296.1L131.7 296.4L131.7 300.5L127.5 300.1ZM115.1 299.2L119.2 299.5L119.2 303.6L115.1 303.3ZM119.2 299.5L123.4 299.8L123.4 303.9L119.2 303.6ZM123.4 299.8L127.5 300.1L127.5 304.2L123.4 303.9ZM127.5 300.1L131.7 300.5L131.7 304.5L127.5 304.2ZM115.1 303.3L119.2 303.6L119.2 307.7L115 307.4ZM119.2 303.6L123.4 303.9L123.3 308L119.2 307.7ZM123.4 303.9L127.5 304.2L127.5 308.3L123.3 308ZM127.5 304.2L131.7 304.5L131.7 308.6L127.5 308.3ZM115 307.4L119.2 307.7L119.2 311.7L115 311.4ZM119.2 307.7L123.3 308L123.3 312.1L119.2 311.7ZM123.3 308L127.5 308.3L127.5 312.4L123.3 312.1ZM127.5 308.3L131.7 308.6L131.7 312.7L127.5 312.4ZM115 311.4L119.2 311.7L119.1 315.8L115 315.5ZM119.2 311.7L123.3 312.1L123.3 316.1L119.1 315.8ZM123.3 312.1L127.5 312.4L127.5 316.4L123.3 316.1ZM115 315.5L119.1 315.8L119.1 319.9L115 319.6ZM119.1 315.8L123.3 316.1L123.3 320.2L119.1 319.9ZM123.3 316.1L127.5 316.4L127.5 320.5L123.3 320.2ZM115 319.6L119.1 319.9L119.1 324L114.9 323.7ZM119.1 319.9L123.3 320.2L123.3 324.3L119.1 324ZM123.3 320.2L127.5 320.5L127.4 324.6L123.3 324.3ZM114.9 323.7L119.1 324L119.1 328.1L114.9 327.8ZM119.1 324L123.3 324.3L123.3 328.4L119.1 328.1ZM123.3 324.3L127.4 324.6L127.4 328.6L123.3 328.4ZM114.9 327.8L119.1 328.1L119.1 332.1L114.9 331.9ZM119.1 328.1L123.3 328.4L123.2 332.4L119.1 332.1ZM123.3 328.4L127.4 328.6L127.4 332.7L123.2 332.4ZM114.9 331.9L119.1 332.1L119 336.2L114.9 335.9ZM119.1 332.1L123.2 332.4L123.2 336.5L119 336.2ZM123.2 332.4L127.4 332.7L127.4 336.8L123.2 336.5ZM114.9 335.9L119 336.2L119 340.3L114.8 340ZM119 336.2L123.2 336.5L123.2 340.6L119 340.3ZM123.2 336.5L127.4 336.8L127.4 340.9L123.2 340.6ZM114.8 340L119 340.3L119 344.4L114.8 344.1ZM119 340.3L123.2 340.6L123.2 344.6L119 344.4ZM114.8 344.1L119 344.4L119 348.5L114.8 348.2ZM119 344.4L123.2 344.6L123.2 348.7L119 348.5ZM114.8 348.2L119 348.5L119 352.5L114.8 352.3ZM119 348.5L123.2 348.7L123.1 352.8L119 352.5ZM114.8 352.3L119 352.5L118.9 356.6L114.7 356.4ZM119 352.5L123.1 352.8L123.1 356.9L118.9 356.6ZM114.7 356.4L118.9 356.6L118.9 360.7L114.7 360.4ZM118.9 356.6L123.1 356.9L123.1 360.9L118.9 360.7ZM114.7 360.4L118.9 360.7L118.9 364.8L114.7 364.5ZM118.9 360.7L123.1 360.9L123.1 365L118.9 364.8ZM123.1 360.9L127.3 361.2L127.3 365.3L123.1 365ZM114.7 364.5L118.9 364.8L118.9 368.9L114.7 368.6ZM118.9 364.8L123.1 365L123.1 369.1L118.9 368.9ZM123.1 365L127.3 365.3L127.3 369.3L123.1 369.1ZM114.7 368.6L118.9 368.9L118.9 372.9L114.6 372.7ZM118.9 368.9L123.1 369.1L123.1 373.2L118.9 372.9ZM123.1 369.1L127.3 369.3L127.3 373.4L123.1 373.2ZM114.6 372.7L118.9 372.9L118.8 377L114.6 376.8ZM118.9 372.9L123.1 373.2L123 377.2L118.8 377ZM123.1 373.2L127.3 373.4L127.2 377.5L123 377.2ZM127.3 373.4L131.5 373.7L131.5 377.7L127.2 377.5ZM114.6 376.8L118.8 377L118.8 381.1L114.6 380.9ZM118.8 377L123 377.2L123 381.3L118.8 381.1ZM123 377.2L127.2 377.5L127.2 381.6L123 381.3ZM127.2 377.5L131.5 377.7L131.4 381.8L127.2 381.6ZM114.6 380.9L118.8 381.1L118.8 385.2L114.6 384.9ZM118.8 381.1L123 381.3L123 385.4L118.8 385.2ZM123 381.3L127.2 381.6L127.2 385.6L123 385.4ZM127.2 381.6L131.4 381.8L131.4 385.9L127.2 385.6ZM114.6 384.9L118.8 385.2L118.8 389.3L114.5 389ZM118.8 385.2L123 385.4L123 389.5L118.8 389.3ZM123 385.4L127.2 385.6L127.2 389.7L123 389.5ZM127.2 385.6L131.4 385.9L131.4 389.9L127.2 389.7ZM131.4 385.9L135.7 386.1L135.6 390.1L131.4 389.9ZM114.5 389L118.8 389.3L118.7 393.3L114.5 393.1ZM118.8 389.3L123 389.5L123 393.5L118.7 393.3ZM123 389.5L127.2 389.7L127.2 393.8L123 393.5ZM127.2 389.7L131.4 389.9L131.4 394L127.2 393.8ZM131.4 389.9L135.6 390.1L135.6 394.2L131.4 394ZM114.5 393.1L118.7 393.3L118.7 397.4L114.5 397.2ZM118.7 393.3L123 393.5L123 397.6L118.7 397.4ZM123 393.5L127.2 393.8L127.2 397.8L123 397.6ZM127.2 393.8L131.4 394L131.4 398L127.2 397.8ZM131.4 394L135.6 394.2L135.6 398.3L131.4 398ZM135.6 394.2L139.9 394.4L139.8 398.5L135.6 398.3ZM139.9 394.4L144.1 394.6L144.1 398.7L139.8 398.5ZM144.1 394.6L148.3 394.9L148.3 398.9L144.1 398.7Z"/>
<path class="m" fill="#0388ff" d="M131.7 296.4L135.8 296.7L135.8 300.8L131.7 300.5ZM135.8 296.7L140 297.1L140 301.1L135.8 300.8ZM140 297.1L144.2 297.4L144.1 301.4L140 301.1ZM144.2 297.4L148.3 297.7L148.3 301.7L144.1 301.4ZM131.7 300.5L135.8 300.8L135.8 304.8L131.7 304.5ZM135.8 300.8L140 301.1L140 305.2L135.8 304.8ZM131.7 304.5L135.8 304.8L135.8 308.9L131.7 308.6ZM131.7 308.6L135.8 308.9L135.8 313L131.7 312.7ZM127.5 312.4L131.7 312.7L131.6 316.7L127.5 316.4ZM131.7 312.7L135.8 313L135.8 317L131.6 316.7ZM127.5 316.4L131.6 316.7L131.6 320.8L127.5 320.5ZM131.6 316.7L135.8 317L135.8 321.1L131.6 320.8ZM127.5 320.5L131.6 320.8L131.6 324.9L127.4 324.6ZM127.4 324.6L131.6 324.9L131.6 328.9L127.4 328.6ZM127.4 328.6L131.6 328.9L131.6 333L127.4 332.7ZM127.4 332.7L131.6 333L131.6 337.1L127.4 336.8ZM127.4 336.8L131.6 337.1L131.6 341.1L127.4 340.9ZM123.2 340.6L127.4 340.9L127.4 344.9L123.2 344.6ZM127.4 340.9L131.6 341.1L131.6 345.2L127.4 344.9ZM123.2 344.6L127.4 344.9L127.4 349L123.2 348.7ZM127.4 344.9L131.6 345.2L131.5 349.3L127.4 349ZM123.2 348.7L127.4 349L127.3 353.1L123.1 352.8ZM127.4 349L131.5 349.3L131.5 353.3L127.3 353.1ZM123.1 352.8L127.3 353.1L127.3 357.1L123.1 356.9ZM127.3 353.1L131.5 353.3L131.5 357.4L127.3 357.1ZM123.1 356.9L127.3 357.1L127.3 361.2L123.1 360.9ZM127.3 357.1L131.5 357.4L131.5 361.5L127.3 361.2ZM127.3 361.2L131.5 361.5L131.5 365.5L127.3 365.3ZM127.3 365.3L131.5 365.5L131.5 369.6L127.3 369.3ZM131.5 365.5L135.7 365.8L135.7 369.8L131.5 369.6ZM127.3 369.3L131.5 369.6L131.5 373.7L127.3 373.4ZM131.5 369.6L135.7 369.8L135.7 373.9L131.5 373.7ZM131.5 373.7L135.7 373.9L135.7 378L131.5 377.7ZM131.5 377.7L135.7 378L135.7 382L131.4 381.8ZM135.7 378L139.9 378.2L139.9 382.2L135.7 382ZM131.4 381.8L135.7 382L135.7 386.1L131.4 385.9ZM135.7 382L139.9 382.2L139.9 386.3L135.7 386.1ZM139.9 382.2L144.1 382.5L144.1 386.5L139.9 386.3ZM144.1 382.5L148.3 382.7L148.3 386.8L144.1 386.5ZM135.7 386.1L139.9 386.3L139.9 390.4L135.6 390.1ZM139.9 386.3L144.1 386.5L144.1 390.6L139.9 390.4ZM144.1 386.5L148.3 386.8L148.3 390.8L144.1 390.6ZM135.6 390.1L139.9 390.4L139.9 394.4L135.6 394.2ZM139.9 390.4L144.1 390.6L144.1 394.6L139.9 394.4ZM144.1 390.6L148.3 390.8L148.3 394.9L144.1 394.6Z"/>
<path class="m" fill="#0193ff" d="M140 301.1L144.1 301.4L144.1 305.5L140 305.2ZM144.1 301.4L148.3 301.7L148.3 305.8L144.1 305.5ZM135.8 304.8L140 305.2L140 309.2L135.8 308.9ZM140 305.2L144.1 305.5L144.1 309.5L140 309.2ZM135.8 308.9L140 309.2L140 313.3L135.8 313ZM135.8 313L140 313.3L140 317.3L135.8 317ZM135.8 317L140 317.3L140 321.4L135.8 321.1ZM131.6 320.8L135.8 321.1L135.8 325.2L131.6 324.9ZM131.6 324.9L135.8 325.2L135.8 329.2L131.6 328.9ZM131.6 328.9L135.8 329.2L135.8 333.3L131.6 333ZM131.6 333L135.8 333.3L135.8 337.3L131.6 337.1ZM131.6 337.1L135.8 337.3L135.8 341.4L131.6 341.1ZM131.6 341.1L135.8 341.4L135.7 345.5L131.6 345.2ZM131.6 345.2L135.7 345.5L135.7 349.5L131.5 349.3ZM131.5 349.3L135.7 349.5L135.7 353.6L131.5 353.3ZM131.5 353.3L135.7 353.6L135.7 357.6L131.5 357.4ZM131.5 357.4L135.7 357.6L135.7 361.7L131.5 361.5ZM131.5 361.5L135.7 361.7L135.7 365.8L131.5 365.5ZM135.7 365.8L139.9 366L139.9 370.1L135.7 369.8ZM135.7 369.8L139.9 370.1L139.9 374.1L135.7 373.9ZM139.9 370.1L144.1 370.3L144.1 374.4L139.9 374.1ZM135.7 373.9L139.9 374.1L139.9 378.2L135.7 378ZM139.9 374.1L144.1 374.4L144.1 378.4L139.9 378.2ZM144.1 374.4L148.3 374.6L148.3 378.7L144.1 378.4ZM139.9 378.2L144.1 378.4L144.1 382.5L139.9 382.2ZM144.1 378.4L148.3 378.7L148.3 382.7L144.1 382.5Z"/>
<path class="m" fill="#00a7ff" d="M144.1 305.5L148.3 305.8L148.3 309.8L144.1 309.5ZM140 309.2L144.1 309.5L144.1 313.6L140 313.3ZM140 313.3L144.1 313.6L144.1 317.6L140 317.3ZM140 317.3L144.1 317.6L144.1 321.7L140 321.4ZM135.8 321.1L140 321.4L140 325.4L135.8 325.2ZM140 321.4L144.1 321.7L144.1 325.7L140 325.4ZM135.8 325.2L140 325.4L140 329.5L135.8 329.2ZM135.8 329.2L140 329.5L139.9 333.6L135.8 333.3ZM135.8 333.3L139.9 333.6L139.9 337.6L135.8 337.3ZM135.8 337.3L139.9 337.6L139.9 341.7L135.8 341.4ZM135.8 341.4L139.9 341.7L139.9 345.7L135.7 345.5ZM135.7 345.5L139.9 345.7L139.9 349.8L135.7 349.5ZM135.7 349.5L139.9 349.8L139.9 353.8L135.7 353.6ZM135.7 353.6L139.9 353.8L139.9 357.9L135.7 357.6ZM135.7 357.6L139.9 357.9L139.9 362L135.7 361.7ZM135.7 361.7L139.9 362L139.9 366L135.7 365.8ZM139.9 362L144.1 362.2L144.1 366.3L139.9 366ZM139.9 366L144.1 366.3L144.1 370.3L139.9 370.1ZM144.1 366.3L148.3 366.5L148.3 370.6L144.1 370.3ZM144.1 370.3L148.3 370.6L148.3 374.6L144.1 374.4Z"/>
<path class="m" fill="#00beff" d="M144.1 309.5L148.3 309.8L148.3 313.9L144.1 313.6ZM144.1 313.6L148.3 313.9L148.3 317.9L144.1 317.6ZM144.1 317.6L148.3 317.9L148.3 322L144.1 321.7ZM144.1 321.7L148.3 322L148.3 326L144.1 325.7ZM140 325.4L144.1 325.7L144.1 329.8L140 329.5ZM144.1 325.7L148.3 326L148.3 330.1L144.1 329.8ZM140 329.5L144.1 329.8L144.1 333.8L139.9 333.6ZM144.1 329.8L148.3 330.1L148.3 334.1L144.1 333.8ZM139.9 333.6L144.1 333.8L144.1 337.9L139.9 337.6ZM144.1 333.8L148.3 334.1L148.3 338.2L144.1 337.9ZM139.9 337.6L144.1 337.9L144.1 342L139.9 341.7ZM144.1 337.9L148.3 338.2L148.3 342.2L144.1 342ZM139.9 341.7L144.1 342L144.1 346L139.9 345.7ZM139.9 345.7L144.1 346L144.1 350.1L139.9 349.8ZM139.9 349.8L144.1 350.1L144.1 354.1L139.9 353.8ZM139.9 353.8L144.1 354.1L144.1 358.2L139.9 357.9ZM139.9 357.9L144.1 358.2L144.1 362.2L139.9 362ZM144.1 358.2L148.3 358.4L148.3 362.5L144.1 362.2ZM144.1 362.2L148.3 362.5L148.3 366.5L144.1 366.3Z"/>
<path class="m" fill="#00d4ff" d="M144.1 342L148.3 342.2L148.3 346.3L144.1 346ZM144.1 346L148.3 346.3L148.3 350.3L144.1 350.1ZM144.1 350.1L148.3 350.3L148.3 354.4L144.1 354.1ZM144.1 354.1L148.3 354.4L148.3 358.4L144.1 358.2Z"/>
<path class="m" fill="#0193ff" d="M145.6 292.7L149.8 293.5L149.8 297.8L145.6 296.9ZM149.8 293.5L154 294.4L154 298.6L149.8 297.8ZM145.6 296.9L149.8 297.8L149.8 302L145.6 301.2ZM145.6 373.3L149.8 374L149.8 378.2L145.6 377.6ZM149.8 374L154 374.6L154 378.8L149.8 378.2ZM149.8 378.2L154 378.8L154 383L149.8 382.4ZM154 378.8L158.2 379.4L158.2 383.6L154 383ZM154 383L158.2 383.6L158.2 387.8L154 387.2ZM158.2 383.6L162.4 384.2L162.4 388.4L158.2 387.8ZM162.4 384.2L166.6 384.8L166.6 389L162.4 388.4ZM166.6 384.8L170.8 385.4L170.8 389.6L166.6 389Z"/>
<path class="m" fill="#00beff" d="M154 294.4L158.2 295.2L158.2 299.4L154 298.6ZM162.4 296.1L166.6 296.9L166.6 301.1L162.4 300.3ZM149.8 297.8L154 298.6L154 302.8L149.8 302ZM145.6 305.4L149.8 306.2L149.8 310.5L145.6 309.7ZM145.6 322.4L149.8 323.2L149.8 327.4L145.6 326.7ZM145.6 326.7L149.8 327.4L149.8 331.6L145.6 330.9ZM145.6 330.9L149.8 331.6L149.8 335.9L145.6 335.1ZM145.6 356.4L149.8 357L149.8 361.3L145.6 360.6ZM145.6 360.6L149.8 361.3L149.8 365.5L145.6 364.8ZM149.8 365.5L154 366.1L154 370.4L149.8 369.7ZM158.2 375.2L162.4 375.8L162.4 380L158.2 379.4ZM162.4 375.8L166.6 376.5L166.6 380.6L162.4 380ZM166.6 376.5L170.8 377.1L170.8 381.3L166.6 380.6Z"/>
<path class="m" fill="#00d4ff" d="M158.2 295.2L162.4 296.1L162.4 300.3L158.2 299.4ZM166.6 301.1L170.8 301.9L170.8 306.1L166.6 305.3ZM145.6 309.7L149.8 310.5L149.8 314.7L145.6 313.9ZM145.6 313.9L149.8 314.7L149.8 318.9L145.6 318.2ZM145.6 318.2L149.8 318.9L149.8 323.2L145.6 322.4ZM145.6 335.1L149.8 335.9L149.8 340.1L145.6 339.4ZM145.6 339.4L149.8 340.1L149.8 344.3L145.6 343.6ZM145.6 343.6L149.8 344.3L149.8 348.6L145.6 347.9ZM145.6 347.9L149.8 348.6L149.8 352.8L145.6 352.1ZM145.6 352.1L149.8 352.8L149.8 357L145.6 356.4ZM149.8 361.3L154 361.9L154 366.1L149.8 365.5ZM154 370.4L158.2 371L158.2 375.2L154 374.6ZM166.6 372.3L170.8 372.9L170.8 377.1L166.6 376.5Z"/>
<path class="m" fill="#00a7ff" d="M166.6 296.9L170.8 297.7L170.8 301.9L166.6 301.1ZM145.6 301.2L149.8 302L149.8 306.2L145.6 305.4ZM145.6 364.8L149.8 365.5L149.8 369.7L145.6 369.1ZM145.6 369.1L149.8 369.7L149.8 374L145.6 373.3ZM149.8 369.7L154 370.4L154 374.6L149.8 374ZM154 374.6L158.2 375.2L158.2 379.4L154 378.8ZM158.2 379.4L162.4 380L162.4 384.2L158.2 383.6ZM162.4 380L166.6 380.6L166.6 384.8L162.4 384.2ZM166.6 380.6L170.8 381.3L170.8 385.4L166.6 384.8Z"/>
<path class="m" fill="#00fcff" d="M154 298.6L158.2 299.4L158.2 303.6L154 302.8ZM149.8 323.2L154 323.9L154 328.2L149.8 327.4ZM149.8 340.1L154 340.8L154 345L149.8 344.3ZM149.8 344.3L154 345L154 349.3L149.8 348.6ZM149.8 348.6L154 349.3L154 353.5L149.8 352.8ZM149.8 352.8L154 353.5L154 357.7L149.8 357ZM154 361.9L158.2 362.6L158.2 366.8L154 366.1ZM158.2 366.8L162.4 367.4L162.4 371.6L158.2 371ZM166.6 368.1L170.8 368.7L170.8 372.9L166.6 372.3Z"/>
<path class="m" fill="#1dffc1" d="M158.2 299.4L162.4 300.3L162.4 304.5L158.2 303.6ZM166.6 305.3L170.8 306.1L170.8 310.3L166.6 309.5ZM149.8 310.5L154 311.3L154 315.5L149.8 314.7ZM149.8 314.7L154 315.5L154 319.7L149.8 318.9ZM154 353.5L158.2 354.2L158.2 358.4L154 357.7ZM158.2 362.6L162.4 363.2L162.4 367.4L158.2 366.8ZM162.4 363.2L166.6 363.9L166.6 368.1L162.4 367.4ZM166.6 363.9L170.8 364.6L170.8 368.7L166.6 368.1Z"/>
<path class="m" fill="#00ffdc" d="M162.4 300.3L166.6 301.1L166.6 305.3L162.4 304.5ZM149.8 306.2L154 307L154 311.3L149.8 310.5ZM149.8 318.9L154 319.7L154 323.9L149.8 323.2ZM154 357.7L158.2 358.4L158.2 362.6L154 361.9ZM162.4 367.4L166.6 368.1L166.6 372.3L162.4 371.6Z"/>
<path class="m" fill="#00e8ff" d="M149.8 302L154 302.8L154 307L149.8 306.2ZM149.8 327.4L154 328.2L154 332.4L149.8 331.6ZM149.8 331.6L154 332.4L154 336.6L149.8 335.9ZM149.8 335.9L154 336.6L154 340.8L149.8 340.1ZM149.8 357L154 357.7L154 361.9L149.8 361.3ZM154 366.1L158.2 366.8L158.2 371L154 370.4ZM158.2 371L162.4 371.6L162.4 375.8L158.2 375.2ZM162.4 371.6L166.6 372.3L166.6 376.5L162.4 375.8Z"/>
<path class="m" fill="#68ff92" d="M154 302.8L158.2 303.6L158.2 307.8L154 307ZM154 323.9L158.2 324.7L158.2 328.9L154 328.2ZM166.6 355.5L170.8 356.2L170.8 360.4L166.6 359.7ZM162.4 359L166.6 359.7L166.6 363.9L162.4 363.2Z"/>
<path class="m" fill="#d7ff23" d="M158.2 303.6L162.4 304.5L162.4 308.7L158.2 307.8ZM154 315.5L158.2 316.3L158.2 320.5L154 319.7ZM158.2 324.7L162.4 325.5L162.4 329.6L158.2 328.9ZM162.4 329.6L166.6 330.4L166.6 334.6L162.4 333.8ZM162.4 333.8L166.6 334.6L166.6 338.8L162.4 338ZM162.4 338L166.6 338.8L166.6 343L162.4 342.2ZM162.4 342.2L166.6 343L166.6 347.1L162.4 346.4ZM162.4 346.4L166.6 347.1L166.6 351.3L162.4 350.6Z"/>
<path class="m" fill="#bcff3e" d="M162.4 304.5L166.6 305.3L166.6 309.5L162.4 308.7ZM154 307L158.2 307.8L158.2 312.1L154 311.3ZM166.6 313.6L170.8 314.4L170.8 318.6L166.6 317.8ZM166.6 317.8L170.8 318.6L170.8 322.8L166.6 322ZM158.2 328.9L162.4 329.6L162.4 333.8L158.2 333.1ZM158.2 333.1L162.4 333.8L162.4 338L158.2 337.3ZM158.2 337.3L162.4 338L162.4 342.2L158.2 341.5ZM158.2 341.5L162.4 342.2L162.4 346.4L158.2 345.7ZM158.2 345.7L162.4 346.4L162.4 350.6L158.2 349.9ZM162.4 350.6L166.6 351.3L166.6 355.5L162.4 354.8Z"/>
<path class="m" fill="#ffb900" d="M158.2 307.8L162.4 308.7L162.4 312.9L158.2 312.1ZM162.4 317.1L166.6 317.8L166.6 322L162.4 321.3Z"/>
<path class="m" fill="#ffdf00" d="M162.4 308.7L166.6 309.5L166.6 313.6L162.4 312.9Z"/>
<path class="m" fill="#85ff75" d="M166.6 309.5L170.8 310.3L170.8 314.4L166.6 313.6ZM166.6 326.2L170.8 327L170.8 331.1L166.6 330.4ZM166.6 330.4L170.8 331.1L170.8 335.3L166.6 334.6ZM166.6 334.6L170.8 335.3L170.8 339.5L166.6 338.8ZM166.6 351.3L170.8 352L170.8 356.2L166.6 355.5ZM158.2 354.2L162.4 354.8L162.4 359L158.2 358.4Z"/>
<path class="m" fill="#e7fc15" d="M154 311.3L158.2 312.1L158.2 316.3L154 315.5ZM162.4 325.5L166.6 326.2L166.6 330.4L162.4 329.6Z"/>
<path class="m" fill="#ff8f00" d="M158.2 312.1L162.4 312.9L162.4 317.1L158.2 316.3Z"/>
<path class="m" fill="#ffa400" d="M162.4 312.9L166.6 313.6L166.6 317.8L162.4 317.1ZM158.2 316.3L162.4 317.1L162.4 321.3L158.2 320.5Z"/>
<path class="m" fill="#a2ff58" d="M154 319.7L158.2 320.5L158.2 324.7L154 323.9ZM166.6 322L170.8 322.8L170.8 327L166.6 326.2ZM166.6 338.8L170.8 339.5L170.8 343.7L166.6 343ZM166.6 343L170.8 343.7L170.8 347.9L166.6 347.1ZM166.6 347.1L170.8 347.9L170.8 352L166.6 351.3ZM158.2 349.9L162.4 350.6L162.4 354.8L158.2 354.2ZM162.4 354.8L166.6 355.5L166.6 359.7L162.4 359Z"/>
<path class="m" fill="#fff100" d="M158.2 320.5L162.4 321.3L162.4 325.5L158.2 324.7ZM162.4 321.3L166.6 322L166.6 326.2L162.4 325.5Z"/>
<path class="m" fill="#43ffaa" d="M154 328.2L158.2 328.9L158.2 333.1L154 332.4ZM154 332.4L158.2 333.1L158.2 337.3L154 336.6ZM154 336.6L158.2 337.3L158.2 341.5L154 340.8ZM154 340.8L158.2 341.5L158.2 345.7L154 345ZM154 345L158.2 345.7L158.2 349.9L154 349.3ZM154 349.3L158.2 349.9L158.2 354.2L154 353.5ZM158.2 358.4L162.4 359L162.4 363.2L158.2 362.6ZM166.6 359.7L170.8 360.4L170.8 364.6L166.6 363.9Z"/>
<path class="m" fill="#0388ff" d="M145.6 377.6L149.8 378.2L149.8 382.4L145.6 381.8ZM145.6 381.8L149.8 382.4L149.8 386.7L145.6 386.1ZM149.8 382.4L154 383L154 387.2L149.8 386.7ZM145.6 386.1L149.8 386.7L149.8 390.9L145.6 390.3ZM149.8 386.7L154 387.2L154 391.5L149.8 390.9ZM154 387.2L158.2 387.8L158.2 392L154 391.5ZM158.2 387.8L162.4 388.4L162.4 392.6L158.2 392ZM162.4 388.4L166.6 389L166.6 393.2L162.4 392.6ZM166.6 389L170.8 389.6L170.8 393.8L166.6 393.2ZM154 391.5L158.2 392L158.2 396.3L154 395.7ZM158.2 392L162.4 392.6L162.4 396.8L158.2 396.3ZM162.4 392.6L166.6 393.2L166.6 397.4L162.4 396.8ZM166.6 393.2L170.8 393.8L170.8 398L166.6 397.4Z"/>
<path class="m" fill="#057cff" d="M145.6 390.3L149.8 390.9L149.8 395.1L145.6 394.6ZM149.8 390.9L154 391.5L154 395.7L149.8 395.1ZM145.6 394.6L149.8 395.1L149.8 399.4L145.6 398.8ZM149.8 395.1L154 395.7L154 399.9L149.8 399.4ZM154 395.7L158.2 396.3L158.2 400.5L154 399.9ZM158.2 396.3L162.4 396.8L162.4 401L158.2 400.5ZM162.4 396.8L166.6 397.4L166.6 401.6L162.4 401ZM166.6 397.4L170.8 398L170.8 402.1L166.6 401.6Z"/>
<path class="m" fill="#00e8ff" d="M170.2 297.6L174.6 298.2L174.6 302.4L170.2 301.8ZM249.5 317.7L252.4 319L252.3 323.1L249.4 321.8ZM170.2 301.8L174.6 302.4L174.6 306.6L170.2 306ZM170.2 306L174.6 306.6L174.6 310.8L170.2 310.2ZM170.2 310.2L174.6 310.8L174.6 315L170.2 314.4ZM170.2 314.4L174.6 315L174.6 319.2L170.2 318.6ZM170.2 318.6L174.6 319.2L174.6 323.4L170.2 322.8ZM249.3 338.4L252.2 339.7L252.2 343.8L249.3 342.5ZM170.2 322.8L174.6 323.4L174.6 327.6L170.3 327ZM170.3 327L174.6 327.6L174.6 331.7L170.3 331.2ZM240.1 347.1L243.2 348.3L243.2 352.4L240.1 351.2ZM233.6 348.9L236.9 350L236.9 354.2L233.6 353ZM208.1 345.9L212 346.8L212 351L208.1 350.1ZM212 346.8L215.8 347.7L215.8 351.9L212 351ZM215.8 347.7L219.5 348.7L219.5 352.9L215.8 351.9ZM219.5 348.7L223.2 349.7L223.2 353.9L219.5 352.9ZM223.2 349.7L226.7 350.8L226.7 355L223.2 353.9ZM191.8 346.9L195.9 347.6L195.9 351.8L191.8 351.1ZM195.9 347.6L200.1 348.4L200.1 352.6L195.9 351.8ZM200.1 348.4L204.1 349.2L204.1 353.4L200.1 352.6ZM187.6 350.4L191.8 351.1L191.8 355.2L187.6 354.6ZM191.8 351.1L195.9 351.8L195.9 356L191.8 355.2ZM187.6 354.6L191.8 355.2L191.8 359.4L187.6 358.7ZM183.3 358.1L187.6 358.7L187.6 362.9L183.3 362.3ZM183.3 362.3L187.6 362.9L187.6 367.1L183.3 366.5ZM179 365.8L183.3 366.5L183.3 370.6L179 370ZM170.3 368.9L174.7 369.4L174.7 373.6L170.3 373.1ZM174.7 369.4L179 370L179 374.2L174.7 373.6Z"/>
<path class="m" fill="#00fcff" d="M174.6 298.2L178.9 298.9L178.9 303L174.6 302.4ZM246.5 316.4L249.5 317.7L249.4 321.8L246.5 320.6ZM249.4 321.8L252.3 323.1L252.3 327.3L249.4 326ZM249.4 326L252.3 327.3L252.3 331.4L249.4 330.1ZM249.4 330.1L252.3 331.4L252.2 335.5L249.4 334.3ZM249.4 334.3L252.2 335.5L252.2 339.7L249.3 338.4ZM174.6 319.2L179 319.8L179 324L174.6 323.4ZM174.6 323.4L179 324L179 328.2L174.6 327.6ZM246.3 341.3L249.3 342.5L249.3 346.7L246.3 345.4ZM174.6 327.6L179 328.2L179 332.3L174.6 331.7ZM243.3 344.1L246.3 345.4L246.3 349.5L243.2 348.3ZM170.3 331.2L174.6 331.7L174.6 335.9L170.3 335.4ZM174.6 331.7L179 332.3L179 336.5L174.6 335.9ZM236.9 345.9L240.1 347.1L240.1 351.2L236.9 350ZM212 342.6L215.8 343.6L215.8 347.7L212 346.8ZM230.2 347.7L233.6 348.9L233.6 353L230.2 351.9ZM187.6 342L191.8 342.7L191.8 346.9L187.6 346.2ZM191.8 342.7L196 343.4L195.9 347.6L191.8 346.9ZM196 343.4L200.1 344.2L200.1 348.4L195.9 347.6ZM200.1 344.2L204.1 345L204.1 349.2L200.1 348.4ZM204.1 345L208.1 345.9L208.1 350.1L204.1 349.2ZM183.3 345.5L187.6 346.2L187.6 350.4L183.3 349.7ZM187.6 346.2L191.8 346.9L191.8 351.1L187.6 350.4ZM183.3 349.7L187.6 350.4L187.6 354.6L183.3 353.9ZM183.3 353.9L187.6 354.6L187.6 358.7L183.3 358.1ZM179 361.7L183.3 362.3L183.3 366.5L179 365.8ZM170.3 364.7L174.7 365.3L174.7 369.4L170.3 368.9ZM174.7 365.3L179 365.8L179 370L174.7 369.4Z"/>
<path class="m" fill="#1dffc1" d="M178.9 298.9L183.3 299.5L183.3 303.7L178.9 303ZM243.4 315.1L246.5 316.4L246.5 320.6L243.4 319.3ZM246.4 324.7L249.4 326L249.4 330.1L246.4 328.8ZM246.4 328.8L249.4 330.1L249.4 334.3L246.4 333ZM179 315.6L183.3 316.2L183.3 320.4L179 319.8ZM246.4 333L249.4 334.3L249.3 338.4L246.4 337.1ZM179 319.8L183.3 320.4L183.3 324.6L179 324ZM183.3 324.6L187.6 325.3L187.6 329.5L183.3 328.8ZM183.3 328.8L187.6 329.5L187.6 333.7L183.3 333ZM187.6 329.5L191.8 330.2L191.8 334.4L187.6 333.7ZM191.8 334.4L196 335.1L196 339.3L191.8 338.5ZM212 338.5L215.8 339.4L215.8 343.6L212 342.6ZM233.6 344.7L236.9 345.9L236.9 350L233.6 348.9ZM223.2 345.6L226.7 346.6L226.7 350.8L223.2 349.7ZM170.3 343.7L174.7 344.3L174.7 348.5L170.3 347.9ZM174.7 344.3L179 344.9L179 349.1L174.7 348.5ZM170.3 347.9L174.7 348.5L174.7 352.7L170.3 352.1ZM174.7 348.5L179 349.1L179 353.3L174.7 352.7ZM174.7 352.7L179 353.3L179 357.5L174.7 356.9ZM170.3 356.3L174.7 356.9L174.7 361.1L170.3 360.5ZM174.7 356.9L179 357.5L179 361.7L174.7 361.1Z"/>
<path class="m" fill="#68ff92" d="M183.3 299.5L187.6 300.2L187.6 304.4L183.3 303.7ZM237.1 312.7L240.3 313.9L240.3 318.1L237.1 316.8ZM240.3 318.1L243.4 319.3L243.4 323.4L240.3 322.2ZM243.4 323.4L246.4 324.7L246.4 328.8L243.4 327.6ZM243.4 327.6L246.4 328.8L246.4 333L243.3 331.7ZM183.3 316.2L187.6 316.9L187.6 321.1L183.3 320.4ZM243.3 331.7L246.4 333L246.4 337.1L243.3 335.9ZM187.6 325.3L191.8 326L191.8 330.2L187.6 329.5ZM191.8 330.2L196 330.9L196 335.1L191.8 334.4ZM230.2 343.6L233.6 344.7L233.6 348.9L230.2 347.7Z"/>
<path class="m" fill="#bcff3e" d="M187.6 300.2L191.8 300.9L191.8 305.1L187.6 304.4ZM226.9 309.2L230.4 310.4L230.4 314.5L226.9 313.4ZM187.6 304.4L191.8 305.1L191.8 309.3L187.6 308.6ZM233.8 315.7L237.1 316.8L237 321L233.7 319.8ZM187.6 308.6L191.8 309.3L191.8 313.5L187.6 312.7ZM237 321L240.3 322.2L240.2 326.3L237 325.1ZM187.6 312.7L191.8 313.5L191.8 317.6L187.6 316.9ZM237 333.4L240.2 334.6L240.2 338.8L237 337.6ZM200.1 331.7L204.1 332.5L204.1 336.7L200.1 335.9ZM204.1 332.5L208.1 333.4L208.1 337.6L204.1 336.7Z"/>
<path class="m" fill="#e7fc15" d="M191.8 300.9L196 301.7L196 305.9L191.8 305.1ZM215.9 306.1L219.7 307.1L219.6 311.3L215.9 310.3ZM226.9 313.4L230.4 314.5L230.3 318.7L226.9 317.6ZM233.7 319.8L237 321L237 325.1L233.7 324ZM196 326.7L200.1 327.5L200.1 331.7L196 330.9ZM208.1 329.2L212 330.1L212 334.3L208.1 333.4ZM215.8 331.1L219.6 332.1L219.6 336.2L215.8 335.3ZM233.7 336.4L237 337.6L236.9 341.7L233.6 340.6ZM219.6 336.2L223.2 337.3L223.2 341.4L219.6 340.4Z"/>
<path class="m" fill="#ffdf00" d="M196 301.7L200.1 302.5L200.1 306.7L196 305.9ZM208.2 304.2L212.1 305.1L212.1 309.3L208.1 308.4ZM212.1 309.3L215.9 310.3L215.9 314.4L212 313.5ZM215.9 314.4L219.6 315.4L219.6 319.6L215.9 318.6ZM219.6 315.4L223.3 316.5L223.3 320.6L219.6 319.6ZM212 321.8L215.9 322.8L215.8 326.9L212 326ZM215.8 326.9L219.6 327.9L219.6 332.1L215.8 331.1ZM200.1 327.5L204.1 328.4L204.1 332.5L200.1 331.7ZM204.1 328.4L208.1 329.2L208.1 333.4L204.1 332.5Z"/>
<path class="m" fill="#ffb900" d="M200.1 302.5L204.2 303.3L204.2 307.5L200.1 306.7ZM204.2 303.3L208.2 304.2L208.1 308.4L204.2 307.5ZM230.3 322.8L233.7 324L233.7 328.1L230.3 327Z"/>
<path class="m" fill="#f4f809" d="M212.1 305.1L215.9 306.1L215.9 310.3L212.1 309.3ZM191.8 305.1L196 305.9L196 310L191.8 309.3ZM215.9 310.3L219.6 311.3L219.6 315.4L215.9 314.4ZM219.6 311.3L223.3 312.3L223.3 316.5L219.6 315.4ZM223.3 312.3L226.9 313.4L226.9 317.6L223.3 316.5ZM191.8 317.6L196 318.4L196 322.6L191.8 321.8ZM212 326L215.8 326.9L215.8 331.1L212 330.1Z"/>
<path class="m" fill="#d7ff23" d="M219.7 307.1L223.3 308.2L223.3 312.3L219.6 311.3ZM223.3 308.2L226.9 309.2L226.9 313.4L223.3 312.3ZM230.4 314.5L233.8 315.7L233.7 319.8L230.3 318.7ZM237 325.1L240.2 326.3L240.2 330.5L237 329.3ZM237 329.3L240.2 330.5L240.2 334.6L237 333.4ZM191.8 321.8L196 322.6L196 326.7L191.8 326ZM212 330.1L215.8 331.1L215.8 335.3L212 334.3ZM230.3 339.4L233.6 340.6L233.6 344.7L230.2 343.6Z"/>
<path class="m" fill="#a2ff58" d="M230.4 310.4L233.8 311.5L233.8 315.7L230.4 314.5ZM237.1 316.8L240.3 318.1L240.3 322.2L237 321ZM240.2 326.3L243.4 327.6L243.3 331.7L240.2 330.5ZM187.6 316.9L191.8 317.6L191.8 321.8L187.6 321.1ZM240.2 330.5L243.3 331.7L243.3 335.9L240.2 334.6ZM191.8 326L196 326.7L196 330.9L191.8 330.2ZM215.8 335.3L219.6 336.2L219.6 340.4L215.8 339.4ZM223.2 341.4L226.8 342.5L226.7 346.6L223.2 345.6ZM226.8 342.5L230.2 343.6L230.2 347.7L226.7 346.6Z"/>
<path class="m" fill="#85ff75" d="M233.8 311.5L237.1 312.7L237.1 316.8L233.8 315.7ZM183.3 303.7L187.6 304.4L187.6 308.6L183.3 307.9ZM183.3 307.9L187.6 308.6L187.6 312.7L183.3 312.1ZM240.3 322.2L243.4 323.4L243.4 327.6L240.2 326.3ZM183.3 312.1L187.6 312.7L187.6 316.9L183.3 316.2ZM187.6 321.1L191.8 321.8L191.8 326L187.6 325.3ZM240.2 334.6L243.3 335.9L243.3 340L240.2 338.8ZM237 337.6L240.2 338.8L240.1 342.9L236.9 341.7ZM196 330.9L200.1 331.7L200.1 335.9L196 335.1ZM208.1 333.4L212 334.3L212 338.5L208.1 337.6ZM212 334.3L215.8 335.3L215.8 339.4L212 338.5ZM233.6 340.6L236.9 341.7L236.9 345.9L233.6 344.7ZM219.6 340.4L223.2 341.4L223.2 345.6L219.5 344.6Z"/>
<path class="m" fill="#43ffaa" d="M240.3 313.9L243.4 315.1L243.4 319.3L240.3 318.1ZM178.9 303L183.3 303.7L183.3 307.9L179 307.2ZM243.4 319.3L246.5 320.6L246.4 324.7L243.4 323.4ZM179 307.2L183.3 307.9L183.3 312.1L179 311.4ZM179 311.4L183.3 312.1L183.3 316.2L179 315.6ZM183.3 320.4L187.6 321.1L187.6 325.3L183.3 324.6ZM243.3 335.9L246.4 337.1L246.3 341.3L243.3 340ZM240.2 338.8L243.3 340L243.3 344.1L240.1 342.9ZM236.9 341.7L240.1 342.9L240.1 347.1L236.9 345.9ZM196 335.1L200.1 335.9L200.1 340.1L196 339.3ZM200.1 335.9L204.1 336.7L204.1 340.9L200.1 340.1ZM204.1 336.7L208.1 337.6L208.1 341.7L204.1 340.9ZM208.1 337.6L212 338.5L212 342.6L208.1 341.7ZM215.8 339.4L219.6 340.4L219.5 344.6L215.8 343.6ZM170.3 352.1L174.7 352.7L174.7 356.9L170.3 356.3Z"/>
<path class="m" fill="#00beff" d="M252.4 319L255.2 320.3L255.1 324.5L252.3 323.1ZM255.1 324.5L257.9 325.8L257.8 329.9L255.1 328.6ZM255.1 328.6L257.8 329.9L257.8 334.1L255.1 332.7ZM255.1 332.7L257.8 334.1L257.8 338.2L255 336.9ZM255 336.9L257.8 338.2L257.7 342.3L255 341ZM252.2 343.8L255 345.1L255 349.3L252.1 348ZM249.3 346.7L252.1 348L252.1 352.1L249.2 350.8ZM246.3 349.5L249.2 350.8L249.2 354.9L246.3 353.7ZM240.1 351.2L243.2 352.4L243.2 356.6L240.1 355.4ZM243.2 352.4L246.3 353.7L246.2 357.8L243.2 356.6ZM233.6 353L236.9 354.2L236.9 358.3L233.6 357.2ZM219.5 352.9L223.2 353.9L223.1 358.1L219.5 357ZM223.2 353.9L226.7 355L226.7 359.1L223.1 358.1ZM226.7 355L230.2 356L230.2 360.2L226.7 359.1ZM208.1 354.2L212 355.1L211.9 359.3L208.1 358.4ZM212 355.1L215.8 356.1L215.8 360.2L211.9 359.3ZM215.8 356.1L219.5 357L219.5 361.2L215.8 360.2ZM200 356.7L204.1 357.6L204.1 361.7L200 360.9ZM204.1 357.6L208.1 358.4L208 362.6L204.1 361.7ZM208.1 358.4L211.9 359.3L211.9 363.5L208 362.6ZM195.9 360.2L200 360.9L200 365.1L195.9 364.3ZM200 360.9L204.1 361.7L204.1 365.9L200 365.1ZM191.8 363.6L195.9 364.3L195.9 368.5L191.8 367.8ZM187.6 367.1L191.8 367.8L191.8 372L187.6 371.3ZM183.3 370.6L187.6 371.3L187.6 375.5L183.3 374.8ZM174.7 373.6L179 374.2L179 378.4L174.7 377.8ZM179 374.2L183.3 374.8L183.3 379L179 378.4ZM170.4 377.3L174.7 377.8L174.7 382L170.4 381.5Z"/>
<path class="m" fill="#00a7ff" d="M255.2 320.3L257.9 321.7L257.9 325.8L255.1 324.5ZM257.8 329.9L260.5 331.3L260.5 335.4L257.8 334.1ZM257.8 334.1L260.5 335.4L260.4 339.6L257.8 338.2ZM257.8 338.2L260.4 339.6L260.4 343.7L257.7 342.3ZM255 341L257.7 342.3L257.7 346.5L255 345.1ZM255 345.1L257.7 346.5L257.7 350.6L255 349.3ZM252.1 348L255 349.3L254.9 353.4L252.1 352.1ZM249.2 350.8L252.1 352.1L252.1 356.2L249.2 354.9ZM246.3 353.7L249.2 354.9L249.2 359.1L246.2 357.8ZM236.9 354.2L240.1 355.4L240.1 359.5L236.9 358.3ZM240.1 355.4L243.2 356.6L243.2 360.7L240.1 359.5ZM243.2 356.6L246.2 357.8L246.2 362L243.2 360.7ZM230.2 356L233.6 357.2L233.5 361.3L230.2 360.2ZM233.6 357.2L236.9 358.3L236.8 362.5L233.5 361.3ZM219.5 357L223.1 358.1L223.1 362.2L219.5 361.2ZM223.1 358.1L226.7 359.1L226.7 363.3L223.1 362.2ZM226.7 359.1L230.2 360.2L230.1 364.4L226.7 363.3ZM211.9 359.3L215.8 360.2L215.7 364.4L211.9 363.5ZM215.8 360.2L219.5 361.2L219.5 365.4L215.7 364.4ZM219.5 361.2L223.1 362.2L223.1 366.4L219.5 365.4ZM204.1 361.7L208 362.6L208 366.7L204.1 365.9ZM208 362.6L211.9 363.5L211.9 367.6L208 366.7ZM211.9 363.5L215.7 364.4L215.7 368.6L211.9 367.6ZM195.9 364.3L200 365.1L200 369.3L195.9 368.5ZM200 365.1L204.1 365.9L204.1 370.1L200 369.3ZM204.1 365.9L208 366.7L208 370.9L204.1 370.1ZM208 366.7L211.9 367.6L211.9 371.8L208 370.9ZM191.8 367.8L195.9 368.5L195.9 372.7L191.8 372ZM195.9 368.5L200 369.3L200 373.4L195.9 372.7ZM200 369.3L204.1 370.1L204.1 374.2L200 373.4ZM187.6 371.3L191.8 372L191.8 376.1L187.6 375.5ZM191.8 372L195.9 372.7L195.9 376.9L191.8 376.1ZM183.3 374.8L187.6 375.5L187.6 379.6L183.3 379ZM174.7 377.8L179 378.4L179 382.6L174.7 382ZM179 378.4L183.3 379L183.3 383.2L179 382.6ZM170.4 381.5L174.7 382L174.7 386.2L170.4 385.7Z"/>
<path class="m" fill="#0193ff" d="M257.9 321.7L260.6 323L260.5 327.2L257.9 325.8ZM257.9 325.8L260.5 327.2L260.5 331.3L257.8 329.9ZM260.5 327.2L263.2 328.6L263.1 332.7L260.5 331.3ZM260.5 331.3L263.1 332.7L263.1 336.8L260.5 335.4ZM260.5 335.4L263.1 336.8L263 340.9L260.4 339.6ZM260.4 339.6L263 340.9L263 345.1L260.4 343.7ZM257.7 342.3L260.4 343.7L260.4 347.8L257.7 346.5ZM260.4 343.7L263 345.1L263 349.2L260.4 347.8ZM257.7 346.5L260.4 347.8L260.3 351.9L257.7 350.6ZM255 349.3L257.7 350.6L257.6 354.7L254.9 353.4ZM257.7 350.6L260.3 351.9L260.3 356.1L257.6 354.7ZM252.1 352.1L254.9 353.4L254.9 357.5L252.1 356.2ZM254.9 353.4L257.6 354.7L257.6 358.9L254.9 357.5ZM249.2 354.9L252.1 356.2L252.1 360.4L249.2 359.1ZM252.1 356.2L254.9 357.5L254.9 361.7L252.1 360.4ZM246.2 357.8L249.2 359.1L249.2 363.2L246.2 362ZM249.2 359.1L252.1 360.4L252 364.5L249.2 363.2ZM236.9 358.3L240.1 359.5L240 363.7L236.8 362.5ZM240.1 359.5L243.2 360.7L243.1 364.9L240 363.7ZM243.2 360.7L246.2 362L246.2 366.1L243.1 364.9ZM230.2 360.2L233.5 361.3L233.5 365.5L230.1 364.4ZM233.5 361.3L236.8 362.5L236.8 366.6L233.5 365.5ZM236.8 362.5L240 363.7L240 367.8L236.8 366.6ZM223.1 362.2L226.7 363.3L226.7 367.4L223.1 366.4ZM226.7 363.3L230.1 364.4L230.1 368.5L226.7 367.4ZM230.1 364.4L233.5 365.5L233.5 369.6L230.1 368.5ZM233.5 365.5L236.8 366.6L236.8 370.8L233.5 369.6ZM215.7 364.4L219.5 365.4L219.5 369.5L215.7 368.6ZM219.5 365.4L223.1 366.4L223.1 370.5L219.5 369.5ZM223.1 366.4L226.7 367.4L226.7 371.6L223.1 370.5ZM226.7 367.4L230.1 368.5L230.1 372.7L226.7 371.6ZM211.9 367.6L215.7 368.6L215.7 372.7L211.9 371.8ZM215.7 368.6L219.5 369.5L219.5 373.7L215.7 372.7ZM219.5 369.5L223.1 370.5L223.1 374.7L219.5 373.7ZM223.1 370.5L226.7 371.6L226.6 375.7L223.1 374.7ZM204.1 370.1L208 370.9L208 375.1L204.1 374.2ZM208 370.9L211.9 371.8L211.9 376L208 375.1ZM211.9 371.8L215.7 372.7L215.7 376.9L211.9 376ZM215.7 372.7L219.5 373.7L219.4 377.9L215.7 376.9ZM195.9 372.7L200 373.4L200 377.6L195.9 376.9ZM200 373.4L204.1 374.2L204.1 378.4L200 377.6ZM204.1 374.2L208 375.1L208 379.3L204.1 378.4ZM208 375.1L211.9 376L211.9 380.1L208 379.3ZM187.6 375.5L191.8 376.1L191.8 380.3L187.6 379.6ZM191.8 376.1L195.9 376.9L195.9 381L191.8 380.3ZM195.9 376.9L200 377.6L200 381.8L195.9 381ZM200 377.6L204.1 378.4L204.1 382.6L200 381.8ZM183.3 379L187.6 379.6L187.6 383.8L183.3 383.2ZM187.6 379.6L191.8 380.3L191.8 384.5L187.6 383.8ZM174.7 382L179 382.6L179 386.8L174.7 386.2ZM179 382.6L183.3 383.2L183.3 387.4L179 386.8ZM183.3 383.2L187.6 383.8L187.6 388L183.3 387.4ZM170.4 385.7L174.7 386.2L174.7 390.4L170.4 389.9ZM174.7 386.2L179 386.8L179 391L174.7 390.4Z"/>
<path class="m" fill="#0388ff" d="M260.6 323L263.2 324.4L263.2 328.6L260.5 327.2ZM263.2 324.4L265.7 325.8L265.7 329.9L263.2 328.6ZM265.7 325.8L268.2 327.2L268.2 331.3L265.7 329.9ZM263.2 328.6L265.7 329.9L265.6 334.1L263.1 332.7ZM265.7 329.9L268.2 331.3L268.1 335.5L265.6 334.1ZM263.1 332.7L265.6 334.1L265.6 338.2L263.1 336.8ZM265.6 334.1L268.1 335.5L268.1 339.6L265.6 338.2ZM263.1 336.8L265.6 338.2L265.6 342.3L263 340.9ZM265.6 338.2L268.1 339.6L268 343.7L265.6 342.3ZM263 340.9L265.6 342.3L265.5 346.4L263 345.1ZM265.6 342.3L268 343.7L268 347.8L265.5 346.4ZM263 345.1L265.5 346.4L265.5 350.6L263 349.2ZM265.5 346.4L268 347.8L268 351.9L265.5 350.6ZM260.4 347.8L263 349.2L262.9 353.3L260.3 351.9ZM263 349.2L265.5 350.6L265.5 354.7L262.9 353.3ZM265.5 350.6L268 351.9L267.9 356.1L265.5 354.7ZM260.3 351.9L262.9 353.3L262.9 357.4L260.3 356.1ZM262.9 353.3L265.5 354.7L265.4 358.8L262.9 357.4ZM257.6 354.7L260.3 356.1L260.3 360.2L257.6 358.9ZM260.3 356.1L262.9 357.4L262.9 361.6L260.3 360.2ZM262.9 357.4L265.4 358.8L265.4 362.9L262.9 361.6ZM254.9 357.5L257.6 358.9L257.6 363L254.9 361.7ZM257.6 358.9L260.3 360.2L260.2 364.3L257.6 363ZM260.3 360.2L262.9 361.6L262.8 365.7L260.2 364.3ZM252.1 360.4L254.9 361.7L254.8 365.8L252 364.5ZM254.9 361.7L257.6 363L257.5 367.1L254.8 365.8ZM257.6 363L260.2 364.3L260.2 368.5L257.5 367.1ZM246.2 362L249.2 363.2L249.1 367.4L246.2 366.1ZM249.2 363.2L252 364.5L252 368.6L249.1 367.4ZM252 364.5L254.8 365.8L254.8 369.9L252 368.6ZM254.8 365.8L257.5 367.1L257.5 371.2L254.8 369.9ZM240 363.7L243.1 364.9L243.1 369L240 367.8ZM243.1 364.9L246.2 366.1L246.2 370.2L243.1 369ZM246.2 366.1L249.1 367.4L249.1 371.5L246.2 370.2ZM249.1 367.4L252 368.6L252 372.8L249.1 371.5ZM252 368.6L254.8 369.9L254.8 374.1L252 372.8ZM236.8 366.6L240 367.8L240 371.9L236.8 370.8ZM240 367.8L243.1 369L243.1 373.2L240 371.9ZM243.1 369L246.2 370.2L246.1 374.4L243.1 373.2ZM246.2 370.2L249.1 371.5L249.1 375.6L246.1 374.4ZM249.1 371.5L252 372.8L251.9 376.9L249.1 375.6ZM230.1 368.5L233.5 369.6L233.5 373.8L230.1 372.7ZM233.5 369.6L236.8 370.8L236.8 374.9L233.5 373.8ZM236.8 370.8L240 371.9L240 376.1L236.8 374.9ZM240 371.9L243.1 373.2L243.1 377.3L240 376.1ZM243.1 373.2L246.1 374.4L246.1 378.5L243.1 377.3ZM246.1 374.4L249.1 375.6L249 379.8L246.1 378.5ZM226.7 371.6L230.1 372.7L230.1 376.8L226.6 375.7ZM230.1 372.7L233.5 373.8L233.5 377.9L230.1 376.8ZM233.5 373.8L236.8 374.9L236.7 379.1L233.5 377.9ZM236.8 374.9L240 376.1L239.9 380.2L236.7 379.1ZM240 376.1L243.1 377.3L243 381.4L239.9 380.2ZM243.1 377.3L246.1 378.5L246.1 382.7L243 381.4ZM219.5 373.7L223.1 374.7L223.1 378.9L219.4 377.9ZM223.1 374.7L226.6 375.7L226.6 379.9L223.1 378.9ZM226.6 375.7L230.1 376.8L230.1 381L226.6 379.9ZM230.1 376.8L233.5 377.9L233.4 382.1L230.1 381ZM233.5 377.9L236.7 379.1L236.7 383.2L233.4 382.1ZM236.7 379.1L239.9 380.2L239.9 384.4L236.7 383.2ZM239.9 380.2L243 381.4L243 385.6L239.9 384.4ZM211.9 376L215.7 376.9L215.7 381.1L211.9 380.1ZM215.7 376.9L219.4 377.9L219.4 382L215.7 381.1ZM219.4 377.9L223.1 378.9L223.1 383L219.4 382ZM223.1 378.9L226.6 379.9L226.6 384.1L223.1 383ZM226.6 379.9L230.1 381L230.1 385.1L226.6 384.1ZM230.1 381L233.4 382.1L233.4 386.2L230.1 385.1ZM233.4 382.1L236.7 383.2L236.7 387.4L233.4 386.2ZM204.1 378.4L208 379.3L208 383.4L204.1 382.6ZM208 379.3L211.9 380.1L211.9 384.3L208 383.4ZM211.9 380.1L215.7 381.1L215.7 385.2L211.9 384.3ZM215.7 381.1L219.4 382L219.4 386.2L215.7 385.2ZM219.4 382L223.1 383L223 387.2L219.4 386.2ZM223.1 383L226.6 384.1L226.6 388.2L223 387.2ZM226.6 384.1L230.1 385.1L230 389.3L226.6 388.2ZM230.1 385.1L233.4 386.2L233.4 390.4L230 389.3ZM191.8 380.3L195.9 381L195.9 385.2L191.8 384.5ZM195.9 381L200 381.8L200 386L195.9 385.2ZM200 381.8L204.1 382.6L204 386.8L200 386ZM204.1 382.6L208 383.4L208 387.6L204 386.8ZM208 383.4L211.9 384.3L211.9 388.5L208 387.6ZM211.9 384.3L215.7 385.2L215.7 389.4L211.9 388.5ZM215.7 385.2L219.4 386.2L219.4 390.3L215.7 389.4ZM219.4 386.2L223 387.2L223 391.3L219.4 390.3ZM223 387.2L226.6 388.2L226.6 392.4L223 391.3ZM187.6 383.8L191.8 384.5L191.8 388.7L187.6 388ZM191.8 384.5L195.9 385.2L195.9 389.4L191.8 388.7ZM195.9 385.2L200 386L200 390.1L195.9 389.4ZM200 386L204 386.8L204 390.9L200 390.1ZM204 386.8L208 387.6L208 391.8L204 390.9ZM208 387.6L211.9 388.5L211.9 392.6L208 391.8ZM211.9 388.5L215.7 389.4L215.7 393.5L211.9 392.6ZM179 386.8L183.3 387.4L183.3 391.6L179 391ZM183.3 387.4L187.6 388L187.6 392.2L183.3 391.6ZM187.6 388L191.8 388.7L191.8 392.9L187.6 392.2ZM191.8 388.7L195.9 389.4L195.9 393.6L191.8 392.9ZM195.9 389.4L200 390.1L200 394.3L195.9 393.6ZM170.4 389.9L174.7 390.4L174.7 394.6L170.4 394ZM174.7 390.4L179 391L179 395.2L174.7 394.6ZM179 391L183.3 391.6L183.3 395.7L179 395.2ZM183.3 391.6L187.6 392.2L187.6 396.4L183.3 395.7ZM187.6 392.2L191.8 392.9L191.8 397L187.6 396.4ZM170.4 394L174.7 394.6L174.7 398.8L170.4 398.2ZM174.7 394.6L179 395.2L179.1 399.3L174.7 398.8ZM179 395.2L183.3 395.7L183.3 399.9L179.1 399.3Z"/>
<path class="m" fill="#00ffdc" d="M174.6 302.4L178.9 303L179 307.2L174.6 306.6ZM246.5 320.6L249.4 321.8L249.4 326L246.4 324.7ZM174.6 306.6L179 307.2L179 311.4L174.6 310.8ZM174.6 310.8L179 311.4L179 315.6L174.6 315ZM174.6 315L179 315.6L179 319.8L174.6 319.2ZM246.4 337.1L249.3 338.4L249.3 342.5L246.3 341.3ZM179 324L183.3 324.6L183.3 328.8L179 328.2ZM243.3 340L246.3 341.3L246.3 345.4L243.3 344.1ZM179 328.2L183.3 328.8L183.3 333L179 332.3ZM240.1 342.9L243.3 344.1L243.2 348.3L240.1 347.1ZM179 332.3L183.3 333L183.3 337.2L179 336.5ZM183.3 333L187.6 333.7L187.6 337.8L183.3 337.2ZM187.6 333.7L191.8 334.4L191.8 338.5L187.6 337.8ZM170.3 335.4L174.6 335.9L174.6 340.1L170.3 339.5ZM174.6 335.9L179 336.5L179 340.7L174.6 340.1ZM179 336.5L183.3 337.2L183.3 341.4L179 340.7ZM183.3 337.2L187.6 337.8L187.6 342L183.3 341.4ZM187.6 337.8L191.8 338.5L191.8 342.7L187.6 342ZM191.8 338.5L196 339.3L196 343.4L191.8 342.7ZM196 339.3L200.1 340.1L200.1 344.2L196 343.4ZM200.1 340.1L204.1 340.9L204.1 345L200.1 344.2ZM204.1 340.9L208.1 341.7L208.1 345.9L204.1 345ZM208.1 341.7L212 342.6L212 346.8L208.1 345.9ZM215.8 343.6L219.5 344.6L219.5 348.7L215.8 347.7ZM219.5 344.6L223.2 345.6L223.2 349.7L219.5 348.7ZM226.7 346.6L230.2 347.7L230.2 351.9L226.7 350.8ZM170.3 339.5L174.6 340.1L174.7 344.3L170.3 343.7ZM174.6 340.1L179 340.7L179 344.9L174.7 344.3ZM179 340.7L183.3 341.4L183.3 345.5L179 344.9ZM183.3 341.4L187.6 342L187.6 346.2L183.3 345.5ZM179 344.9L183.3 345.5L183.3 349.7L179 349.1ZM179 349.1L183.3 349.7L183.3 353.9L179 353.3ZM179 353.3L183.3 353.9L183.3 358.1L179 357.5ZM179 357.5L183.3 358.1L183.3 362.3L179 361.7ZM170.3 360.5L174.7 361.1L174.7 365.3L170.3 364.7ZM174.7 361.1L179 361.7L179 365.8L174.7 365.3Z"/>
<path class="m" fill="#ffa400" d="M196 305.9L200.1 306.7L200.1 310.8L196 310ZM208.1 308.4L212.1 309.3L212 313.5L208.1 312.6ZM219.6 319.6L223.3 320.6L223.3 324.8L219.6 323.8ZM230.3 327L233.7 328.1L233.7 332.3L230.3 331.1ZM219.6 327.9L223.2 329L223.2 333.1L219.6 332.1ZM230.3 331.1L233.7 332.3L233.7 336.4L230.3 335.3Z"/>
<path class="m" fill="#ff5400" d="M200.1 306.7L204.2 307.5L204.2 311.7L200.1 310.8ZM204.2 307.5L208.1 308.4L208.1 312.6L204.2 311.7ZM223.3 324.8L226.8 325.9L226.8 330L223.2 329ZM223.2 329L226.8 330L226.8 334.2L223.2 333.1Z"/>
<path class="m" fill="#00d4ff" d="M252.3 323.1L255.1 324.5L255.1 328.6L252.3 327.3ZM252.3 327.3L255.1 328.6L255.1 332.7L252.3 331.4ZM252.3 331.4L255.1 332.7L255 336.9L252.2 335.5ZM252.2 335.5L255 336.9L255 341L252.2 339.7ZM252.2 339.7L255 341L255 345.1L252.2 343.8ZM249.3 342.5L252.2 343.8L252.1 348L249.3 346.7ZM246.3 345.4L249.3 346.7L249.2 350.8L246.3 349.5ZM243.2 348.3L246.3 349.5L246.3 353.7L243.2 352.4ZM236.9 350L240.1 351.2L240.1 355.4L236.9 354.2ZM226.7 350.8L230.2 351.9L230.2 356L226.7 355ZM230.2 351.9L233.6 353L233.6 357.2L230.2 356ZM204.1 349.2L208.1 350.1L208.1 354.2L204.1 353.4ZM208.1 350.1L212 351L212 355.1L208.1 354.2ZM212 351L215.8 351.9L215.8 356.1L212 355.1ZM215.8 351.9L219.5 352.9L219.5 357L215.8 356.1ZM195.9 351.8L200.1 352.6L200 356.7L195.9 356ZM200.1 352.6L204.1 353.4L204.1 357.6L200 356.7ZM204.1 353.4L208.1 354.2L208.1 358.4L204.1 357.6ZM191.8 355.2L195.9 356L195.9 360.2L191.8 359.4ZM195.9 356L200 356.7L200 360.9L195.9 360.2ZM187.6 358.7L191.8 359.4L191.8 363.6L187.6 362.9ZM191.8 359.4L195.9 360.2L195.9 364.3L191.8 363.6ZM187.6 362.9L191.8 363.6L191.8 367.8L187.6 367.1ZM183.3 366.5L187.6 367.1L187.6 371.3L183.3 370.6ZM179 370L183.3 370.6L183.3 374.8L179 374.2ZM170.3 373.1L174.7 373.6L174.7 377.8L170.4 377.3Z"/>
<path class="m" fill="#fff100" d="M191.8 309.3L196 310L196 314.2L191.8 313.5ZM230.3 318.7L233.7 319.8L233.7 324L230.3 322.8ZM191.8 313.5L196 314.2L196 318.4L191.8 317.6ZM233.7 324L237 325.1L237 329.3L233.7 328.1ZM233.7 328.1L237 329.3L237 333.4L233.7 332.3ZM233.7 332.3L237 333.4L237 337.6L233.7 336.4ZM223.2 337.3L226.8 338.3L226.8 342.5L223.2 341.4ZM226.8 338.3L230.3 339.4L230.2 343.6L226.8 342.5Z"/>
<path class="m" fill="#ff7a00" d="M196 310L200.1 310.8L200.1 315L196 314.2ZM208.1 312.6L212 313.5L212 317.6L208.1 316.7ZM208.1 316.7L212 317.6L212 321.8L208.1 320.9ZM196 318.4L200.1 319.2L200.1 323.4L196 322.6Z"/>
<path class="m" fill="#ff0e00" d="M200.1 310.8L204.2 311.7L204.1 315.8L200.1 315ZM204.2 311.7L208.1 312.6L208.1 316.7L204.1 315.8ZM204.1 320L208.1 320.9L208.1 325.1L204.1 324.2Z"/>
<path class="m" fill="#ffcc00" d="M212 313.5L215.9 314.4L215.9 318.6L212 317.6ZM223.3 316.5L226.9 317.6L226.8 321.7L223.3 320.6ZM226.9 317.6L230.3 318.7L230.3 322.8L226.8 321.7ZM212 317.6L215.9 318.6L215.9 322.8L212 321.8ZM215.9 318.6L219.6 319.6L219.6 323.8L215.9 322.8ZM215.9 322.8L219.6 323.8L219.6 327.9L215.8 326.9ZM196 322.6L200.1 323.4L200.1 327.5L196 326.7ZM208.1 325.1L212 326L212 330.1L208.1 329.2ZM219.6 332.1L223.2 333.1L223.2 337.3L219.6 336.2ZM230.3 335.3L233.7 336.4L233.6 340.6L230.3 339.4Z"/>
<path class="m" fill="#ff6400" d="M196 314.2L200.1 315L200.1 319.2L196 318.4ZM226.8 325.9L230.3 327L230.3 331.1L226.8 330ZM200.1 323.4L204.1 324.2L204.1 328.4L200.1 327.5ZM204.1 324.2L208.1 325.1L208.1 329.2L204.1 328.4ZM226.8 330L230.3 331.1L230.3 335.3L226.8 334.2Z"/>
<path class="m" fill="#eb0000" d="M200.1 315L204.1 315.8L204.1 320L200.1 319.2Z"/>
<path class="m" fill="#fb0000" d="M204.1 315.8L208.1 316.7L208.1 320.9L204.1 320ZM200.1 319.2L204.1 320L204.1 324.2L200.1 323.4Z"/>
<path class="m" fill="#ff8f00" d="M223.3 320.6L226.8 321.7L226.8 325.9L223.3 324.8ZM226.8 321.7L230.3 322.8L230.3 327L226.8 325.9ZM208.1 320.9L212 321.8L212 326L208.1 325.1ZM219.6 323.8L223.3 324.8L223.2 329L219.6 327.9ZM223.2 333.1L226.8 334.2L226.8 338.3L223.2 337.3ZM226.8 334.2L230.3 335.3L230.3 339.4L226.8 338.3Z"/>
<path class="m" fill="#057cff" d="M265.5 354.7L267.9 356.1L267.9 360.2L265.4 358.8ZM265.4 358.8L267.9 360.2L267.8 364.3L265.4 362.9ZM262.9 361.6L265.4 362.9L265.3 367L262.8 365.7ZM265.4 362.9L267.8 364.3L267.8 368.4L265.3 367ZM260.2 364.3L262.8 365.7L262.8 369.8L260.2 368.5ZM262.8 365.7L265.3 367L265.3 371.2L262.8 369.8ZM265.3 367L267.8 368.4L267.8 372.5L265.3 371.2ZM257.5 367.1L260.2 368.5L260.2 372.6L257.5 371.2ZM260.2 368.5L262.8 369.8L262.7 373.9L260.2 372.6ZM262.8 369.8L265.3 371.2L265.3 375.3L262.7 373.9ZM265.3 371.2L267.8 372.5L267.7 376.7L265.3 375.3ZM254.8 369.9L257.5 371.2L257.5 375.4L254.8 374.1ZM257.5 371.2L260.2 372.6L260.1 376.7L257.5 375.4ZM260.2 372.6L262.7 373.9L262.7 378.1L260.1 376.7ZM262.7 373.9L265.3 375.3L265.2 379.4L262.7 378.1ZM265.3 375.3L267.7 376.7L267.7 380.8L265.2 379.4ZM252 372.8L254.8 374.1L254.7 378.2L251.9 376.9ZM254.8 374.1L257.5 375.4L257.4 379.5L254.7 378.2ZM257.5 375.4L260.1 376.7L260.1 380.8L257.4 379.5ZM260.1 376.7L262.7 378.1L262.7 382.2L260.1 380.8ZM262.7 378.1L265.2 379.4L265.2 383.5L262.7 382.2ZM265.2 379.4L267.7 380.8L267.6 384.9L265.2 383.5ZM249.1 375.6L251.9 376.9L251.9 381L249 379.8ZM251.9 376.9L254.7 378.2L254.7 382.3L251.9 381ZM254.7 378.2L257.4 379.5L257.4 383.6L254.7 382.3ZM257.4 379.5L260.1 380.8L260.1 385L257.4 383.6ZM260.1 380.8L262.7 382.2L262.6 386.3L260.1 385ZM262.7 382.2L265.2 383.5L265.2 387.7L262.6 386.3ZM265.2 383.5L267.6 384.9L267.6 389L265.2 387.7ZM246.1 378.5L249 379.8L249 383.9L246.1 382.7ZM249 379.8L251.9 381L251.9 385.2L249 383.9ZM251.9 381L254.7 382.3L254.7 386.5L251.9 385.2ZM254.7 382.3L257.4 383.6L257.4 387.8L254.7 386.5ZM257.4 383.6L260.1 385L260 389.1L257.4 387.8ZM260.1 385L262.6 386.3L262.6 390.4L260 389.1ZM262.6 386.3L265.2 387.7L265.1 391.8L262.6 390.4ZM265.2 387.7L267.6 389L267.6 393.1L265.1 391.8ZM243 381.4L246.1 382.7L246 386.8L243 385.6ZM246.1 382.7L249 383.9L249 388L246 386.8ZM249 383.9L251.9 385.2L251.9 389.3L249 388ZM251.9 385.2L254.7 386.5L254.6 390.6L251.9 389.3ZM254.7 386.5L257.4 387.8L257.3 391.9L254.6 390.6ZM257.4 387.8L260 389.1L260 393.2L257.3 391.9ZM260 389.1L262.6 390.4L262.6 394.6L260 393.2ZM262.6 390.4L265.1 391.8L265.1 395.9L262.6 394.6ZM265.1 391.8L267.6 393.1L267.5 397.3L265.1 395.9ZM236.7 383.2L239.9 384.4L239.9 388.5L236.7 387.4ZM239.9 384.4L243 385.6L243 389.7L239.9 388.5ZM243 385.6L246 386.8L246 390.9L243 389.7ZM246 386.8L249 388L249 392.2L246 390.9ZM249 388L251.9 389.3L251.8 393.4L249 392.2ZM251.9 389.3L254.6 390.6L254.6 394.7L251.8 393.4ZM254.6 390.6L257.3 391.9L257.3 396L254.6 394.7ZM257.3 391.9L260 393.2L260 397.3L257.3 396ZM260 393.2L262.6 394.6L262.5 398.7L260 397.3ZM262.6 394.6L265.1 395.9L265 400L262.5 398.7ZM265.1 395.9L267.5 397.3L267.5 401.4L265 400ZM233.4 386.2L236.7 387.4L236.7 391.5L233.4 390.4ZM236.7 387.4L239.9 388.5L239.9 392.7L236.7 391.5ZM239.9 388.5L243 389.7L243 393.9L239.9 392.7ZM243 389.7L246 390.9L246 395.1L243 393.9ZM246 390.9L249 392.2L248.9 396.3L246 395.1ZM249 392.2L251.8 393.4L251.8 397.6L248.9 396.3ZM251.8 393.4L254.6 394.7L254.6 398.9L251.8 397.6ZM254.6 394.7L257.3 396L257.3 400.2L254.6 398.9ZM257.3 396L260 397.3L259.9 401.5L257.3 400.2ZM260 397.3L262.5 398.7L262.5 402.8L259.9 401.5ZM262.5 398.7L265 400L265 404.1L262.5 402.8ZM265 400L267.5 401.4L267.4 405.5L265 404.1ZM226.6 388.2L230 389.3L230 393.4L226.6 392.4ZM230 389.3L233.4 390.4L233.4 394.5L230 393.4ZM233.4 390.4L236.7 391.5L236.7 395.7L233.4 394.5ZM236.7 391.5L239.9 392.7L239.8 396.8L236.7 395.7ZM239.9 392.7L243 393.9L243 398L239.8 396.8ZM243 393.9L246 395.1L246 399.2L243 398ZM246 395.1L248.9 396.3L248.9 400.5L246 399.2ZM248.9 396.3L251.8 397.6L251.8 401.7L248.9 400.5ZM251.8 397.6L254.6 398.9L254.5 403L251.8 401.7ZM254.6 398.9L257.3 400.2L257.2 404.3L254.5 403ZM257.3 400.2L259.9 401.5L259.9 405.6L257.2 404.3ZM259.9 401.5L262.5 402.8L262.5 406.9L259.9 405.6ZM262.5 402.8L265 404.1L265 408.3L262.5 406.9ZM265 404.1L267.4 405.5L267.4 409.6L265 408.3ZM215.7 389.4L219.4 390.3L219.4 394.5L215.7 393.5ZM219.4 390.3L223 391.3L223 395.5L219.4 394.5ZM223 391.3L226.6 392.4L226.6 396.5L223 395.5ZM226.6 392.4L230 393.4L230 397.6L226.6 396.5ZM230 393.4L233.4 394.5L233.4 398.7L230 397.6ZM233.4 394.5L236.7 395.7L236.6 399.8L233.4 398.7ZM236.7 395.7L239.8 396.8L239.8 401L236.6 399.8ZM239.8 396.8L243 398L242.9 402.2L239.8 401ZM243 398L246 399.2L245.9 403.4L242.9 402.2ZM246 399.2L248.9 400.5L248.9 404.6L245.9 403.4ZM248.9 400.5L251.8 401.7L251.7 405.9L248.9 404.6ZM251.8 401.7L254.5 403L254.5 407.1L251.7 405.9ZM254.5 403L257.2 404.3L257.2 408.4L254.5 407.1ZM257.2 404.3L259.9 405.6L259.9 409.7L257.2 408.4ZM259.9 405.6L262.5 406.9L262.4 411.1L259.9 409.7ZM262.5 406.9L265 408.3L264.9 412.4L262.4 411.1ZM265 408.3L267.4 409.6L267.4 413.7L264.9 412.4ZM200 390.1L204 390.9L204 395.1L200 394.3ZM204 390.9L208 391.8L208 395.9L204 395.1ZM208 391.8L211.9 392.6L211.9 396.8L208 395.9ZM211.9 392.6L215.7 393.5L215.7 397.7L211.9 396.8ZM215.7 393.5L219.4 394.5L219.4 398.7L215.7 397.7ZM219.4 394.5L223 395.5L223 399.6L219.4 398.7ZM223 395.5L226.6 396.5L226.5 400.7L223 399.6ZM226.6 396.5L230 397.6L230 401.7L226.5 400.7ZM230 397.6L233.4 398.7L233.3 402.8L230 401.7ZM233.4 398.7L236.6 399.8L236.6 404L233.3 402.8ZM236.6 399.8L239.8 401L239.8 405.1L236.6 404ZM239.8 401L242.9 402.2L242.9 406.3L239.8 405.1ZM242.9 402.2L245.9 403.4L245.9 407.5L242.9 406.3ZM245.9 403.4L248.9 404.6L248.8 408.7L245.9 407.5ZM248.9 404.6L251.7 405.9L251.7 410L248.8 408.7ZM251.7 405.9L254.5 407.1L254.5 411.3L251.7 410ZM254.5 407.1L257.2 408.4L257.2 412.5L254.5 411.3ZM257.2 408.4L259.9 409.7L259.8 413.9L257.2 412.5ZM259.9 409.7L262.4 411.1L262.4 415.2L259.8 413.9ZM262.4 411.1L264.9 412.4L264.9 416.5L262.4 415.2ZM264.9 412.4L267.4 413.7L267.3 417.9L264.9 416.5ZM191.8 392.9L195.9 393.6L195.9 397.7L191.8 397ZM195.9 393.6L200 394.3L200 398.5L195.9 397.7ZM200 394.3L204 395.1L204 399.3L200 398.5ZM204 395.1L208 395.9L208 400.1L204 399.3ZM208 395.9L211.9 396.8L211.9 401L208 400.1ZM211.9 396.8L215.7 397.7L215.7 401.9L211.9 401ZM215.7 397.7L219.4 398.7L219.4 402.8L215.7 401.9ZM219.4 398.7L223 399.6L223 403.8L219.4 402.8ZM223 399.6L226.5 400.7L226.5 404.8L223 403.8ZM226.5 400.7L230 401.7L230 405.9L226.5 404.8ZM230 401.7L233.3 402.8L233.3 407L230 405.9ZM233.3 402.8L236.6 404L236.6 408.1L233.3 407ZM236.6 404L239.8 405.1L239.8 409.3L236.6 408.1ZM239.8 405.1L242.9 406.3L242.9 410.4L239.8 409.3ZM242.9 406.3L245.9 407.5L245.9 411.6L242.9 410.4ZM245.9 407.5L248.8 408.7L248.8 412.9L245.9 411.6ZM248.8 408.7L251.7 410L251.7 414.1L248.8 412.9ZM251.7 410L254.5 411.3L254.4 415.4L251.7 414.1ZM254.5 411.3L257.2 412.5L257.2 416.7L254.4 415.4ZM257.2 412.5L259.8 413.9L259.8 418L257.2 416.7ZM259.8 413.9L262.4 415.2L262.3 419.3L259.8 418ZM262.4 415.2L264.9 416.5L264.8 420.6L262.3 419.3ZM264.9 416.5L267.3 417.9L267.3 422L264.8 420.6ZM183.3 395.7L187.6 396.4L187.6 400.6L183.3 399.9ZM187.6 396.4L191.8 397L191.8 401.2L187.6 400.6ZM191.8 397L195.9 397.7L195.9 401.9L191.8 401.2ZM195.9 397.7L200 398.5L200 402.7L195.9 401.9ZM200 398.5L204 399.3L204 403.4L200 402.7ZM204 399.3L208 400.1L208 404.3L204 403.4ZM208 400.1L211.9 401L211.8 405.1L208 404.3ZM211.9 401L215.7 401.9L215.6 406L211.8 405.1ZM215.7 401.9L219.4 402.8L219.4 407L215.6 406ZM219.4 402.8L223 403.8L223 408L219.4 407ZM223 403.8L226.5 404.8L226.5 409L223 408ZM226.5 404.8L230 405.9L230 410L226.5 409ZM230 405.9L233.3 407L233.3 411.1L230 410ZM233.3 407L236.6 408.1L236.6 412.3L233.3 411.1ZM236.6 408.1L239.8 409.3L239.8 413.4L236.6 412.3ZM239.8 409.3L242.9 410.4L242.9 414.6L239.8 413.4ZM242.9 410.4L245.9 411.6L245.9 415.8L242.9 414.6ZM245.9 411.6L248.8 412.9L248.8 417L245.9 415.8ZM248.8 412.9L251.7 414.1L251.6 418.3L248.8 417ZM251.7 414.1L254.4 415.4L254.4 419.5L251.6 418.3ZM254.4 415.4L257.2 416.7L257.1 420.8L254.4 419.5ZM257.2 416.7L259.8 418L259.7 422.1L257.1 420.8ZM259.8 418L262.3 419.3L262.3 423.4L259.7 422.1ZM262.3 419.3L264.8 420.6L264.8 424.8L262.3 423.4ZM264.8 420.6L267.3 422L267.2 426.1L264.8 424.8ZM170.4 398.2L174.7 398.8L174.7 403L170.4 402.4ZM174.7 398.8L179.1 399.3L179.1 403.5L174.7 403ZM179.1 399.3L183.3 399.9L183.3 404.1L179.1 403.5ZM183.3 399.9L187.6 400.6L187.6 404.7L183.3 404.1ZM187.6 400.6L191.8 401.2L191.8 405.4L187.6 404.7ZM191.8 401.2L195.9 401.9L195.9 406.1L191.8 405.4ZM195.9 401.9L200 402.7L200 406.8L195.9 406.1ZM200 402.7L204 403.4L204 407.6L200 406.8ZM204 403.4L208 404.3L208 408.4L204 407.6ZM208 404.3L211.8 405.1L211.8 409.3L208 408.4ZM211.8 405.1L215.6 406L215.6 410.2L211.8 409.3ZM215.6 406L219.4 407L219.3 411.1L215.6 410.2ZM219.4 407L223 408L223 412.1L219.3 411.1ZM223 408L226.5 409L226.5 413.1L223 412.1ZM226.5 409L230 410L229.9 414.2L226.5 413.1ZM230 410L233.3 411.1L233.3 415.3L229.9 414.2ZM233.3 411.1L236.6 412.3L236.6 416.4L233.3 415.3ZM236.6 412.3L239.8 413.4L239.7 417.6L236.6 416.4ZM239.8 413.4L242.9 414.6L242.8 418.7L239.7 417.6ZM242.9 414.6L245.9 415.8L245.8 419.9L242.8 418.7ZM245.9 415.8L248.8 417L248.8 421.1L245.8 419.9ZM248.8 417L251.6 418.3L251.6 422.4L248.8 421.1ZM251.6 418.3L254.4 419.5L254.4 423.7L251.6 422.4ZM254.4 419.5L257.1 420.8L257.1 424.9L254.4 423.7ZM257.1 420.8L259.7 422.1L259.7 426.2L257.1 424.9ZM259.7 422.1L262.3 423.4L262.3 427.6L259.7 426.2ZM262.3 423.4L264.8 424.8L264.8 428.9L262.3 427.6ZM264.8 424.8L267.2 426.1L267.2 430.2L264.8 428.9Z"/>
<path d="M170.2 297.7L170.4 402.5" stroke="#001a40" stroke-width="1" fill="none"/>
<circle class="p" cx="170" cy="360" r="1.4"/>
<circle class="p" cx="173" cy="362.4" r="1.4"/>
<circle class="p" cx="149.7" cy="349.5" r="1.3"/>
<circle class="p" cx="205.7" cy="363.4" r="1.2"/>
<circle class="p" cx="191.5" cy="366.4" r="1.6"/>
<circle class="p" cx="150.3" cy="349.2" r="1.7"/>
<circle class="p" cx="157.2" cy="356.3" r="1.7"/>
<circle class="p" cx="188.3" cy="362.2" r="1.8"/>
<circle class="p" cx="185.9" cy="360.3" r="1.4"/>
<circle class="p" cx="177.4" cy="357.6" r="1.4"/>
<circle class="p" cx="179.2" cy="354.3" r="1.7"/>
<circle class="p" cx="187.8" cy="368.1" r="1.5"/>
<circle class="p" cx="198.8" cy="357.6" r="1.3"/>
<circle class="p" cx="200.8" cy="376.2" r="1.3"/>
<circle class="p" cx="149.8" cy="346.8" r="1.5"/>
<circle class="p" cx="169.3" cy="347.3" r="1.9"/>
<circle class="p" cx="188.2" cy="349.1" r="2.4"/>
<circle class="p" cx="194.2" cy="363" r="1.5"/>
<circle class="p" cx="192.9" cy="370" r="1.3"/>
<circle class="p" cx="194.5" cy="359.9" r="1.3"/>
<circle class="p" cx="158.9" cy="354.6" r="1.7"/>
<circle class="p" cx="164.6" cy="355.6" r="1.5"/>
<circle class="p" cx="152.7" cy="345.5" r="2"/>
<circle class="p" cx="208.3" cy="365.2" r="1.3"/>
<circle class="p" cx="172.5" cy="366" r="1.2"/>
<circle class="p" cx="163.5" cy="345.1" r="1.3"/>
<circle class="p" cx="188.8" cy="359.1" r="1.3"/>
<circle class="p" cx="187.2" cy="359.3" r="2.5"/>
<circle class="p" cx="183.6" cy="352.1" r="1.5"/>
<circle class="p" cx="202.4" cy="356.4" r="2"/>
<circle class="p" cx="174.9" cy="354.3" r="1.6"/>
<circle class="p" cx="151.8" cy="353.3" r="1.2"/>
<circle class="p" cx="171.1" cy="355.7" r="1.2"/>
<circle class="p" cx="172.8" cy="356" r="1.5"/>
<circle class="p" cx="190.6" cy="362" r="1.3"/>
<circle class="p" cx="155.7" cy="355.9" r="2.1"/>
<circle class="p" cx="180.1" cy="355.1" r="1.3"/>
<circle class="p" cx="165.8" cy="354.8" r="1.7"/>
<circle class="p" cx="148.6" cy="357.4" r="1.4"/>
<circle class="p" cx="148.9" cy="349.2" r="1.6"/>
<circle class="p" cx="208.3" cy="361.7" r="1.2"/>
<circle class="p" cx="201.8" cy="357.8" r="1.5"/>
<circle class="p" cx="170.4" cy="357.1" r="2.6"/>
<circle class="p" cx="204.2" cy="372" r="2"/>
<circle class="p" cx="163.1" cy="349" r="1.1"/>
<circle class="p" cx="166.8" cy="354.2" r="1.4"/>
<circle class="p" cx="214.9" cy="352.4" r="3.4"/>
<circle class="p" cx="172.9" cy="360.1" r="1.2"/>
<circle class="p" cx="161" cy="355.7" r="2.6"/>
<circle class="p" cx="181" cy="364.9" r="2"/>
<circle class="p" cx="153" cy="345.7" r="2"/>
<circle class="p" cx="180.9" cy="347.6" r="1.5"/>
<circle class="p" cx="170.6" cy="360" r="1.3"/>
<circle class="p" cx="214.2" cy="350.6" r="1.7"/>
<circle class="p" cx="156" cy="359.4" r="1.7"/>
<circle class="p" cx="205.7" cy="372.1" r="2.5"/>
<circle class="p" cx="171.9" cy="353" r="1.6"/>
<circle class="p" cx="193.1" cy="359.2" r="1.6"/>
<circle class="p" cx="177.8" cy="364" r="1.2"/>
<circle class="p" cx="167.8" cy="347.7" r="1.4"/>
<circle class="p" cx="165.4" cy="352" r="2.3"/>
<circle class="p" cx="179.5" cy="358.7" r="1.6"/>
<circle class="p" cx="176.9" cy="362.3" r="1.4"/>
<circle class="p" cx="148.3" cy="347.9" r="1.2"/>
<circle class="p" cx="147.3" cy="351.9" r="1.5"/>
<circle class="p" cx="186.5" cy="355.5" r="1.4"/>
<circle class="p" cx="186.4" cy="359.2" r="1.2"/>
<circle class="p" cx="166.7" cy="352.2" r="1.9"/>
<circle class="p" cx="186.9" cy="359.5" r="1.4"/>
<circle class="p" cx="182.9" cy="346.1" r="1.4"/>
<circle class="p" cx="179.1" cy="351.2" r="2.5"/>
<circle class="p" cx="209.2" cy="362" r="2.3"/>
<circle class="p" cx="186.7" cy="368.4" r="1.2"/>
<circle class="p" cx="178.4" cy="353.5" r="1.2"/>
<circle class="p" cx="152.2" cy="347.3" r="1.7"/>
<circle class="p" cx="197.8" cy="352.7" r="1.7"/>
<circle class="p" cx="209.7" cy="367.1" r="2.3"/>
<circle class="p" cx="181.6" cy="356.9" r="3.3"/>
<circle class="p" cx="158.5" cy="347.2" r="1.2"/>
<circle class="p" cx="169.6" cy="358" r="1.6"/>
<circle class="p" cx="186.3" cy="357.7" r="1.4"/>
<circle class="p" cx="183.4" cy="358.5" r="1.6"/>
<circle class="p" cx="203" cy="364.5" r="1.1"/>
<circle class="p" cx="202.3" cy="361.4" r="1.2"/>
<circle class="p" cx="177" cy="365.3" r="1.2"/>
<circle class="p" cx="212.3" cy="358.6" r="1.5"/>
<circle class="p" cx="153.4" cy="359.8" r="1.1"/>
<circle class="p" cx="213.6" cy="367" r="2"/>
<circle class="p" cx="152.9" cy="353.2" r="1.8"/>
<circle class="p" cx="171.1" cy="354" r="1.6"/>
<circle class="p" cx="166" cy="359.1" r="1.2"/>
<circle class="p" cx="158.5" cy="357.9" r="1.2"/>
<circle class="p" cx="169.2" cy="352.1" r="1.4"/>
<circle class="p" cx="159.6" cy="361.9" r="1.1"/>
<circle class="p" cx="164.8" cy="363.1" r="1.2"/>
<circle class="p" cx="180.7" cy="358.4" r="2.2"/>
<circle class="p" cx="205.1" cy="356.7" r="1.8"/>
<circle class="p" cx="183" cy="360.6" r="2.1"/>
<circle class="p" cx="171.3" cy="359.8" r="1.8"/>
<circle class="p" cx="171.7" cy="348.4" r="1.2"/>
<circle class="p" cx="152" cy="351.6" r="1.1"/>
<circle class="p" cx="206.7" cy="358.6" r="1.9"/>
<circle class="p" cx="167" cy="355" r="1.2"/>
<circle class="p" cx="178.7" cy="361.6" r="1.6"/>
<circle class="p" cx="216.1" cy="360.7" r="2.3"/>
<circle class="p" cx="172.3" cy="354.7" r="1.3"/>
<circle class="p" cx="180.7" cy="353.9" r="1.1"/>
<circle class="p" cx="165.8" cy="354.5" r="1.3"/>
<circle class="p" cx="150" cy="355.9" r="1.4"/>
<circle class="p" cx="184.6" cy="359" r="1.9"/>
<circle class="p" cx="197.8" cy="364.9" r="1.6"/>
<circle class="p" cx="157.6" cy="349.2" r="1.9"/>
<circle class="p" cx="150.1" cy="357.2" r="2"/>
<circle class="p" cx="204.7" cy="352.5" r="1.4"/>
<circle class="p" cx="182.8" cy="362.9" r="1.9"/>
<circle class="p" cx="210.4" cy="355.1" r="1.9"/>
<circle class="p" cx="163.3" cy="356.9" r="1.2"/>
<circle class="p" cx="206.3" cy="363.2" r="1.4"/>
<circle class="p" cx="191.5" cy="357.1" r="1.5"/>
<circle class="p" cx="200.1" cy="355.7" r="1.4"/>
<circle class="p" cx="193.8" cy="368.2" r="1.1"/>
<circle class="p" cx="165.9" cy="358.1" r="1.7"/>
<circle class="p" cx="199.5" cy="367.5" r="1.3"/>
<circle class="p" cx="195.5" cy="359.6" r="1.9"/>
<circle class="p" cx="192.6" cy="362.6" r="1.5"/>
<circle class="p" cx="168.6" cy="356.5" r="1.1"/>
<circle class="p" cx="151.3" cy="350.7" r="1.9"/>
<circle class="p" cx="167.7" cy="362.9" r="1.3"/>
<circle class="p" cx="180.1" cy="365.8" r="1.6"/>
<circle class="p" cx="213.5" cy="371.8" r="1.3"/>
<circle class="p" cx="205.2" cy="368.2" r="1.2"/>
<circle class="p" cx="214.1" cy="363.1" r="1.4"/>
<circle class="p" cx="157.1" cy="339.6" r="1.5"/>
<circle class="p" cx="183.1" cy="356" r="2"/>
<circle class="p" cx="163.4" cy="359.1" r="1.1"/>
<circle class="p" cx="181.9" cy="354" r="1.3"/>
<circle class="p" cx="157" cy="350.2" r="1.6"/>
<circle class="p" cx="200.3" cy="365.4" r="1.7"/>
<circle class="p" cx="212.8" cy="361.3" r="1.3"/>
<circle class="p" cx="174.9" cy="345.1" r="3.2"/>
<circle class="p" cx="172.6" cy="352" r="1.2"/>
<circle class="p" cx="206.3" cy="364.5" r="1.6"/>
<circle class="p" cx="164.7" cy="353.7" r="1.3"/>
<circle class="p" cx="214.9" cy="370.8" r="2"/>
<circle class="p" cx="191.8" cy="370.7" r="1.5"/>
<circle class="p" cx="150.5" cy="344.9" r="1.8"/>
<circle class="p" cx="200.4" cy="358.8" r="1.6"/>
<circle class="p" cx="156" cy="349.1" r="1.3"/>
<circle class="p" cx="168.1" cy="354" r="1.4"/>
<circle class="p" cx="168.4" cy="340.3" r="1.3"/>
<circle class="p" cx="158.9" cy="355.1" r="2.4"/>
<circle class="p" cx="162.6" cy="357.1" r="2.7"/>
<circle class="p" cx="178.9" cy="359.4" r="1.3"/>
<circle class="p" cx="153.5" cy="354.8" r="1.2"/>
<circle class="p" cx="187.4" cy="365.7" r="1.3"/>
<circle class="p" cx="184.2" cy="352.4" r="1.3"/>
<circle class="p" cx="151.4" cy="349.2" r="1.4"/>
<circle class="p" cx="191.7" cy="373.7" r="1.7"/>
<circle class="p" cx="166.2" cy="354.7" r="1.6"/>
<circle class="p" cx="207.3" cy="368.3" r="1.6"/>
<circle class="p" cx="149.3" cy="348.4" r="1.4"/>
<circle class="p" cx="147" cy="339.7" r="1.6"/>
<circle class="p" cx="205.6" cy="371.4" r="1.2"/>
<circle class="p" cx="158" cy="341.6" r="1.4"/>
<circle class="p" cx="213.8" cy="362.8" r="1.8"/>
<circle class="p" cx="186.2" cy="351" r="1.5"/>
<circle class="p" cx="163.5" cy="360.9" r="1.2"/>
<circle class="p" cx="164.9" cy="350.6" r="1.9"/>
<circle class="p" cx="155" cy="358.3" r="1.3"/>
<circle class="p" cx="162.9" cy="356.8" r="1.6"/>
<circle class="p" cx="168.4" cy="341.9" r="2"/>
<circle class="p" cx="180.7" cy="360.9" r="1.2"/>
<circle class="p" cx="215.2" cy="363.1" r="1.3"/>
<circle class="p" cx="194.9" cy="355.9" r="1.2"/>
<circle class="p" cx="194.4" cy="363.7" r="1.3"/>
<circle class="p" cx="176.9" cy="355" r="1.7"/>
<circle class="p" cx="203.6" cy="361.7" r="1.6"/>
<circle class="p" cx="169.1" cy="348.8" r="1.7"/>
<circle class="p" cx="162.7" cy="354.2" r="2.4"/>
<circle class="p" cx="160.3" cy="349" r="1.3"/>
<circle class="p" cx="194.2" cy="363.1" r="1.2"/>
<circle class="p" cx="216.2" cy="363.7" r="1.1"/>
<circle class="p" cx="151.3" cy="342.6" r="2"/>
<circle class="p" cx="217.8" cy="372.1" r="2.3"/>
<circle class="p" cx="160.2" cy="361.7" r="1.4"/>
<circle class="p" cx="173.9" cy="352.7" r="1.3"/>
<circle class="p" cx="159" cy="357.6" r="1.6"/>
<circle class="p" cx="155.8" cy="352.6" r="2.2"/>
<circle class="p" cx="172.3" cy="360.2" r="1.1"/>
<circle class="p" cx="180.6" cy="348.5" r="1.6"/>
<circle class="p" cx="160.7" cy="346" r="1.3"/>
<circle class="p" cx="204.6" cy="371" r="1.6"/>
<circle class="p" cx="149.5" cy="362.5" r="1.5"/>
<circle class="p" cx="210.8" cy="368.2" r="1.2"/>
<circle class="p" cx="215" cy="361.3" r="1.8"/>
<circle class="p" cx="166.6" cy="351.9" r="1.5"/>
<circle class="p" cx="212.1" cy="355.2" r="1.2"/>
<circle class="p" cx="180.7" cy="347.9" r="2.7"/>
<circle class="p" cx="174.4" cy="356.3" r="1.6"/>
<circle class="p" cx="160" cy="359.1" r="2"/>
<circle class="p" cx="205.4" cy="363.5" r="1.3"/>
<circle class="p" cx="172.7" cy="348.6" r="1.6"/>
<circle class="p" cx="161" cy="353.7" r="1.1"/>
<circle class="p" cx="186.2" cy="354.6" r="1.6"/>
<circle class="p" cx="209.7" cy="367.6" r="1.1"/>
<circle class="p" cx="182.4" cy="357.6" r="1.8"/>
<circle class="p" cx="163.6" cy="347.6" r="2"/>
<circle class="p" cx="207.1" cy="366.6" r="1.7"/>
<circle class="p" cx="206.7" cy="360.8" r="1.5"/>
<circle class="p" cx="161.1" cy="360.4" r="1.2"/>
<circle class="p" cx="157.9" cy="358.3" r="1.3"/>
<circle class="p" cx="217.5" cy="360.2" r="1.2"/>
<circle class="p" cx="204.4" cy="352.8" r="1.3"/>
<circle class="p" cx="205.2" cy="348.8" r="2.1"/>
<circle class="p" cx="149.9" cy="350.6" r="1.6"/>
<circle class="p" cx="188.4" cy="361.7" r="2.3"/>
<circle class="p" cx="208.5" cy="359.1" r="2.1"/>
<circle class="p" cx="154.5" cy="353.6" r="1.4"/>
<circle class="p" cx="162.5" cy="351.9" r="1.2"/>
<circle class="p" cx="189.6" cy="361.5" r="1.7"/>
<circle class="p" cx="147.8" cy="347.2" r="1.3"/>
<circle class="p" cx="161.4" cy="360.9" r="1.9"/>
<circle class="p" cx="151.5" cy="356.1" r="1.4"/>
<circle class="p" cx="153.5" cy="355.3" r="1.4"/>
<circle class="p" cx="176.1" cy="355.7" r="2.3"/>
<circle class="p" cx="187.2" cy="363.4" r="1.3"/>
<circle class="p" cx="208.4" cy="368.2" r="1.5"/>
<circle class="p" cx="161.5" cy="353.6" r="1.6"/>
<circle class="p" cx="177.1" cy="359.2" r="1.8"/>
<circle class="p" cx="158.5" cy="348.1" r="1.4"/>
<circle class="p" cx="192.5" cy="361.9" r="1.8"/>
<circle class="p" cx="182.8" cy="356.7" r="1.2"/>
<circle class="p" cx="184" cy="360.5" r="1.5"/>
<circle class="p" cx="215.6" cy="363.4" r="1.2"/>
<circle class="p" cx="214" cy="370.3" r="1.6"/>
<circle class="p" cx="174.5" cy="355.4" r="2.5"/>
<circle class="p" cx="205.5" cy="367.6" r="1.3"/>
<circle class="p" cx="207.1" cy="370.8" r="1.7"/>
<circle class="p" cx="162.5" cy="348.6" r="1.2"/>
<circle class="p" cx="164.5" cy="358.2" r="2"/>
<circle class="p" cx="149.9" cy="343" r="1.5"/>
<circle class="p" cx="155.4" cy="349" r="1.4"/>
<circle class="p" cx="191.5" cy="357.8" r="1.3"/>
<circle class="p" cx="193.8" cy="365.4" r="1.3"/>
<circle class="p" cx="148.7" cy="346.5" r="1.5"/>
<circle class="p" cx="202.4" cy="357.6" r="1.2"/>
<circle class="p" cx="180.6" cy="359.7" r="1.1"/>
<circle class="p" cx="178.4" cy="358.8" r="1.1"/>
<circle class="p" cx="192.2" cy="367.5" r="1.9"/>
<circle class="p" cx="150.9" cy="355.9" r="1.3"/>
<circle class="p" cx="214.5" cy="371.3" r="3.3"/>
<circle class="p" cx="204.9" cy="370.4" r="1.6"/>
<circle class="p" cx="181.9" cy="369.4" r="1.5"/>
<circle class="p" cx="213.1" cy="360.8" r="1.3"/>
<circle class="p" cx="200.7" cy="367.8" r="1.5"/>
<circle class="p" cx="157.2" cy="362.5" r="1.6"/>
<circle class="p" cx="161.8" cy="353.2" r="1.1"/>
<circle class="p" cx="159.9" cy="359.8" r="1.6"/>
<circle class="p" cx="195.3" cy="363.1" r="1.7"/>
<circle class="p" cx="184.7" cy="356.3" r="1.8"/>
<circle class="p" cx="209" cy="356.5" r="1.7"/>
<circle class="p" cx="217.5" cy="362.5" r="1.8"/>
<circle class="p" cx="203.6" cy="360.6" r="1.3"/>
<circle class="p" cx="201.3" cy="378.1" r="1.2"/>
<circle class="p" cx="199.8" cy="370.9" r="1.4"/>
<circle class="p" cx="216.9" cy="367.8" r="1.4"/>
<circle class="p" cx="169.2" cy="356.7" r="1.4"/>
<circle class="p" cx="177.7" cy="357" r="1.5"/>
<circle class="p" cx="156.4" cy="353.8" r="1.1"/>
<circle class="p" cx="172.2" cy="363.6" r="1.3"/>
<circle class="p" cx="161.2" cy="347.6" r="1.4"/>
<circle class="p" cx="173.7" cy="353.5" r="1.6"/>
<circle class="p" cx="162.2" cy="357.7" r="2"/>
<circle class="p" cx="189.1" cy="363.8" r="1.2"/>
<circle class="p" cx="150.6" cy="348" r="1.4"/>
<circle class="p" cx="172.2" cy="350.7" r="2.5"/>
<circle class="p" cx="162.4" cy="357.6" r="1.3"/>
<circle class="p" cx="161.9" cy="354.6" r="1.5"/>
<circle class="p" cx="150.6" cy="337.7" r="1.2"/>
<circle class="p" cx="180.4" cy="354.2" r="1.4"/>
<circle class="p" cx="190.7" cy="364.3" r="1.1"/>
<circle class="p" cx="194.5" cy="367.7" r="2"/>
<circle class="p" cx="150.3" cy="359.9" r="1.5"/>
<circle class="p" cx="172.6" cy="348.3" r="1.2"/>
<circle class="p" cx="161.6" cy="361.9" r="1.9"/>
<circle class="p" cx="192.3" cy="363.4" r="1.7"/>
<circle class="p" cx="177.7" cy="347.6" r="1.2"/>
<circle class="p" cx="182.1" cy="364.6" r="2.2"/>
<circle class="p" cx="194" cy="367.6" r="1.5"/>
<circle class="p" cx="197.2" cy="363.4" r="1.8"/>
<circle class="p" cx="194" cy="359.7" r="2.5"/>
<circle class="p" cx="184.6" cy="364.9" r="2.1"/>
<circle class="p" cx="173.5" cy="363.9" r="1.8"/>
<circle class="p" cx="186.2" cy="351.5" r="1.3"/>
<circle class="p" cx="160.6" cy="353.5" r="2.2"/>
<circle class="p" cx="151.3" cy="351.7" r="1.6"/>
<circle class="p" cx="167.2" cy="357.9" r="1.4"/>
<circle class="p" cx="181.7" cy="361.1" r="2"/>
<circle class="p" cx="153.3" cy="348.5" r="2"/>
<circle class="p" cx="194.6" cy="358.7" r="1.5"/>
<circle class="p" cx="195.7" cy="365.7" r="1.2"/>
<circle class="p" cx="151.7" cy="352.6" r="2"/>
<circle class="p" cx="181.7" cy="364.2" r="1.1"/>
<circle class="p" cx="154.9" cy="345.6" r="1.7"/>
<circle class="p" cx="166" cy="355.3" r="1.2"/>
<circle class="p" cx="185.8" cy="361.2" r="1.3"/>
<circle class="p" cx="198.2" cy="349.4" r="1.6"/>
<circle class="p" cx="170.6" cy="357.2" r="1.5"/>
<circle class="p" cx="167.3" cy="354.4" r="1.5"/>
<circle class="p" cx="154.5" cy="346" r="1.7"/>
<circle class="p" cx="150.1" cy="356.9" r="2.1"/>
<circle class="p" cx="174.5" cy="369.6" r="1.5"/>
<circle class="p" cx="159.2" cy="348.8" r="1.7"/>
<circle class="p" cx="197.2" cy="363.1" r="1.2"/>
<circle class="p" cx="185" cy="357" r="1.6"/>
<circle class="p" cx="189.4" cy="361.3" r="2"/>
<circle class="p" cx="181.4" cy="355.3" r="1.5"/>
<circle class="p" cx="154.3" cy="359.8" r="1.6"/>
<circle class="p" cx="160.3" cy="354.2" r="1.3"/>
<circle class="p" cx="194.2" cy="377.2" r="1.3"/>
<circle class="p" cx="176.6" cy="359" r="1.8"/>
<circle class="p" cx="166.3" cy="345" r="1.5"/>
<circle class="p" cx="183.1" cy="359.8" r="1.5"/>
<circle class="p" cx="179" cy="354.9" r="1.3"/>
<circle class="p" cx="194.3" cy="362.6" r="1.5"/>
<circle class="p" cx="192.2" cy="366.4" r="1.2"/>
<circle class="p" cx="162.4" cy="351.9" r="1.3"/>
<circle class="p" cx="159.5" cy="362.8" r="2.5"/>
<circle class="p" cx="155.1" cy="357.6" r="1.6"/>
<circle class="p" cx="189.7" cy="360.6" r="1.8"/>
<circle class="p" cx="225.4" cy="365.5" r="1.3"/>
<circle class="p" cx="217.6" cy="363.7" r="1.5"/>
<circle class="p" cx="249.3" cy="362.9" r="1.2"/>
<circle class="p" cx="245" cy="371.2" r="1.5"/>
<circle class="p" cx="259.6" cy="366.4" r="1.8"/>
<circle class="p" cx="227" cy="371.5" r="2"/>
<circle class="p" cx="253.2" cy="368.9" r="1.9"/>
<circle class="p" cx="237.8" cy="357.8" r="1.4"/>
<circle class="p" cx="220.7" cy="356.7" r="1.9"/>
<circle class="p" cx="228" cy="373.5" r="1.3"/>
<circle class="p" cx="245.8" cy="363.2" r="2.2"/>
<circle class="p" cx="247.4" cy="377" r="1.8"/>
<circle class="p" cx="239.5" cy="372" r="1.2"/>
<circle class="p" cx="253.5" cy="372.6" r="2.4"/>
<circle class="p" cx="220.9" cy="359.4" r="1.9"/>
<circle class="p" cx="246.7" cy="367.9" r="1.9"/>
<circle class="p" cx="235.7" cy="373.7" r="1.8"/>
<circle class="p" cx="252.6" cy="371.3" r="1.6"/>
<circle class="p" cx="233.1" cy="373.9" r="1.1"/>
<circle class="p" cx="236.1" cy="371.4" r="1.4"/>
<circle class="p" cx="232.9" cy="368.5" r="2.1"/>
<circle class="p" cx="241.3" cy="375.2" r="1.5"/>
<circle class="p" cx="234.8" cy="370.1" r="2"/>
<circle class="p" cx="246.4" cy="374.9" r="1.4"/>
<circle class="p" cx="226.8" cy="373.7" r="2"/>
<circle class="p" cx="255.2" cy="371.8" r="1.2"/>
<circle class="p" cx="242.3" cy="379.5" r="1.5"/>
<circle class="p" cx="228.8" cy="376.9" r="1.2"/>
<circle class="p" cx="236.5" cy="369.8" r="1.7"/>
<circle class="p" cx="227.8" cy="368.4" r="1.3"/>
<circle class="p" cx="237.7" cy="366.6" r="1.6"/>
<circle class="p" cx="260.3" cy="369.6" r="1.5"/>
<circle class="p" cx="263" cy="381.3" r="1.9"/>
<circle class="p" cx="215.8" cy="365.9" r="1.6"/>
<circle class="p" cx="249.8" cy="377.6" r="1.2"/>
<circle class="p" cx="256.1" cy="383" r="1.2"/>
<circle class="p" cx="262.9" cy="381.6" r="1.9"/>
<circle class="p" cx="256.4" cy="373.6" r="2"/>
<circle class="p" cx="256.8" cy="382.1" r="1.9"/>
<circle class="p" cx="254.3" cy="373.4" r="1.5"/>
<circle class="p" cx="244.4" cy="375.9" r="1.3"/>
<circle class="p" cx="218.1" cy="377.8" r="1.2"/>
<circle class="p" cx="241" cy="364.6" r="1.6"/>
<circle class="p" cx="259.6" cy="379.6" r="1.4"/>
<circle class="p" cx="250.3" cy="382.4" r="1.6"/>
<circle class="p" cx="219" cy="364" r="1.9"/>
<circle class="p" cx="216.5" cy="360.4" r="2.3"/>
<circle class="p" cx="267" cy="372.3" r="1.3"/>
<circle class="p" cx="262.6" cy="394.1" r="1.8"/>
<circle class="p" cx="260.7" cy="382.8" r="1.3"/>
<circle class="p" cx="242.9" cy="377" r="1.3"/>
<circle class="p" cx="244.4" cy="370.3" r="1.7"/>
<circle class="p" cx="281.6" cy="365.2" r="1.2"/>
<circle class="p" cx="264.1" cy="370.3" r="2"/>
<circle class="p" cx="276.7" cy="376" r="1.4"/>
<circle class="p" cx="272.6" cy="362.5" r="1.5"/>
<circle class="p" cx="284.2" cy="365.6" r="1.3"/>
<circle class="p" cx="282.6" cy="371.2" r="2.5"/>
<circle class="p" cx="273.7" cy="361.4" r="2.5"/>
<circle class="p" cx="273.3" cy="364.9" r="1.9"/>
<circle class="p" cx="277.4" cy="366.9" r="1.8"/>
<circle class="p" cx="279.2" cy="368" r="1.1"/>
<circle class="p" cx="280.9" cy="356.8" r="1.8"/>
<circle class="p" cx="283.3" cy="360.7" r="1.2"/>
<circle class="p" cx="277.2" cy="377.4" r="1.3"/>
<circle class="p" cx="270.9" cy="359.2" r="1.4"/>
<circle class="p" cx="281.7" cy="371.8" r="1.9"/>
<circle class="p" cx="284.2" cy="367.5" r="1.3"/>
<circle class="p" cx="268.1" cy="362.6" r="2.4"/>
<circle class="p" cx="276.8" cy="372.6" r="1.7"/>
<circle class="p" cx="279.6" cy="371.9" r="1.4"/>
<circle class="p" cx="289.3" cy="382.7" r="1.5"/>
<circle class="p" cx="279.7" cy="371.9" r="1.7"/>
<circle class="p" cx="278.6" cy="366.8" r="1.5"/>
<circle class="p" cx="276.5" cy="358.5" r="1.6"/>
<circle class="p" cx="273" cy="363.6" r="1.6"/>
<circle class="p" cx="278.8" cy="370" r="1.4"/>
<circle class="p" cx="279.9" cy="368.6" r="1.5"/>
<circle class="p" cx="284.5" cy="382.2" r="1.1"/>
<circle class="p" cx="274.2" cy="377.3" r="1.4"/>
<circle class="p" cx="285" cy="380.2" r="1.4"/>
<circle class="p" cx="275.1" cy="366.1" r="1.5"/>
<circle class="p" cx="288.1" cy="367.1" r="1.2"/>
<circle class="p" cx="292.8" cy="377.5" r="2"/>
<circle class="p" cx="275.3" cy="378.7" r="2.6"/>
<circle class="p" cx="275.2" cy="367.7" r="1.5"/>
<circle class="p" cx="273" cy="377.9" r="2"/>
<circle class="p" cx="280.6" cy="366" r="1.2"/>
<circle class="p" cx="272.5" cy="375" r="2"/>
<circle class="p" cx="289" cy="374.2" r="2"/>
<circle class="p" cx="275" cy="368.7" r="2"/>
<circle class="p" cx="274.1" cy="357.8" r="1.1"/>
<circle class="p" cx="269.7" cy="367.2" r="1.5"/>
<circle class="p" cx="282.7" cy="369" r="1.9"/>
<circle class="p" cx="275.3" cy="372" r="1.5"/>
<circle class="p" cx="280.6" cy="364" r="1.5"/>
<circle class="p" cx="279.6" cy="366.3" r="1.5"/>
<circle class="p" cx="284" cy="365.8" r="1.4"/>
<circle class="p" cx="280.3" cy="374.9" r="1.5"/>
<circle class="p" cx="274.4" cy="377.4" r="1.4"/>
<circle class="p" cx="280" cy="372.6" r="3.1"/>
<circle class="p" cx="285.1" cy="376.7" r="1.7"/>
<circle class="p" cx="274.9" cy="367.6" r="1.1"/>
<circle class="p" cx="295.4" cy="375.1" r="1.8"/>
<circle class="p" cx="275.1" cy="368.9" r="1.8"/>
<circle class="p" cx="287.9" cy="367.3" r="2.1"/>
<circle class="p" cx="279" cy="372.8" r="1.2"/>
<circle class="p" cx="280.5" cy="372.1" r="1.5"/>
<circle class="p" cx="266.1" cy="375.1" r="2.1"/>
<circle class="p" cx="274.5" cy="367.2" r="1.6"/>
<circle class="p" cx="278.7" cy="379.4" r="2.1"/>
<circle class="p" cx="276.3" cy="365.3" r="1.2"/>
<circle class="p" cx="295.6" cy="366.7" r="1.1"/>
<circle class="p" cx="278.8" cy="377.1" r="2.6"/>
<circle class="p" cx="279.9" cy="369.3" r="2"/>
<circle class="p" cx="269.3" cy="355.9" r="1.2"/>
<circle class="p" cx="279.4" cy="355.6" r="1.7"/>
<circle class="p" cx="271.2" cy="365" r="1.3"/>
<circle class="p" cx="278.9" cy="374.3" r="1.2"/>
<circle class="p" cx="279.2" cy="374.6" r="1.6"/>
<circle class="p" cx="278.3" cy="366.8" r="1.6"/>
<circle class="p" cx="286.7" cy="360.9" r="1.3"/>
<circle class="p" cx="289.4" cy="379.6" r="1.9"/>
<circle class="p" cx="274.2" cy="372.7" r="1.8"/>
<circle class="p" cx="276.9" cy="368.4" r="1.1"/>
<circle class="p" cx="264.6" cy="313.3" r="2"/>
<circle class="p" cx="261" cy="319.6" r="1.8"/>
<circle class="p" cx="265" cy="323.3" r="1.5"/>
<circle class="p" cx="277.4" cy="329.1" r="1.4"/>
<circle class="p" cx="279.9" cy="335.5" r="1.8"/>
<circle class="p" cx="271" cy="339.1" r="1.6"/>
<circle class="p" cx="275" cy="340.9" r="1.6"/>
<circle class="p" cx="285.5" cy="340.4" r="2"/>
<circle class="p" cx="285" cy="346.4" r="1.7"/>
<circle class="p" cx="283.2" cy="349.5" r="1.5"/>
<circle class="p" cx="270.5" cy="345.1" r="1.6"/>
<circle class="p" cx="271.9" cy="350" r="1.9"/>
<circle class="p" cx="271" cy="352.7" r="1.6"/>
<circle class="p" cx="287.7" cy="357.3" r="1.8"/>
<circle class="p" cx="284" cy="359" r="1.6"/>
<circle class="p" cx="113.5" cy="310.5" r="1.1"/>
<circle class="p" cx="141.3" cy="324.8" r="2.3"/>
<circle class="p" cx="141.3" cy="338.5" r="1.9"/>
<circle class="p" cx="188" cy="308.1" r="1.3"/>
<circle class="p" cx="196.5" cy="315.3" r="1.5"/>
<circle class="p" cx="196.5" cy="318.8" r="1.5"/>
<circle class="p" cx="204.7" cy="314.5" r="1.3"/>
<circle class="p" cx="207.9" cy="315.8" r="1.3"/>
<circle class="p" cx="226.6" cy="313.4" r="1.4"/>
<circle class="p" cx="206" cy="324.1" r="1.3"/>
<circle class="p" cx="217.3" cy="327.3" r="1.6"/>
<circle class="p" cx="242.6" cy="322.5" r="1.3"/>
<circle class="p" cx="180" cy="330" r="1.5"/>
<circle class="p" cx="184" cy="327.8" r="1.3"/>
<circle class="p" cx="189.3" cy="330" r="1.4"/>
<circle class="p" cx="160" cy="327.3" r="1.3"/>
<circle class="p" cx="166.6" cy="325.2" r="1.3"/>
<circle class="p" cx="168.8" cy="330" r="1.3"/>
<circle class="p" cx="149.3" cy="331.3" r="1.3"/>
<circle class="p" cx="175.4" cy="338.5" r="1.4"/>
<circle class="p" cx="182.6" cy="336.6" r="1.4"/>
<circle class="p" cx="192" cy="335.8" r="1.3"/>
<circle class="p" cx="209.8" cy="338.5" r="1.4"/>
<circle class="p" cx="238.6" cy="337.4" r="1.3"/>
<circle class="p" cx="249.2" cy="343.3" r="1.3"/>
<circle class="p" cx="255.9" cy="338.5" r="1.3"/>
<circle class="p" cx="158.6" cy="337.4" r="1.3"/>
<circle class="p" cx="166.6" cy="338" r="1.3"/>
<circle class="p" cx="197.3" cy="344.6" r="1.6"/>
<circle class="p" cx="190.6" cy="345.4" r="1.4"/>
<circle class="p" cx="211.9" cy="347.3" r="1.4"/>
<circle class="p" cx="228" cy="347" r="1.4"/>
<circle class="p" cx="240" cy="351" r="1.5"/>
<circle class="p" cx="252" cy="349" r="1.4"/>
<circle class="p" cx="257" cy="356" r="1.4"/>
<circle class="p" cx="176" cy="343" r="1.5"/>
<circle class="p" cx="185" cy="344" r="1.4"/>
<circle class="p" cx="163" cy="342" r="1.4"/>
<circle class="p" cx="170" cy="345" r="1.3"/>
<circle class="p" cx="199.6" cy="374.3" r="3.3"/>
<circle class="p" cx="201" cy="381" r="1.9"/>
<circle class="p" cx="194" cy="384" r="1.5"/>
<circle class="p" cx="160" cy="368" r="2"/>
<circle class="p" cx="152" cy="373" r="1.6"/>
<circle class="p" cx="159.5" cy="375" r="1.3"/>
<circle class="p" cx="213" cy="397" r="1.4"/>
<circle class="p" cx="222" cy="386" r="1.4"/>
<circle class="p" cx="236" cy="391" r="1.5"/>
<circle class="p" cx="247" cy="383" r="1.6"/>
<circle class="p" cx="229" cy="376" r="1.7"/>
<circle class="p" cx="219" cy="400" r="1.2"/>
<path class="n" fill="#057cff" d="M296.1 321.4L299.3 322.8L299.2 325.7L296.1 324.2ZM299.3 322.8L302.4 324.2L302.4 327.1L299.2 325.7ZM302.4 324.2L305.6 325.6L305.6 328.5L302.4 327.1ZM305.6 325.6L308.8 327.1L308.8 329.9L305.6 328.5ZM308.8 327.1L311.9 328.5L311.9 331.3L308.8 329.9ZM311.9 328.5L315.1 329.9L315.1 332.7L311.9 331.3ZM315.1 329.9L318.3 331.3L318.3 334.2L315.1 332.7ZM318.3 331.3L321.4 332.7L321.4 335.6L318.3 334.2ZM321.4 332.7L324.6 334.1L324.6 337L321.4 335.6ZM324.6 334.1L327.8 335.5L327.8 338.4L324.6 337ZM327.8 335.5L330.9 337L330.9 339.8L327.8 338.4ZM330.9 337L334.1 338.4L334.1 341.2L330.9 339.8ZM334.1 338.4L337.2 339.8L337.3 342.7L334.1 341.2ZM337.2 339.8L340.4 341.2L340.4 344.1L337.3 342.7ZM340.4 341.2L343.6 342.6L343.6 345.5L340.4 344.1ZM343.6 342.6L346.7 344L346.8 346.9L343.6 345.5ZM346.7 344L349.9 345.5L349.9 348.3L346.8 346.9ZM349.9 345.5L353.1 346.9L353.1 349.7L349.9 348.3ZM353.1 346.9L356.2 348.3L356.3 351.2L353.1 349.7ZM356.2 348.3L359.4 349.7L359.4 352.6L356.3 351.2ZM296.1 324.2L299.2 325.7L299.2 328.5L296.1 327.1ZM299.2 325.7L302.4 327.1L302.4 329.9L299.2 328.5ZM302.4 327.1L305.6 328.5L305.6 331.3L302.4 329.9ZM305.6 328.5L308.8 329.9L308.7 332.8L305.6 331.3ZM308.8 329.9L311.9 331.3L311.9 334.2L308.7 332.8ZM311.9 331.3L315.1 332.7L315.1 335.6L311.9 334.2ZM315.1 332.7L318.3 334.2L318.3 337L315.1 335.6ZM318.3 334.2L321.4 335.6L321.4 338.4L318.3 337ZM321.4 335.6L324.6 337L324.6 339.9L321.4 338.4ZM324.6 337L327.8 338.4L327.8 341.3L324.6 339.9ZM327.8 338.4L330.9 339.8L330.9 342.7L327.8 341.3ZM330.9 339.8L334.1 341.2L334.1 344.1L330.9 342.7ZM334.1 341.2L337.3 342.7L337.3 345.5L334.1 344.1ZM337.3 342.7L340.4 344.1L340.5 346.9L337.3 345.5ZM340.4 344.1L343.6 345.5L343.6 348.4L340.5 346.9ZM343.6 345.5L346.8 346.9L346.8 349.8L343.6 348.4ZM346.8 346.9L349.9 348.3L350 351.2L346.8 349.8ZM349.9 348.3L353.1 349.7L353.2 352.6L350 351.2ZM353.1 349.7L356.3 351.2L356.3 354L353.2 352.6ZM356.3 351.2L359.4 352.6L359.5 355.4L356.3 354ZM296.1 327.1L299.2 328.5L299.2 331.4L296 329.9ZM299.2 328.5L302.4 329.9L302.4 332.8L299.2 331.4ZM302.4 329.9L305.6 331.3L305.6 334.2L302.4 332.8ZM305.6 331.3L308.7 332.8L308.7 335.6L305.6 334.2ZM308.7 332.8L311.9 334.2L311.9 337L308.7 335.6ZM311.9 334.2L315.1 335.6L315.1 338.5L311.9 337ZM315.1 335.6L318.3 337L318.3 339.9L315.1 338.5ZM318.3 337L321.4 338.4L321.4 341.3L318.3 339.9ZM321.4 338.4L324.6 339.9L324.6 342.7L321.4 341.3ZM324.6 339.9L327.8 341.3L327.8 344.1L324.6 342.7ZM327.8 341.3L330.9 342.7L331 345.5L327.8 344.1ZM330.9 342.7L334.1 344.1L334.1 347L331 345.5ZM334.1 344.1L337.3 345.5L337.3 348.4L334.1 347ZM337.3 345.5L340.5 346.9L340.5 349.8L337.3 348.4ZM340.5 346.9L343.6 348.4L343.7 351.2L340.5 349.8ZM343.6 348.4L346.8 349.8L346.8 352.6L343.7 351.2ZM346.8 349.8L350 351.2L350 354.1L346.8 352.6ZM350 351.2L353.2 352.6L353.2 355.5L350 354.1ZM353.2 352.6L356.3 354L356.4 356.9L353.2 355.5ZM356.3 354L359.5 355.4L359.5 358.3L356.4 356.9ZM296 329.9L299.2 331.4L299.2 334.2L296 332.8ZM299.2 331.4L302.4 332.8L302.4 335.6L299.2 334.2ZM302.4 332.8L305.6 334.2L305.5 337L302.4 335.6ZM305.6 334.2L308.7 335.6L308.7 338.5L305.5 337ZM308.7 335.6L311.9 337L311.9 339.9L308.7 338.5ZM311.9 337L315.1 338.5L315.1 341.3L311.9 339.9ZM315.1 338.5L318.3 339.9L318.3 342.7L315.1 341.3ZM318.3 339.9L321.4 341.3L321.4 344.1L318.3 342.7ZM321.4 341.3L324.6 342.7L324.6 345.6L321.4 344.1ZM324.6 342.7L327.8 344.1L327.8 347L324.6 345.6ZM327.8 344.1L331 345.5L331 348.4L327.8 347ZM331 345.5L334.1 347L334.2 349.8L331 348.4ZM334.1 347L337.3 348.4L337.3 351.3L334.2 349.8ZM337.3 348.4L340.5 349.8L340.5 352.7L337.3 351.3ZM340.5 349.8L343.7 351.2L343.7 354.1L340.5 352.7ZM343.7 351.2L346.8 352.6L346.9 355.5L343.7 354.1ZM346.8 352.6L350 354.1L350.1 356.9L346.9 355.5ZM350 354.1L353.2 355.5L353.2 358.4L350.1 356.9ZM353.2 355.5L356.4 356.9L356.4 359.8L353.2 358.4ZM356.4 356.9L359.5 358.3L359.6 361.2L356.4 359.8ZM296 332.8L299.2 334.2L299.2 337L296 335.6ZM299.2 334.2L302.4 335.6L302.4 338.5L299.2 337ZM302.4 335.6L305.5 337L305.5 339.9L302.4 338.5ZM305.5 337L308.7 338.5L308.7 341.3L305.5 339.9ZM308.7 338.5L311.9 339.9L311.9 342.7L308.7 341.3ZM311.9 339.9L315.1 341.3L315.1 344.2L311.9 342.7ZM315.1 341.3L318.3 342.7L318.3 345.6L315.1 344.2ZM318.3 342.7L321.4 344.1L321.4 347L318.3 345.6ZM321.4 344.1L324.6 345.6L324.6 348.4L321.4 347ZM324.6 345.6L327.8 347L327.8 349.8L324.6 348.4ZM327.8 347L331 348.4L331 351.3L327.8 349.8ZM331 348.4L334.2 349.8L334.2 352.7L331 351.3ZM334.2 349.8L337.3 351.3L337.4 354.1L334.2 352.7ZM337.3 351.3L340.5 352.7L340.5 355.5L337.4 354.1ZM340.5 352.7L343.7 354.1L343.7 357L340.5 355.5ZM343.7 354.1L346.9 355.5L346.9 358.4L343.7 357ZM346.9 355.5L350.1 356.9L350.1 359.8L346.9 358.4ZM350.1 356.9L353.2 358.4L353.3 361.2L350.1 359.8ZM353.2 358.4L356.4 359.8L356.5 362.6L353.3 361.2ZM356.4 359.8L359.6 361.2L359.6 364.1L356.5 362.6ZM296 335.6L299.2 337L299.2 339.9L296 338.5ZM299.2 337L302.4 338.5L302.3 341.3L299.2 339.9ZM302.4 338.5L305.5 339.9L305.5 342.7L302.3 341.3ZM305.5 339.9L308.7 341.3L308.7 344.2L305.5 342.7ZM308.7 341.3L311.9 342.7L311.9 345.6L308.7 344.2ZM311.9 342.7L315.1 344.2L315.1 347L311.9 345.6ZM315.1 344.2L318.3 345.6L318.3 348.4L315.1 347ZM318.3 345.6L321.4 347L321.5 349.9L318.3 348.4ZM321.4 347L324.6 348.4L324.6 351.3L321.5 349.9ZM324.6 348.4L327.8 349.8L327.8 352.7L324.6 351.3ZM327.8 349.8L331 351.3L331 354.1L327.8 352.7ZM331 351.3L334.2 352.7L334.2 355.6L331 354.1ZM334.2 352.7L337.4 354.1L337.4 357L334.2 355.6ZM337.4 354.1L340.5 355.5L340.6 358.4L337.4 357ZM340.5 355.5L343.7 357L343.8 359.8L340.6 358.4ZM343.7 357L346.9 358.4L346.9 361.3L343.8 359.8ZM346.9 358.4L350.1 359.8L350.1 362.7L346.9 361.3ZM350.1 359.8L353.3 361.2L353.3 364.1L350.1 362.7ZM353.3 361.2L356.5 362.6L356.5 365.5L353.3 364.1ZM356.5 362.6L359.6 364.1L359.7 366.9L356.5 365.5ZM296 338.5L299.2 339.9L299.1 342.7L295.9 341.3ZM299.2 339.9L302.3 341.3L302.3 344.2L299.1 342.7ZM302.3 341.3L305.5 342.7L305.5 345.6L302.3 344.2ZM305.5 342.7L308.7 344.2L308.7 347L305.5 345.6ZM308.7 344.2L311.9 345.6L311.9 348.4L308.7 347ZM311.9 345.6L315.1 347L315.1 349.9L311.9 348.4ZM315.1 347L318.3 348.4L318.3 351.3L315.1 349.9ZM318.3 348.4L321.5 349.9L321.5 352.7L318.3 351.3ZM321.5 349.9L324.6 351.3L324.6 354.1L321.5 352.7ZM324.6 351.3L327.8 352.7L327.8 355.6L324.6 354.1ZM327.8 352.7L331 354.1L331 357L327.8 355.6ZM331 354.1L334.2 355.6L334.2 358.4L331 357ZM334.2 355.6L337.4 357L337.4 359.8L334.2 358.4ZM337.4 357L340.6 358.4L340.6 361.3L337.4 359.8ZM340.6 358.4L343.8 359.8L343.8 362.7L340.6 361.3ZM343.8 359.8L346.9 361.3L347 364.1L343.8 362.7ZM346.9 361.3L350.1 362.7L350.2 365.5L347 364.1ZM350.1 362.7L353.3 364.1L353.4 367L350.2 365.5ZM353.3 364.1L356.5 365.5L356.5 368.4L353.4 367ZM356.5 365.5L359.7 366.9L359.7 369.8L356.5 368.4ZM295.9 341.3L299.1 342.7L299.1 345.6L295.9 344.2ZM299.1 342.7L302.3 344.2L302.3 347L299.1 345.6ZM302.3 344.2L305.5 345.6L305.5 348.4L302.3 347ZM305.5 345.6L308.7 347L308.7 349.9L305.5 348.4ZM308.7 347L311.9 348.4L311.9 351.3L308.7 349.9ZM311.9 348.4L315.1 349.9L315.1 352.7L311.9 351.3ZM315.1 349.9L318.3 351.3L318.3 354.1L315.1 352.7ZM318.3 351.3L321.5 352.7L321.5 355.6L318.3 354.1ZM321.5 352.7L324.6 354.1L324.7 357L321.5 355.6ZM324.6 354.1L327.8 355.6L327.9 358.4L324.7 357ZM327.8 355.6L331 357L331 359.9L327.9 358.4ZM331 357L334.2 358.4L334.2 361.3L331 359.9ZM334.2 358.4L337.4 359.8L337.4 362.7L334.2 361.3ZM337.4 359.8L340.6 361.3L340.6 364.1L337.4 362.7ZM340.6 361.3L343.8 362.7L343.8 365.6L340.6 364.1ZM343.8 362.7L347 364.1L347 367L343.8 365.6ZM347 364.1L350.2 365.5L350.2 368.4L347 367ZM350.2 365.5L353.4 367L353.4 369.8L350.2 368.4ZM353.4 367L356.5 368.4L356.6 371.3L353.4 369.8ZM356.5 368.4L359.7 369.8L359.8 372.7L356.6 371.3ZM295.9 344.2L299.1 345.6L299.1 348.4L295.9 347ZM299.1 345.6L302.3 347L302.3 349.9L299.1 348.4ZM302.3 347L305.5 348.4L305.5 351.3L302.3 349.9ZM305.5 348.4L308.7 349.9L308.7 352.7L305.5 351.3ZM308.7 349.9L311.9 351.3L311.9 354.1L308.7 352.7ZM311.9 351.3L315.1 352.7L315.1 355.6L311.9 354.1ZM315.1 352.7L318.3 354.1L318.3 357L315.1 355.6ZM318.3 354.1L321.5 355.6L321.5 358.4L318.3 357ZM321.5 355.6L324.7 357L324.7 359.9L321.5 358.4ZM324.7 357L327.9 358.4L327.9 361.3L324.7 359.9ZM327.9 358.4L331 359.9L331.1 362.7L327.9 361.3ZM331 359.9L334.2 361.3L334.3 364.1L331.1 362.7ZM334.2 361.3L337.4 362.7L337.5 365.6L334.3 364.1ZM337.4 362.7L340.6 364.1L340.7 367L337.5 365.6ZM340.6 364.1L343.8 365.6L343.8 368.4L340.7 367ZM343.8 365.6L347 367L347 369.9L343.8 368.4ZM347 367L350.2 368.4L350.2 371.3L347 369.9ZM350.2 368.4L353.4 369.8L353.4 372.7L350.2 371.3ZM353.4 369.8L356.6 371.3L356.6 374.1L353.4 372.7ZM356.6 371.3L359.8 372.7L359.8 375.6L356.6 374.1ZM295.9 347L299.1 348.4L298.1 351.8L294.9 350.3ZM299.1 348.4L302.3 349.9L301.3 353.2L298.1 351.8ZM302.3 349.9L305.5 351.3L304.5 354.6L301.3 353.2ZM305.5 351.3L308.7 352.7L307.7 356.1L304.5 354.6ZM308.7 352.7L311.9 354.1L310.9 357.5L307.7 356.1ZM311.9 354.1L315.1 355.6L314.1 358.9L310.9 357.5ZM315.1 355.6L318.3 357L317.3 360.3L314.1 358.9ZM318.3 357L321.5 358.4L320.5 361.8L317.3 360.3ZM321.5 358.4L324.7 359.9L323.7 363.2L320.5 361.8ZM324.7 359.9L327.9 361.3L326.9 364.6L323.7 363.2ZM327.9 361.3L331.1 362.7L330.1 366.1L326.9 364.6ZM331.1 362.7L334.3 364.1L333.3 367.5L330.1 366.1ZM334.3 364.1L337.5 365.6L336.5 368.9L333.3 367.5ZM337.5 365.6L340.7 367L339.7 370.4L336.5 368.9ZM340.7 367L343.8 368.4L342.9 371.8L339.7 370.4ZM343.8 368.4L347 369.9L346.1 373.2L342.9 371.8ZM347 369.9L350.2 371.3L349.3 374.6L346.1 373.2ZM350.2 371.3L353.4 372.7L352.5 376.1L349.3 374.6ZM353.4 372.7L356.6 374.1L355.7 377.5L352.5 376.1ZM356.6 374.1L359.8 375.6L358.9 378.9L355.7 377.5ZM294.9 350.3L298.1 351.8L296.8 354.9L293.6 353.5ZM298.1 351.8L301.3 353.2L300 356.4L296.8 354.9ZM301.3 353.2L304.5 354.6L303.2 357.8L300 356.4ZM304.5 354.6L307.7 356.1L306.4 359.2L303.2 357.8ZM307.7 356.1L310.9 357.5L309.6 360.7L306.4 359.2ZM310.9 357.5L314.1 358.9L312.8 362.1L309.6 360.7ZM314.1 358.9L317.3 360.3L316 363.5L312.8 362.1ZM317.3 360.3L320.5 361.8L319.2 365L316 363.5ZM320.5 361.8L323.7 363.2L322.4 366.4L319.2 365ZM323.7 363.2L326.9 364.6L325.6 367.8L322.4 366.4ZM326.9 364.6L330.1 366.1L328.8 369.3L325.6 367.8ZM330.1 366.1L333.3 367.5L332 370.7L328.8 369.3ZM333.3 367.5L336.5 368.9L335.2 372.1L332 370.7ZM336.5 368.9L339.7 370.4L338.4 373.6L335.2 372.1ZM339.7 370.4L342.9 371.8L341.6 375L338.4 373.6ZM342.9 371.8L346.1 373.2L344.8 376.4L341.6 375ZM346.1 373.2L349.3 374.6L348 377.8L344.8 376.4ZM349.3 374.6L352.5 376.1L351.2 379.3L348 377.8ZM352.5 376.1L355.7 377.5L354.4 380.7L351.2 379.3ZM355.7 377.5L358.9 378.9L357.6 382.1L354.4 380.7ZM293.6 353.5L296.8 354.9L295.2 358L292 356.6ZM296.8 354.9L300 356.4L298.4 359.5L295.2 358ZM300 356.4L303.2 357.8L301.6 360.9L298.4 359.5ZM303.2 357.8L306.4 359.2L304.8 362.3L301.6 360.9ZM306.4 359.2L309.6 360.7L308 363.8L304.8 362.3ZM309.6 360.7L312.8 362.1L311.2 365.2L308 363.8ZM312.8 362.1L316 363.5L314.5 366.6L311.2 365.2ZM316 363.5L319.2 365L317.7 368.1L314.5 366.6ZM332 370.7L335.2 372.1L333.7 375.2L330.5 373.8ZM335.2 372.1L338.4 373.6L336.9 376.7L333.7 375.2ZM338.4 373.6L341.6 375L340.1 378.1L336.9 376.7ZM341.6 375L344.8 376.4L343.3 379.5L340.1 378.1ZM344.8 376.4L348 377.8L346.5 381L343.3 379.5ZM348 377.8L351.2 379.3L349.7 382.4L346.5 381ZM351.2 379.3L354.4 380.7L352.9 383.8L349.7 382.4ZM354.4 380.7L357.6 382.1L356.1 385.3L352.9 383.8ZM292 356.6L295.2 358L293.3 361L290.1 359.5ZM295.2 358L298.4 359.5L296.6 362.4L293.3 361ZM298.4 359.5L301.6 360.9L299.8 363.8L296.6 362.4ZM301.6 360.9L304.8 362.3L303 365.3L299.8 363.8ZM304.8 362.3L308 363.8L306.2 366.7L303 365.3ZM308 363.8L311.2 365.2L309.4 368.1L306.2 366.7ZM311.2 365.2L314.5 366.6L312.6 369.6L309.4 368.1ZM314.5 366.6L317.7 368.1L315.8 371L312.6 369.6ZM333.7 375.2L336.9 376.7L335.1 379.6L331.9 378.2ZM336.9 376.7L340.1 378.1L338.3 381L335.1 379.6ZM340.1 378.1L343.3 379.5L341.5 382.5L338.3 381ZM343.3 379.5L346.5 381L344.7 383.9L341.5 382.5ZM346.5 381L349.7 382.4L347.9 385.3L344.7 383.9ZM349.7 382.4L352.9 383.8L351.1 386.8L347.9 385.3ZM352.9 383.8L356.1 385.3L354.3 388.2L351.1 386.8ZM290.1 359.5L293.3 361L291.5 363.9L288.2 362.4ZM293.3 361L296.6 362.4L294.7 365.3L291.5 363.9ZM296.6 362.4L299.8 363.8L297.9 366.7L294.7 365.3ZM299.8 363.8L303 365.3L301.1 368.2L297.9 366.7ZM303 365.3L306.2 366.7L304.3 369.6L301.1 368.2ZM306.2 366.7L309.4 368.1L307.5 371.1L304.3 369.6ZM309.4 368.1L312.6 369.6L310.7 372.5L307.5 371.1ZM335.1 379.6L338.3 381L336.5 384L333.2 382.5ZM338.3 381L341.5 382.5L339.7 385.4L336.5 384ZM341.5 382.5L344.7 383.9L342.9 386.8L339.7 385.4ZM344.7 383.9L347.9 385.3L346.1 388.3L342.9 386.8ZM347.9 385.3L351.1 386.8L349.3 389.7L346.1 388.3ZM351.1 386.8L354.3 388.2L352.5 391.2L349.3 389.7ZM288.2 362.4L291.5 363.9L289.7 366.9L286.5 365.4ZM291.5 363.9L294.7 365.3L292.9 368.3L289.7 366.9ZM294.7 365.3L297.9 366.7L296.1 369.7L292.9 368.3ZM297.9 366.7L301.1 368.2L299.3 371.2L296.1 369.7ZM301.1 368.2L304.3 369.6L302.6 372.6L299.3 371.2ZM304.3 369.6L307.5 371.1L305.8 374L302.6 372.6ZM307.5 371.1L310.7 372.5L309 375.5L305.8 374ZM333.2 382.5L336.5 384L334.7 387L331.5 385.5ZM336.5 384L339.7 385.4L338 388.4L334.7 387ZM339.7 385.4L342.9 386.8L341.2 389.9L338 388.4ZM342.9 386.8L346.1 388.3L344.4 391.3L341.2 389.9ZM346.1 388.3L349.3 389.7L347.6 392.7L344.4 391.3ZM349.3 389.7L352.5 391.2L350.8 394.2L347.6 392.7ZM286.5 365.4L289.7 366.9L287.9 369.8L284.7 368.4ZM289.7 366.9L292.9 368.3L291.1 371.3L287.9 369.8ZM292.9 368.3L296.1 369.7L294.4 372.7L291.1 371.3ZM296.1 369.7L299.3 371.2L297.6 374.2L294.4 372.7ZM299.3 371.2L302.6 372.6L300.8 375.6L297.6 374.2ZM302.6 372.6L305.8 374L304 377L300.8 375.6ZM305.8 374L309 375.5L307.3 378.5L304 377ZM331.5 385.5L334.7 387L333 390L329.8 388.6ZM334.7 387L338 388.4L336.2 391.4L333 390ZM338 388.4L341.2 389.9L339.5 392.9L336.2 391.4ZM341.2 389.9L344.4 391.3L342.7 394.3L339.5 392.9ZM344.4 391.3L347.6 392.7L345.9 395.7L342.7 394.3ZM347.6 392.7L350.8 394.2L349.1 397.2L345.9 395.7ZM284.7 368.4L287.9 369.8L286.2 372.8L282.9 371.4ZM287.9 369.8L291.1 371.3L289.4 374.3L286.2 372.8ZM291.1 371.3L294.4 372.7L292.6 375.7L289.4 374.3ZM294.4 372.7L297.6 374.2L295.8 377.2L292.6 375.7ZM297.6 374.2L300.8 375.6L299.1 378.6L295.8 377.2ZM300.8 375.6L304 377L302.3 380L299.1 378.6ZM304 377L307.3 378.5L305.5 381.5L302.3 380ZM333 390L336.2 391.4L334.5 394.4L331.3 393ZM336.2 391.4L339.5 392.9L337.8 395.9L334.5 394.4ZM339.5 392.9L342.7 394.3L341 397.3L337.8 395.9ZM342.7 394.3L345.9 395.7L344.2 398.8L341 397.3ZM345.9 395.7L349.1 397.2L347.4 400.2L344.2 398.8ZM282.9 371.4L286.2 372.8L284.4 375.8L281.2 374.4ZM286.2 372.8L289.4 374.3L287.6 377.3L284.4 375.8ZM289.4 374.3L292.6 375.7L290.9 378.7L287.6 377.3ZM292.6 375.7L295.8 377.2L294.1 380.1L290.9 378.7ZM295.8 377.2L299.1 378.6L297.3 381.6L294.1 380.1ZM299.1 378.6L302.3 380L300.5 383L297.3 381.6ZM302.3 380L305.5 381.5L303.8 384.5L300.5 383ZM331.3 393L334.5 394.4L332.8 397.5L329.6 396ZM334.5 394.4L337.8 395.9L336 398.9L332.8 397.5ZM337.8 395.9L341 397.3L339.3 400.3L336 398.9ZM341 397.3L344.2 398.8L342.5 401.8L339.3 400.3ZM344.2 398.8L347.4 400.2L345.7 403.2L342.5 401.8ZM281.2 374.4L284.4 375.8L282.6 378.8L279.4 377.4ZM284.4 375.8L287.6 377.3L285.9 380.3L282.6 378.8ZM287.6 377.3L290.9 378.7L289.1 381.7L285.9 380.3ZM290.9 378.7L294.1 380.1L292.3 383.1L289.1 381.7ZM294.1 380.1L297.3 381.6L295.6 384.6L292.3 383.1ZM297.3 381.6L300.5 383L298.8 386L295.6 384.6ZM300.5 383L303.8 384.5L302 387.5L298.8 386ZM329.6 396L332.8 397.5L331.1 400.5L327.9 399ZM332.8 397.5L336 398.9L334.3 401.9L331.1 400.5ZM336 398.9L339.3 400.3L337.6 403.3L334.3 401.9ZM339.3 400.3L342.5 401.8L340.8 404.8L337.6 403.3ZM342.5 401.8L345.7 403.2L344 406.2L340.8 404.8ZM279.4 377.4L282.6 378.8L280.9 381.8L277.6 380.4ZM282.6 378.8L285.9 380.3L284.1 383.2L280.9 381.8ZM285.9 380.3L289.1 381.7L287.3 384.7L284.1 383.2ZM289.1 381.7L292.3 383.1L290.6 386.1L287.3 384.7ZM292.3 383.1L295.6 384.6L293.8 387.6L290.6 386.1ZM295.6 384.6L298.8 386L297 389L293.8 387.6ZM298.8 386L302 387.5L300.3 390.5L297 389ZM327.9 399L331.1 400.5L329.4 403.5L326.2 402ZM331.1 400.5L334.3 401.9L332.6 404.9L329.4 403.5ZM334.3 401.9L337.6 403.3L335.9 406.4L332.6 404.9ZM337.6 403.3L340.8 404.8L339.1 407.8L335.9 406.4ZM340.8 404.8L344 406.2L342.3 409.3L339.1 407.8ZM277.6 380.4L280.9 381.8L279.1 384.8L275.9 383.3ZM280.9 381.8L284.1 383.2L282.3 386.2L279.1 384.8ZM284.1 383.2L287.3 384.7L285.6 387.7L282.3 386.2ZM287.3 384.7L290.6 386.1L288.8 389.1L285.6 387.7ZM290.6 386.1L293.8 387.6L292 390.6L288.8 389.1ZM293.8 387.6L297 389L295.3 392L292 390.6ZM297 389L300.3 390.5L298.5 393.5L295.3 392ZM322.9 400.6L326.2 402L324.4 405L321.2 403.6ZM326.2 402L329.4 403.5L327.6 406.5L324.4 405ZM329.4 403.5L332.6 404.9L330.9 407.9L327.6 406.5ZM332.6 404.9L335.9 406.4L334.1 409.3L330.9 407.9ZM335.9 406.4L339.1 407.8L337.3 410.8L334.1 409.3ZM339.1 407.8L342.3 409.3L340.6 412.2L337.3 410.8ZM275.9 383.3L279.1 384.8L277.3 387.8L274.1 386.3ZM279.1 384.8L282.3 386.2L280.6 389.2L277.3 387.8ZM282.3 386.2L285.6 387.7L283.8 390.7L280.6 389.2ZM285.6 387.7L288.8 389.1L287 392.1L283.8 390.7ZM288.8 389.1L292 390.6L290.3 393.5L287 392.1ZM292 390.6L295.3 392L293.5 395L290.3 393.5ZM295.3 392L298.5 393.5L296.7 396.4L293.5 395ZM298.5 393.5L301.7 394.9L300 397.9L296.7 396.4ZM321.2 403.6L324.4 405L322.6 408L319.4 406.6ZM324.4 405L327.6 406.5L325.9 409.4L322.6 408ZM327.6 406.5L330.9 407.9L329.1 410.9L325.9 409.4ZM330.9 407.9L334.1 409.3L332.3 412.3L329.1 410.9ZM334.1 409.3L337.3 410.8L335.6 413.8L332.3 412.3ZM337.3 410.8L340.6 412.2L338.8 415.2L335.6 413.8ZM274.1 386.3L277.3 387.8L275.6 390.8L272.3 389.3ZM277.3 387.8L280.6 389.2L278.8 392.2L275.6 390.8ZM280.6 389.2L283.8 390.7L282 393.6L278.8 392.2ZM283.8 390.7L287 392.1L285.3 395.1L282 393.6ZM287 392.1L290.3 393.5L288.5 396.5L285.3 395.1ZM290.3 393.5L293.5 395L291.7 398L288.5 396.5ZM293.5 395L296.7 396.4L295 399.4L291.7 398ZM296.7 396.4L300 397.9L298.2 400.9L295 399.4ZM319.4 406.6L322.6 408L320.9 411L317.6 409.5ZM322.6 408L325.9 409.4L324.1 412.4L320.9 411ZM325.9 409.4L329.1 410.9L327.3 413.9L324.1 412.4ZM329.1 410.9L332.3 412.3L330.6 415.3L327.3 413.9ZM332.3 412.3L335.6 413.8L333.8 416.8L330.6 415.3ZM335.6 413.8L338.8 415.2L337 418.2L333.8 416.8ZM272.3 389.3L275.6 390.8L273.8 393.7L270.6 392.3ZM275.6 390.8L278.8 392.2L277 395.2L273.8 393.7ZM278.8 392.2L282 393.6L280.3 396.6L277 395.2ZM282 393.6L285.3 395.1L283.5 398.1L280.3 396.6ZM285.3 395.1L288.5 396.5L286.7 399.5L283.5 398.1ZM288.5 396.5L291.7 398L290 401L286.7 399.5ZM291.7 398L295 399.4L293.2 402.4L290 401ZM295 399.4L298.2 400.9L296.4 403.9L293.2 402.4ZM298.2 400.9L301.4 402.3L299.7 405.3L296.4 403.9ZM314.4 408.1L317.6 409.5L315.8 412.5L312.6 411.1ZM317.6 409.5L320.9 411L319.1 414L315.8 412.5ZM320.9 411L324.1 412.4L322.3 415.4L319.1 414ZM324.1 412.4L327.3 413.9L325.6 416.9L322.3 415.4ZM327.3 413.9L330.6 415.3L328.8 418.3L325.6 416.9ZM330.6 415.3L333.8 416.8L332 419.8L328.8 418.3ZM333.8 416.8L337 418.2L335.3 421.2L332 419.8ZM270.6 392.3L273.8 393.7L272 396.7L268.8 395.3ZM273.8 393.7L277 395.2L275.3 398.2L272 396.7ZM277 395.2L280.3 396.6L278.5 399.6L275.3 398.2ZM280.3 396.6L283.5 398.1L281.7 401.1L278.5 399.6ZM283.5 398.1L286.7 399.5L285 402.5L281.7 401.1ZM286.7 399.5L290 401L288.2 404L285 402.5ZM290 401L293.2 402.4L291.4 405.4L288.2 404ZM293.2 402.4L296.4 403.9L294.7 406.8L291.4 405.4ZM296.4 403.9L299.7 405.3L297.9 408.3L294.7 406.8ZM299.7 405.3L302.9 406.7L301.1 409.7L297.9 408.3ZM302.9 406.7L306.1 408.2L304.4 411.2L301.1 409.7ZM306.1 408.2L309.4 409.6L307.6 412.6L304.4 411.2ZM309.4 409.6L312.6 411.1L310.8 414.1L307.6 412.6ZM312.6 411.1L315.8 412.5L314.1 415.5L310.8 414.1ZM315.8 412.5L319.1 414L317.3 417L314.1 415.5ZM319.1 414L322.3 415.4L320.5 418.4L317.3 417ZM322.3 415.4L325.6 416.9L323.8 419.8L320.5 418.4ZM325.6 416.9L328.8 418.3L327 421.3L323.8 419.8ZM328.8 418.3L332 419.8L330.3 422.7L327 421.3ZM332 419.8L335.3 421.2L333.5 424.2L330.3 422.7ZM268.8 395.3L272 396.7L270.3 399.7L267 398.3ZM272 396.7L275.3 398.2L273.5 401.2L270.3 399.7ZM275.3 398.2L278.5 399.6L276.7 402.6L273.5 401.2ZM278.5 399.6L281.7 401.1L280 404L276.7 402.6ZM281.7 401.1L285 402.5L283.2 405.5L280 404ZM285 402.5L288.2 404L286.4 406.9L283.2 405.5ZM288.2 404L291.4 405.4L289.7 408.4L286.4 406.9ZM291.4 405.4L294.7 406.8L292.9 409.8L289.7 408.4ZM294.7 406.8L297.9 408.3L296.1 411.3L292.9 409.8ZM297.9 408.3L301.1 409.7L299.4 412.7L296.1 411.3ZM301.1 409.7L304.4 411.2L302.6 414.2L299.4 412.7ZM304.4 411.2L307.6 412.6L305.8 415.6L302.6 414.2ZM307.6 412.6L310.8 414.1L309.1 417.1L305.8 415.6ZM310.8 414.1L314.1 415.5L312.3 418.5L309.1 417.1ZM314.1 415.5L317.3 417L315.5 419.9L312.3 418.5ZM317.3 417L320.5 418.4L318.8 421.4L315.5 419.9ZM320.5 418.4L323.8 419.8L322 422.8L318.8 421.4ZM323.8 419.8L327 421.3L325.3 424.3L322 422.8ZM327 421.3L330.3 422.7L328.5 425.7L325.3 424.3ZM330.3 422.7L333.5 424.2L331.7 427.2L328.5 425.7ZM267 398.3L270.3 399.7L268.5 402.7L265.3 401.3ZM270.3 399.7L273.5 401.2L271.7 404.1L268.5 402.7ZM273.5 401.2L276.7 402.6L275 405.6L271.7 404.1ZM276.7 402.6L280 404L278.2 407L275 405.6ZM280 404L283.2 405.5L281.4 408.5L278.2 407ZM283.2 405.5L286.4 406.9L284.7 409.9L281.4 408.5ZM286.4 406.9L289.7 408.4L287.9 411.4L284.7 409.9ZM289.7 408.4L292.9 409.8L291.1 412.8L287.9 411.4ZM292.9 409.8L296.1 411.3L294.4 414.3L291.1 412.8ZM296.1 411.3L299.4 412.7L297.6 415.7L294.4 414.3ZM299.4 412.7L302.6 414.2L300.8 417.1L297.6 415.7ZM302.6 414.2L305.8 415.6L304.1 418.6L300.8 417.1ZM305.8 415.6L309.1 417.1L307.3 420L304.1 418.6ZM309.1 417.1L312.3 418.5L310.5 421.5L307.3 420ZM312.3 418.5L315.5 419.9L313.8 422.9L310.5 421.5ZM315.5 419.9L318.8 421.4L317 424.4L313.8 422.9ZM318.8 421.4L322 422.8L320.2 425.8L317 424.4ZM322 422.8L325.3 424.3L323.5 427.3L320.2 425.8ZM325.3 424.3L328.5 425.7L326.7 428.7L323.5 427.3ZM328.5 425.7L331.7 427.2L330 430.2L326.7 428.7ZM265.3 401.3L268.5 402.7L266.7 405.7L263.5 404.2ZM268.5 402.7L271.7 404.1L270 407.1L266.7 405.7ZM271.7 404.1L275 405.6L273.2 408.6L270 407.1ZM275 405.6L278.2 407L276.4 410L273.2 408.6ZM278.2 407L281.4 408.5L279.7 411.5L276.4 410ZM281.4 408.5L284.7 409.9L282.9 412.9L279.7 411.5ZM284.7 409.9L287.9 411.4L286.1 414.4L282.9 412.9ZM287.9 411.4L291.1 412.8L289.4 415.8L286.1 414.4ZM291.1 412.8L294.4 414.3L292.6 417.2L289.4 415.8ZM294.4 414.3L297.6 415.7L295.8 418.7L292.6 417.2ZM297.6 415.7L300.8 417.1L299.1 420.1L295.8 418.7ZM300.8 417.1L304.1 418.6L302.3 421.6L299.1 420.1ZM304.1 418.6L307.3 420L305.5 423L302.3 421.6ZM307.3 420L310.5 421.5L308.8 424.5L305.5 423ZM310.5 421.5L313.8 422.9L312 425.9L308.8 424.5ZM313.8 422.9L317 424.4L315.2 427.4L312 425.9ZM317 424.4L320.2 425.8L318.5 428.8L315.2 427.4ZM320.2 425.8L323.5 427.3L321.7 430.2L318.5 428.8ZM323.5 427.3L326.7 428.7L324.9 431.7L321.7 430.2ZM326.7 428.7L330 430.2L328.2 433.1L324.9 431.7ZM263.5 404.2L266.7 405.7L265 408.7L261.7 407.2ZM266.7 405.7L270 407.1L268.2 410.1L265 408.7ZM270 407.1L273.2 408.6L271.4 411.6L268.2 410.1ZM273.2 408.6L276.4 410L274.7 413L271.4 411.6ZM276.4 410L279.7 411.5L277.9 414.5L274.7 413ZM279.7 411.5L282.9 412.9L281.1 415.9L277.9 414.5ZM282.9 412.9L286.1 414.4L284.4 417.3L281.1 415.9ZM286.1 414.4L289.4 415.8L287.6 418.8L284.4 417.3ZM289.4 415.8L292.6 417.2L290.8 420.2L287.6 418.8ZM292.6 417.2L295.8 418.7L294.1 421.7L290.8 420.2ZM295.8 418.7L299.1 420.1L297.3 423.1L294.1 421.7ZM299.1 420.1L302.3 421.6L300.5 424.6L297.3 423.1ZM302.3 421.6L305.5 423L303.8 426L300.5 424.6ZM305.5 423L308.8 424.5L307 427.5L303.8 426ZM308.8 424.5L312 425.9L310.2 428.9L307 427.5ZM312 425.9L315.2 427.4L313.5 430.3L310.2 428.9ZM315.2 427.4L318.5 428.8L316.7 431.8L313.5 430.3ZM318.5 428.8L321.7 430.2L319.9 433.2L316.7 431.8ZM321.7 430.2L324.9 431.7L323.2 434.7L319.9 433.2ZM324.9 431.7L328.2 433.1L326.4 436.1L323.2 434.7ZM261.7 407.2L265 408.7L263.2 411.7L259.9 410.2ZM265 408.7L268.2 410.1L266.4 413.1L263.2 411.7ZM268.2 410.1L271.4 411.6L269.7 414.5L266.4 413.1ZM271.4 411.6L274.7 413L272.9 416L269.7 414.5ZM274.7 413L277.9 414.5L276.1 417.4L272.9 416ZM277.9 414.5L281.1 415.9L279.4 418.9L276.1 417.4ZM281.1 415.9L284.4 417.3L282.6 420.3L279.4 418.9ZM284.4 417.3L287.6 418.8L285.8 421.8L282.6 420.3ZM287.6 418.8L290.8 420.2L289.1 423.2L285.8 421.8ZM290.8 420.2L294.1 421.7L292.3 424.7L289.1 423.2ZM294.1 421.7L297.3 423.1L295.5 426.1L292.3 424.7ZM297.3 423.1L300.5 424.6L298.8 427.6L295.5 426.1ZM300.5 424.6L303.8 426L302 429L298.8 427.6ZM303.8 426L307 427.5L305.2 430.4L302 429ZM307 427.5L310.2 428.9L308.5 431.9L305.2 430.4ZM310.2 428.9L313.5 430.3L311.7 433.3L308.5 431.9ZM313.5 430.3L316.7 431.8L314.9 434.8L311.7 433.3ZM316.7 431.8L319.9 433.2L318.2 436.2L314.9 434.8ZM319.9 433.2L323.2 434.7L321.4 437.7L318.2 436.2ZM323.2 434.7L326.4 436.1L324.6 439.1L321.4 437.7ZM259.9 410.2L263.2 411.7L261.4 414.6L258.2 413.2ZM263.2 411.7L266.4 413.1L264.6 416.1L261.4 414.6ZM266.4 413.1L269.7 414.5L267.9 417.5L264.6 416.1ZM269.7 414.5L272.9 416L271.1 419L267.9 417.5ZM272.9 416L276.1 417.4L274.4 420.4L271.1 419ZM276.1 417.4L279.4 418.9L277.6 421.9L274.4 420.4ZM279.4 418.9L282.6 420.3L280.8 423.3L277.6 421.9ZM282.6 420.3L285.8 421.8L284.1 424.8L280.8 423.3ZM285.8 421.8L289.1 423.2L287.3 426.2L284.1 424.8ZM289.1 423.2L292.3 424.7L290.5 427.6L287.3 426.2ZM292.3 424.7L295.5 426.1L293.8 429.1L290.5 427.6ZM295.5 426.1L298.8 427.6L297 430.5L293.8 429.1ZM298.8 427.6L302 429L300.2 432L297 430.5ZM302 429L305.2 430.4L303.5 433.4L300.2 432ZM305.2 430.4L308.5 431.9L306.7 434.9L303.5 433.4ZM308.5 431.9L311.7 433.3L309.9 436.3L306.7 434.9ZM311.7 433.3L314.9 434.8L313.2 437.8L309.9 436.3ZM314.9 434.8L318.2 436.2L316.4 439.2L313.2 437.8ZM318.2 436.2L321.4 437.7L319.6 440.7L316.4 439.2ZM321.4 437.7L324.6 439.1L322.9 442.1L319.6 440.7ZM258.2 413.2L261.4 414.6L259.6 417.6L256.4 416.2ZM261.4 414.6L264.6 416.1L262.9 419.1L259.6 417.6ZM264.6 416.1L267.9 417.5L266.1 420.5L262.9 419.1ZM267.9 417.5L271.1 419L269.4 422L266.1 420.5ZM271.1 419L274.4 420.4L272.6 423.4L269.4 422ZM274.4 420.4L277.6 421.9L275.8 424.9L272.6 423.4ZM277.6 421.9L280.8 423.3L279.1 426.3L275.8 424.9ZM280.8 423.3L284.1 424.8L282.3 427.7L279.1 426.3ZM284.1 424.8L287.3 426.2L285.5 429.2L282.3 427.7ZM287.3 426.2L290.5 427.6L288.8 430.6L285.5 429.2ZM290.5 427.6L293.8 429.1L292 432.1L288.8 430.6ZM293.8 429.1L297 430.5L295.2 433.5L292 432.1ZM297 430.5L300.2 432L298.5 435L295.2 433.5ZM300.2 432L303.5 433.4L301.7 436.4L298.5 435ZM303.5 433.4L306.7 434.9L304.9 437.9L301.7 436.4ZM306.7 434.9L309.9 436.3L308.2 439.3L304.9 437.9ZM309.9 436.3L313.2 437.8L311.4 440.7L308.2 439.3ZM313.2 437.8L316.4 439.2L314.6 442.2L311.4 440.7ZM316.4 439.2L319.6 440.7L317.9 443.6L314.6 442.2ZM319.6 440.7L322.9 442.1L321.1 445.1L317.9 443.6ZM256.4 416.2L259.6 417.6L257.9 420.6L254.6 419.2ZM259.6 417.6L262.9 419.1L261.1 422.1L257.9 420.6ZM262.9 419.1L266.1 420.5L264.3 423.5L261.1 422.1ZM266.1 420.5L269.4 422L267.6 424.9L264.3 423.5ZM269.4 422L272.6 423.4L270.8 426.4L267.6 424.9ZM272.6 423.4L275.8 424.9L274.1 427.8L270.8 426.4ZM275.8 424.9L279.1 426.3L277.3 429.3L274.1 427.8ZM279.1 426.3L282.3 427.7L280.5 430.7L277.3 429.3ZM282.3 427.7L285.5 429.2L283.8 432.2L280.5 430.7ZM285.5 429.2L288.8 430.6L287 433.6L283.8 432.2ZM288.8 430.6L292 432.1L290.2 435.1L287 433.6ZM292 432.1L295.2 433.5L293.5 436.5L290.2 435.1ZM295.2 433.5L298.5 435L296.7 438L293.5 436.5ZM298.5 435L301.7 436.4L299.9 439.4L296.7 438ZM301.7 436.4L304.9 437.9L303.2 440.8L299.9 439.4ZM304.9 437.9L308.2 439.3L306.4 442.3L303.2 440.8ZM308.2 439.3L311.4 440.7L309.6 443.7L306.4 442.3ZM311.4 440.7L314.6 442.2L312.9 445.2L309.6 443.7ZM314.6 442.2L317.9 443.6L316.1 446.6L312.9 445.2ZM317.9 443.6L321.1 445.1L319.3 448.1L316.1 446.6ZM254.6 419.2L257.9 420.6L256.1 423.6L252.9 422.2ZM257.9 420.6L261.1 422.1L259.3 425L256.1 423.6ZM261.1 422.1L264.3 423.5L262.6 426.5L259.3 425ZM264.3 423.5L267.6 424.9L265.8 427.9L262.6 426.5ZM267.6 424.9L270.8 426.4L269 429.4L265.8 427.9ZM270.8 426.4L274.1 427.8L272.3 430.8L269 429.4ZM274.1 427.8L277.3 429.3L275.5 432.3L272.3 430.8ZM277.3 429.3L280.5 430.7L278.8 433.7L275.5 432.3ZM280.5 430.7L283.8 432.2L282 435.2L278.8 433.7ZM283.8 432.2L287 433.6L285.2 436.6L282 435.2ZM287 433.6L290.2 435.1L288.5 438.1L285.2 436.6ZM290.2 435.1L293.5 436.5L291.7 439.5L288.5 438.1ZM293.5 436.5L296.7 438L294.9 440.9L291.7 439.5ZM296.7 438L299.9 439.4L298.2 442.4L294.9 440.9ZM299.9 439.4L303.2 440.8L301.4 443.8L298.2 442.4ZM303.2 440.8L306.4 442.3L304.6 445.3L301.4 443.8ZM306.4 442.3L309.6 443.7L307.9 446.7L304.6 445.3ZM309.6 443.7L312.9 445.2L311.1 448.2L307.9 446.7ZM312.9 445.2L316.1 446.6L314.3 449.6L311.1 448.2ZM316.1 446.6L319.3 448.1L317.6 451.1L314.3 449.6ZM252.9 422.2L256.1 423.6L254.3 426.6L251.1 425.1ZM256.1 423.6L259.3 425L257.6 428L254.3 426.6ZM259.3 425L262.6 426.5L260.8 429.5L257.6 428ZM262.6 426.5L265.8 427.9L264 430.9L260.8 429.5ZM265.8 427.9L269 429.4L267.3 432.4L264 430.9ZM269 429.4L272.3 430.8L270.5 433.8L267.3 432.4ZM272.3 430.8L275.5 432.3L273.8 435.3L270.5 433.8ZM275.5 432.3L278.8 433.7L277 436.7L273.8 435.3ZM278.8 433.7L282 435.2L280.2 438.1L277 436.7ZM282 435.2L285.2 436.6L283.5 439.6L280.2 438.1ZM285.2 436.6L288.5 438.1L286.7 441L283.5 439.6ZM288.5 438.1L291.7 439.5L289.9 442.5L286.7 441ZM291.7 439.5L294.9 440.9L293.2 443.9L289.9 442.5ZM294.9 440.9L298.2 442.4L296.4 445.4L293.2 443.9ZM298.2 442.4L301.4 443.8L299.6 446.8L296.4 445.4ZM301.4 443.8L304.6 445.3L302.9 448.3L299.6 446.8ZM304.6 445.3L307.9 446.7L306.1 449.7L302.9 448.3ZM307.9 446.7L311.1 448.2L309.3 451.2L306.1 449.7ZM311.1 448.2L314.3 449.6L312.6 452.6L309.3 451.2ZM314.3 449.6L317.6 451.1L315.8 454L312.6 452.6ZM251.1 425.1L254.3 426.6L252.6 429.6L249.3 428.1ZM254.3 426.6L257.6 428L255.8 431L252.6 429.6ZM257.6 428L260.8 429.5L259 432.5L255.8 431ZM260.8 429.5L264 430.9L262.3 433.9L259 432.5ZM264 430.9L267.3 432.4L265.5 435.4L262.3 433.9ZM267.3 432.4L270.5 433.8L268.7 436.8L265.5 435.4ZM270.5 433.8L273.8 435.3L272 438.2L268.7 436.8ZM273.8 435.3L277 436.7L275.2 439.7L272 438.2ZM277 436.7L280.2 438.1L278.5 441.1L275.2 439.7ZM280.2 438.1L283.5 439.6L281.7 442.6L278.5 441.1ZM283.5 439.6L286.7 441L284.9 444L281.7 442.6ZM286.7 441L289.9 442.5L288.2 445.5L284.9 444ZM289.9 442.5L293.2 443.9L291.4 446.9L288.2 445.5ZM293.2 443.9L296.4 445.4L294.6 448.4L291.4 446.9ZM296.4 445.4L299.6 446.8L297.9 449.8L294.6 448.4ZM299.6 446.8L302.9 448.3L301.1 451.2L297.9 449.8ZM302.9 448.3L306.1 449.7L304.3 452.7L301.1 451.2ZM306.1 449.7L309.3 451.2L307.6 454.1L304.3 452.7ZM309.3 451.2L312.6 452.6L310.8 455.6L307.6 454.1ZM312.6 452.6L315.8 454L314 457L310.8 455.6ZM249.3 428.1L252.6 429.6L250.8 432.6L247.6 431.1ZM252.6 429.6L255.8 431L254 434L250.8 432.6ZM255.8 431L259 432.5L257.3 435.4L254 434ZM259 432.5L262.3 433.9L260.5 436.9L257.3 435.4ZM262.3 433.9L265.5 435.4L263.7 438.3L260.5 436.9ZM265.5 435.4L268.7 436.8L267 439.8L263.7 438.3ZM268.7 436.8L272 438.2L270.2 441.2L267 439.8ZM272 438.2L275.2 439.7L273.4 442.7L270.2 441.2ZM275.2 439.7L278.5 441.1L276.7 444.1L273.4 442.7ZM278.5 441.1L281.7 442.6L279.9 445.6L276.7 444.1ZM281.7 442.6L284.9 444L283.2 447L279.9 445.6ZM284.9 444L288.2 445.5L286.4 448.5L283.2 447ZM288.2 445.5L291.4 446.9L289.6 449.9L286.4 448.5ZM291.4 446.9L294.6 448.4L292.9 451.3L289.6 449.9ZM294.6 448.4L297.9 449.8L296.1 452.8L292.9 451.3ZM297.9 449.8L301.1 451.2L299.3 454.2L296.1 452.8ZM301.1 451.2L304.3 452.7L302.6 455.7L299.3 454.2ZM304.3 452.7L307.6 454.1L305.8 457.1L302.6 455.7ZM307.6 454.1L310.8 455.6L309 458.6L305.8 457.1ZM310.8 455.6L314 457L312.3 460L309 458.6ZM247.6 431.1L250.8 432.6L249 435.5L245.8 434.1ZM250.8 432.6L254 434L252.3 437L249 435.5ZM254 434L257.3 435.4L255.5 438.4L252.3 437ZM257.3 435.4L260.5 436.9L258.7 439.9L255.5 438.4ZM260.5 436.9L263.7 438.3L262 441.3L258.7 439.9ZM263.7 438.3L267 439.8L265.2 442.8L262 441.3ZM267 439.8L270.2 441.2L268.4 444.2L265.2 442.8ZM270.2 441.2L273.4 442.7L271.7 445.7L268.4 444.2ZM273.4 442.7L276.7 444.1L274.9 447.1L271.7 445.7ZM276.7 444.1L279.9 445.6L278.2 448.6L274.9 447.1ZM279.9 445.6L283.2 447L281.4 450L278.2 448.6ZM283.2 447L286.4 448.5L284.6 451.4L281.4 450ZM286.4 448.5L289.6 449.9L287.9 452.9L284.6 451.4ZM289.6 449.9L292.9 451.3L291.1 454.3L287.9 452.9ZM292.9 451.3L296.1 452.8L294.3 455.8L291.1 454.3ZM296.1 452.8L299.3 454.2L297.6 457.2L294.3 455.8ZM299.3 454.2L302.6 455.7L300.8 458.7L297.6 457.2ZM302.6 455.7L305.8 457.1L304 460.1L300.8 458.7ZM305.8 457.1L309 458.6L307.3 461.6L304 460.1ZM309 458.6L312.3 460L310.5 463L307.3 461.6Z"/>
<path class="n" fill="#0386ff" d="M319.2 365L322.4 366.4L320.9 369.5L317.7 368.1ZM322.4 366.4L325.6 367.8L324.1 370.9L320.9 369.5ZM325.6 367.8L328.8 369.3L327.3 372.4L324.1 370.9ZM328.8 369.3L332 370.7L330.5 373.8L327.3 372.4ZM317.7 368.1L320.9 369.5L319 372.4L315.8 371ZM330.5 373.8L333.7 375.2L331.9 378.2L328.7 376.7ZM312.6 369.6L315.8 371L314 373.9L310.7 372.5ZM331.9 378.2L335.1 379.6L333.2 382.5L330 381.1ZM310.7 372.5L314 373.9L312.2 376.9L309 375.5ZM330 381.1L333.2 382.5L331.5 385.5L328.3 384.1ZM309 375.5L312.2 376.9L310.5 379.9L307.3 378.5ZM307.3 378.5L310.5 379.9L308.7 382.9L305.5 381.5ZM329.8 388.6L333 390L331.3 393L328.1 391.6ZM305.5 381.5L308.7 382.9L307 385.9L303.8 384.5ZM328.1 391.6L331.3 393L329.6 396L326.4 394.6ZM303.8 384.5L307 385.9L305.3 388.9L302 387.5ZM326.4 394.6L329.6 396L327.9 399L324.6 397.6ZM302 387.5L305.3 388.9L303.5 391.9L300.3 390.5ZM324.6 397.6L327.9 399L326.2 402L322.9 400.6ZM300.3 390.5L303.5 391.9L301.7 394.9L298.5 393.5ZM319.7 399.1L322.9 400.6L321.2 403.6L317.9 402.1ZM301.7 394.9L305 396.3L303.2 399.3L300 397.9ZM317.9 402.1L321.2 403.6L319.4 406.6L316.1 405.1ZM300 397.9L303.2 399.3L301.4 402.3L298.2 400.9ZM303.2 399.3L306.4 400.8L304.7 403.8L301.4 402.3ZM312.9 403.7L316.1 405.1L314.4 408.1L311.1 406.6ZM316.1 405.1L319.4 406.6L317.6 409.5L314.4 408.1ZM301.4 402.3L304.7 403.8L302.9 406.7L299.7 405.3ZM304.7 403.8L307.9 405.2L306.1 408.2L302.9 406.7ZM307.9 405.2L311.1 406.6L309.4 409.6L306.1 408.2ZM311.1 406.6L314.4 408.1L312.6 411.1L309.4 409.6Z"/>
<path class="n" fill="#018fff" d="M320.9 369.5L324.1 370.9L322.2 373.9L319 372.4ZM324.1 370.9L327.3 372.4L325.4 375.3L322.2 373.9ZM327.3 372.4L330.5 373.8L328.7 376.7L325.4 375.3ZM315.8 371L319 372.4L317.2 375.4L314 373.9ZM328.7 376.7L331.9 378.2L330 381.1L326.8 379.7ZM328.3 384.1L331.5 385.5L329.8 388.6L326.6 387.1ZM326.6 387.1L329.8 388.6L328.1 391.6L324.9 390.1ZM324.9 390.1L328.1 391.6L326.4 394.6L323.1 393.1ZM323.1 393.1L326.4 394.6L324.6 397.6L321.4 396.1ZM321.4 396.1L324.6 397.6L322.9 400.6L319.7 399.1ZM303.5 391.9L306.7 393.4L305 396.3L301.7 394.9ZM305 396.3L308.2 397.8L306.4 400.8L303.2 399.3ZM314.7 400.7L317.9 402.1L316.1 405.1L312.9 403.7ZM306.4 400.8L309.7 402.2L307.9 405.2L304.7 403.8ZM309.7 402.2L312.9 403.7L311.1 406.6L307.9 405.2Z"/>
<path class="n" fill="#009cff" d="M319 372.4L322.2 373.9L320.4 376.8L317.2 375.4ZM325.4 375.3L328.7 376.7L326.8 379.7L323.6 378.2ZM314 373.9L317.2 375.4L315.4 378.4L312.2 376.9ZM326.8 379.7L330 381.1L328.3 384.1L325.1 382.7ZM312.2 376.9L315.4 378.4L313.7 381.4L310.5 379.9ZM307 385.9L310.2 387.4L308.5 390.4L305.3 388.9ZM305.3 388.9L308.5 390.4L306.7 393.4L303.5 391.9ZM316.5 397.7L319.7 399.1L317.9 402.1L314.7 400.7ZM308.2 397.8L311.4 399.2L309.7 402.2L306.4 400.8ZM311.4 399.2L314.7 400.7L312.9 403.7L309.7 402.2Z"/>
<path class="n" fill="#00afff" d="M322.2 373.9L325.4 375.3L323.6 378.2L320.4 376.8ZM325.1 382.7L328.3 384.1L326.6 387.1L323.4 385.7ZM310.5 379.9L313.7 381.4L312 384.4L308.7 382.9ZM308.7 382.9L312 384.4L310.2 387.4L307 385.9ZM306.7 393.4L310 394.8L308.2 397.8L305 396.3Z"/>
<path class="n" fill="#00c2ff" d="M317.2 375.4L320.4 376.8L318.6 379.8L315.4 378.4ZM318.2 394.7L321.4 396.1L319.7 399.1L316.5 397.7ZM313.2 396.2L316.5 397.7L314.7 400.7L311.4 399.2Z"/>
<path class="n" fill="#00d5ff" d="M320.4 376.8L323.6 378.2L321.9 381.2L318.6 379.8ZM323.6 378.2L326.8 379.7L325.1 382.7L321.9 381.2ZM323.4 385.7L326.6 387.1L324.9 390.1L321.6 388.7ZM321.6 388.7L324.9 390.1L323.1 393.1L319.9 391.7ZM319.9 391.7L323.1 393.1L321.4 396.1L318.2 394.7ZM308.5 390.4L311.7 391.8L310 394.8L306.7 393.4ZM310 394.8L313.2 396.2L311.4 399.2L308.2 397.8Z"/>
<path class="n" fill="#00e5ff" d="M315.4 378.4L318.6 379.8L316.9 382.8L313.7 381.4ZM310.2 387.4L313.4 388.8L311.7 391.8L308.5 390.4ZM314.9 393.2L318.2 394.7L316.5 397.7L313.2 396.2Z"/>
<path class="n" fill="#00fff0" d="M318.6 379.8L321.9 381.2L320.1 384.2L316.9 382.8ZM320.1 384.2L323.4 385.7L321.6 388.7L318.4 387.2ZM316.7 390.2L319.9 391.7L318.2 394.7L314.9 393.2Z"/>
<path class="n" fill="#00f6ff" d="M321.9 381.2L325.1 382.7L323.4 385.7L320.1 384.2ZM313.7 381.4L316.9 382.8L315.2 385.8L312 384.4ZM312 384.4L315.2 385.8L313.4 388.8L310.2 387.4ZM311.7 391.8L314.9 393.2L313.2 396.2L310 394.8Z"/>
<path class="n" fill="#03ffd0" d="M316.9 382.8L320.1 384.2L318.4 387.2L315.2 385.8ZM318.4 387.2L321.6 388.7L319.9 391.7L316.7 390.2ZM313.4 388.8L316.7 390.2L314.9 393.2L311.7 391.8Z"/>
<path class="n" fill="#23ffbd" d="M315.2 385.8L318.4 387.2L316.7 390.2L313.4 388.8Z"/>
<circle class="q" cx="321.4" cy="379.6" r="1.4"/>
<circle class="q" cx="325.1" cy="367.8" r="1.6"/>
<circle class="q" cx="321.6" cy="371.9" r="2"/>
<circle class="q" cx="315.8" cy="373.1" r="1.3"/>
<circle class="q" cx="325.7" cy="371.3" r="2"/>
<circle class="q" cx="317" cy="369.5" r="2"/>
<circle class="q" cx="324.5" cy="379" r="2"/>
<circle class="q" cx="324.7" cy="368.6" r="1.2"/>
<circle class="q" cx="320.3" cy="369.4" r="2"/>
<circle class="q" cx="322.2" cy="371" r="2"/>
<circle class="q" cx="329.3" cy="374" r="1.5"/>
<circle class="q" cx="313.2" cy="363.3" r="1.5"/>
<circle class="q" cx="318.9" cy="357.2" r="1.5"/>
<circle class="q" cx="320.2" cy="363.1" r="1.3"/>
<circle class="q" cx="322.4" cy="369.5" r="1.3"/>
<circle class="q" cx="317.8" cy="371.7" r="1.8"/>
<circle class="q" cx="303.7" cy="347" r="2.2"/>
<circle class="q" cx="314.2" cy="357.8" r="1.6"/>
<circle class="q" cx="323.3" cy="357.8" r="1.5"/>
<circle class="q" cx="318.6" cy="361" r="2"/>
<circle class="q" cx="321.8" cy="360.4" r="1.5"/>
<circle class="q" cx="330.1" cy="361" r="1.4"/>
<circle class="q" cx="328.2" cy="365.5" r="1.5"/>
<circle class="q" cx="317.7" cy="367.4" r="2.6"/>
<circle class="q" cx="323.7" cy="368.6" r="1.5"/>
<circle class="q" cx="328.2" cy="369.9" r="1.5"/>
<circle class="q" cx="315.5" cy="371.8" r="2"/>
<circle class="q" cx="310.4" cy="374.4" r="2.6"/>
<circle class="q" cx="305.9" cy="376.9" r="1.9"/>
<circle class="q" cx="318" cy="374.4" r="1.6"/>
<circle class="q" cx="321.2" cy="376.3" r="1.5"/>
<circle class="q" cx="318.6" cy="380.1" r="2.3"/>
<circle class="q" cx="324.4" cy="380.7" r="2.3"/>
<circle class="q" cx="328.2" cy="379.5" r="1.4"/>
<circle class="q" cx="331.4" cy="383.9" r="1.6"/>
<circle class="q" cx="312.9" cy="383.9" r="1.5"/>
<circle class="q" cx="316.7" cy="385.2" r="1.7"/>
<circle class="q" cx="302.7" cy="385.8" r="1.4"/>
<circle class="q" cx="298.3" cy="386.8" r="1.7"/>
<circle class="q" cx="317.4" cy="389" r="1.6"/>
<circle class="q" cx="324.4" cy="389.6" r="1.5"/>
<circle class="q" cx="321.2" cy="391.5" r="1.8"/>
<circle class="q" cx="325.9" cy="392.2" r="1.8"/>
<circle class="q" cx="310.4" cy="390.3" r="1.3"/>
<circle class="q" cx="302.7" cy="396" r="1.8"/>
<circle class="q" cx="299.5" cy="398.5" r="1.5"/>
<circle class="q" cx="309.1" cy="398.8" r="1.4"/>
<circle class="q" cx="307.2" cy="407.5" r="1.8"/>
<circle class="q" cx="300.2" cy="338.3" r="2"/>
<circle class="q" cx="326.2" cy="373.6" r="1.4"/>
<circle class="q" cx="329.3" cy="376.1" r="1.5"/>
<circle class="q" cx="314" cy="381.3" r="1.4"/>
<circle class="q" cx="310.9" cy="380.7" r="1.3"/>
<circle class="q" cx="338.9" cy="415.2" r="1.9"/>
<circle class="q" cx="332.4" cy="429.4" r="1.9"/>
<circle class="q" cx="331.9" cy="425.5" r="1.1"/>
<path class="ax" d="M44.4 357.8L44.4 463.4L354.8 492.1L437.9 390.7M44.4 357.8L36.9 357.8M44.4 410.6L36.9 410.6M44.4 463.4L36.9 463.4M44.4 463.4L39.6 469.3M122 470.6L117.2 476.4M199.6 477.7L194.8 483.6M277.2 484.9L272.4 490.8M354.8 492.1L350 498M354.8 492.1L362 492.2M382.5 458.3L389.7 458.4M410.2 424.5L417.4 424.6M437.9 390.7L445.1 390.8"/>
<text x="35.1" y="362.3" text-anchor="end">0</text>
<text x="35.1" y="415.1" text-anchor="end">−10</text>
<text x="35.1" y="467.9" text-anchor="end">−20</text>
<text x="37.4" y="485.4" text-anchor="middle">101.0°E</text>
<text x="115" y="492.6" text-anchor="middle">101.2°E</text>
<text x="192.6" y="499.7" text-anchor="middle">101.4°E</text>
<text x="270.2" y="506.9" text-anchor="middle">101.6°E</text>
<text x="347.8" y="514.1" text-anchor="middle">101.8°E</text>
<text x="366" y="497">37.4°N</text>
<text x="393.7" y="463.2">37.6°N</text>
<text x="421.4" y="429.4">37.8°N</text>
<text x="449.1" y="395.6">38.0°N</text>
<text transform="translate(13.2 410.3) rotate(-90)" text-anchor="middle">Depth (km)</text>
<text x="36.5" y="34.4" style="font-size:14.5px">(a)</text>
<text x="36.3" y="284.4" style="font-size:14.5px">(b)</text>
<path class="ar" d="M396.9 60.7L397.1 41.2"/><path fill="#000" d="M397.1 37L399 42.2L395.2 42.2Z"/>
<path class="ar" d="M396.9 60.7L409.3 45.5"/><path fill="#000" d="M411.9 42.2L410.1 47.4L407.1 45Z"/>
<path class="ar" d="M396.9 60.7L415.7 61.8"/><path fill="#000" d="M419.9 62L414.6 63.6L414.8 59.8Z"/>
<path class="ar" d="M394.4 58.9L398.4 63M394.7 62.3L398.1 59.1"/>
<text x="387.6" y="54.3">U</text>
<text x="413.5" y="44.4">N</text>
<text x="405.7" y="71.5">E</text>
<path class="ar" d="M387.4 310.9L387.6 291.4"/><path fill="#000" d="M387.6 287.2L389.5 292.4L385.7 292.4Z"/>
<path class="ar" d="M387.4 310.9L399.8 295.7"/><path fill="#000" d="M402.4 292.4L400.6 297.6L397.6 295.2Z"/>
<path class="ar" d="M387.4 310.9L406.2 312"/><path fill="#000" d="M410.4 312.2L405.1 313.8L405.3 310Z"/>
<path class="ar" d="M384.9 309.1L388.9 313.2M385.2 312.5L388.6 309.3"/>
<text x="378.1" y="304.5">U</text>
<text x="404" y="294.6">N</text>
<text x="396.2" y="321.7">E</text>
<defs><linearGradient id="cb" x1="0" x2="1" y1="0" y2="0"><stop offset="0%" stop-color="#057cff"/><stop offset="6%" stop-color="#0096ff"/><stop offset="13%" stop-color="#00d2ff"/><stop offset="19%" stop-color="#00ffff"/><stop offset="22%" stop-color="#00ffd2"/><stop offset="29%" stop-color="#64ff96"/><stop offset="33.5%" stop-color="#96ff64"/><stop offset="40.5%" stop-color="#dcff1e"/><stop offset="47.5%" stop-color="#fff500"/><stop offset="56.7%" stop-color="#ffb400"/><stop offset="66.7%" stop-color="#ff6400"/><stop offset="75%" stop-color="#ff3200"/><stop offset="82%" stop-color="#ff0000"/><stop offset="91%" stop-color="#c80000"/><stop offset="100%" stop-color="#800000"/></linearGradient></defs>
<rect x="24.4" y="522.7" width="433.3" height="7.8" fill="url(#cb)"/>
<path d="M24.4 522.7L20.1 526.6L24.4 530.5Z" fill="#0385ff" stroke="#000" stroke-width="1.3" stroke-linejoin="miter"/>
<path d="M457.7 522.7L462 526.6L457.7 530.5Z" fill="#7a0000" stroke="#000" stroke-width="1.3"/>
<path d="M24.4 522.7H457.7M24.4 530.5H457.7" stroke="#000" stroke-width="1.4" fill="none"/>
<text x="24.4" y="545.9" text-anchor="middle">0.0</text>
<text x="168.8" y="545.9" text-anchor="middle">1.5</text>
<text x="313.3" y="545.9" text-anchor="middle">3.0</text>
<text x="457.7" y="545.9" text-anchor="middle">4.5</text>
<path d="M24.4 522.7V534.4M168.8 522.7V534.4M313.3 522.7V534.4M457.7 522.7V534.4" stroke="#000" stroke-width="1.2" fill="none"/>
<text x="466.8" y="530.6">m</text>
</svg>
</body></html>
